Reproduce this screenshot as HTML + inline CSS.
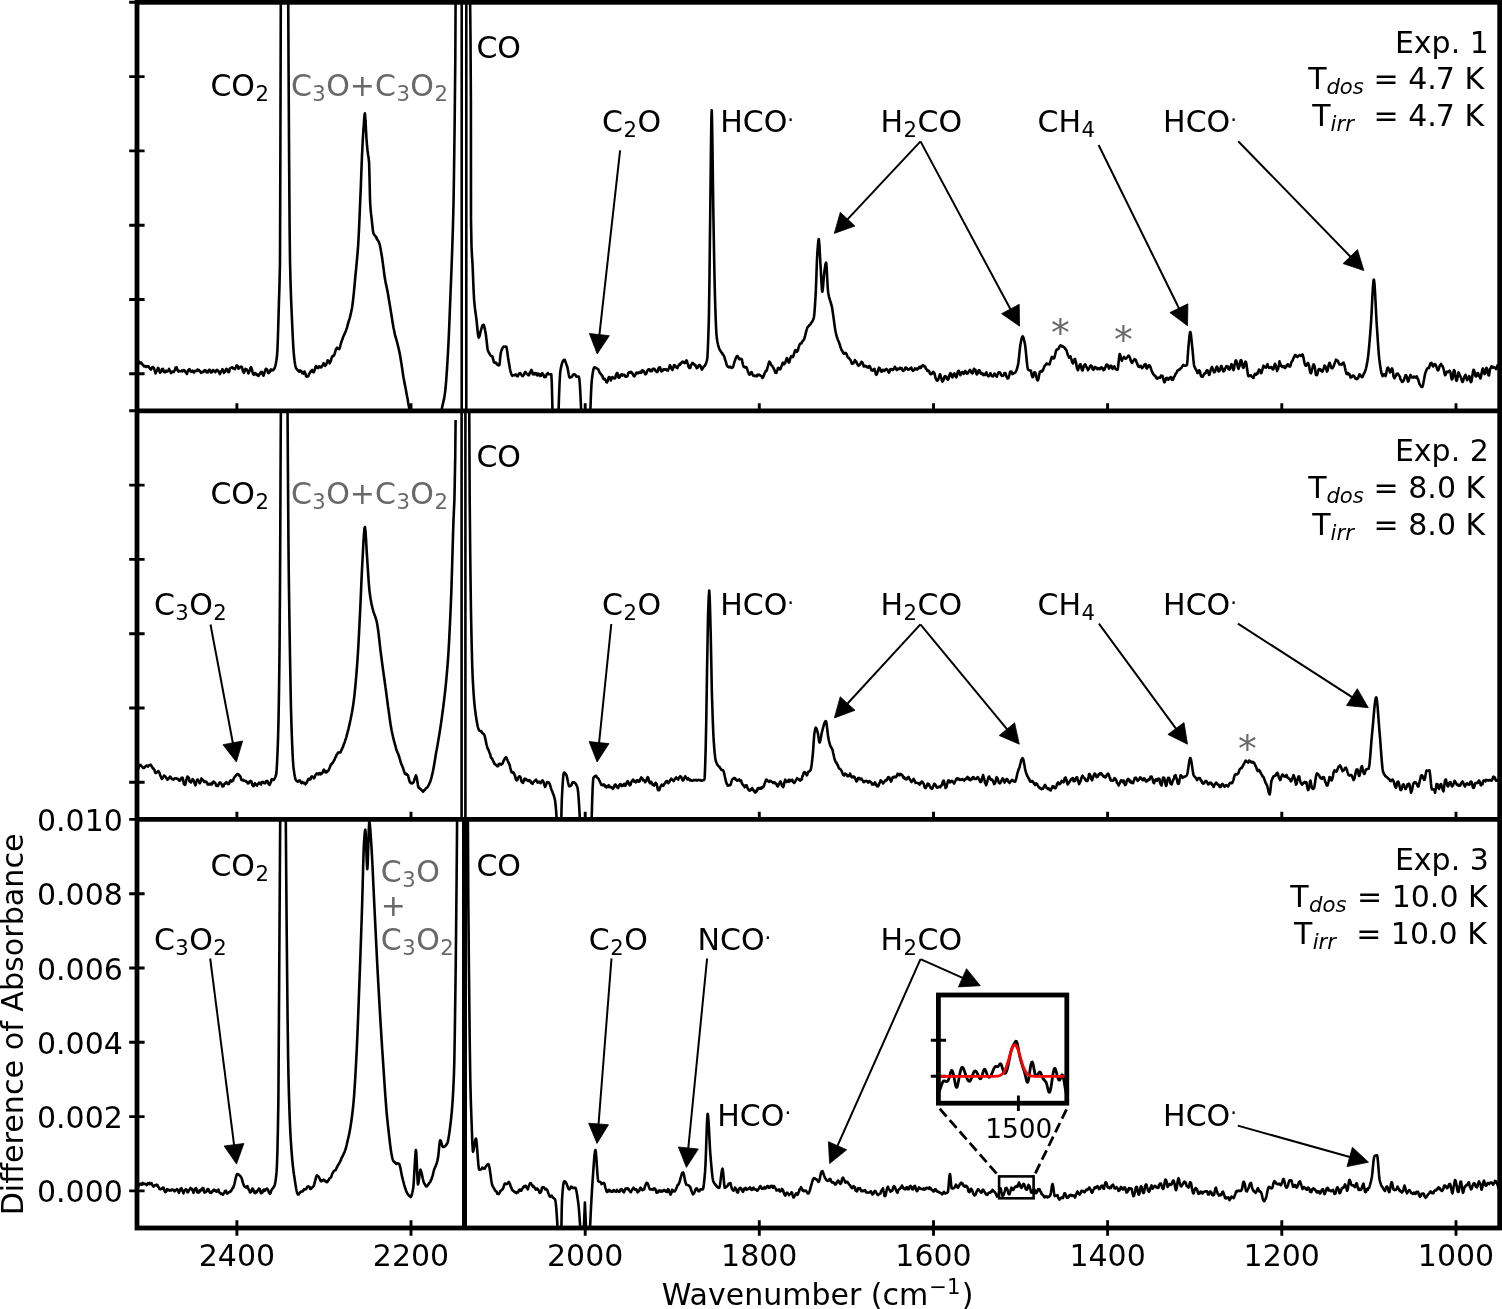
<!DOCTYPE html>
<html lang="en"><head><meta charset="utf-8"><title>Difference of Absorbance vs Wavenumber</title>
<style>html,body{margin:0;padding:0;background:#fff}svg{display:block}text{white-space:pre}</style>
</head><body>
<svg width="1502" height="1309" viewBox="0 0 1502 1309" font-family='"DejaVu Sans", "Liberation Sans", sans-serif' font-size="30.0">
<rect width="1502" height="1309" fill="#fff"/>
<defs>
<clipPath id="c1"><rect x="137.0" y="2.3" width="1362.7" height="408.59999999999997"/></clipPath>
<clipPath id="c2"><rect x="137.0" y="410.9" width="1362.7" height="408.5"/></clipPath>
<clipPath id="c3"><rect x="137.0" y="819.4" width="1362.7" height="408.6"/></clipPath>
<clipPath id="ci"><rect x="938.5" y="995" width="128.6" height="108"/></clipPath>
</defs>
<path clip-path="url(#c1)" d="M137.0,357.4 L137.5,358.6 L138.0,360.7 L138.5,361.4 L139.0,362.2 L139.5,363.0 L140.0,363.2 L140.5,363.0 L141.0,362.4 L141.5,362.9 L142.0,364.2 L142.5,364.3 L143.0,364.7 L143.5,365.8 L144.0,366.3 L144.5,366.0 L145.0,365.9 L145.5,366.1 L146.0,367.0 L146.5,366.4 L147.0,366.5 L147.5,366.3 L148.0,366.3 L148.5,366.2 L149.0,367.4 L149.5,367.9 L150.0,369.0 L150.5,368.9 L151.0,369.6 L151.5,368.5 L152.0,367.6 L152.5,367.2 L153.0,367.0 L153.5,367.9 L154.0,368.0 L154.5,369.9 L155.0,371.5 L155.5,373.4 L156.0,372.4 L156.5,371.0 L157.0,370.0 L157.5,369.4 L158.0,367.9 L158.5,368.3 L159.0,370.4 L159.5,371.6 L160.0,372.7 L160.5,372.0 L161.0,371.9 L161.5,370.4 L162.0,369.0 L162.5,369.1 L163.0,368.8 L163.5,371.3 L164.0,371.8 L164.5,372.3 L165.0,372.2 L165.5,371.4 L166.0,370.6 L166.5,371.6 L167.0,371.2 L167.5,371.4 L168.0,371.0 L168.5,370.5 L169.0,368.9 L169.5,370.3 L170.0,370.5 L170.5,371.9 L171.0,373.1 L171.5,372.6 L172.0,371.8 L172.5,372.0 L173.0,371.8 L173.5,372.1 L174.0,372.0 L174.5,370.3 L175.0,370.0 L175.5,367.7 L176.0,367.5 L176.5,367.3 L177.0,368.3 L177.5,370.0 L178.0,371.1 L178.5,371.6 L179.0,370.8 L179.5,370.9 L180.0,371.3 L180.5,371.3 L181.0,371.2 L181.5,371.1 L182.0,370.5 L182.5,371.3 L183.0,370.3 L183.5,370.0 L184.0,370.0 L184.5,370.6 L185.0,371.2 L185.5,372.3 L186.0,372.6 L186.5,373.2 L187.0,373.9 L187.5,371.9 L188.0,370.6 L188.5,369.9 L189.0,369.6 L189.5,369.1 L190.0,370.2 L190.5,371.4 L191.0,371.4 L191.5,371.3 L192.0,371.8 L192.5,370.7 L193.0,371.2 L193.5,371.3 L194.0,372.6 L194.5,371.1 L195.0,371.3 L195.5,370.9 L196.0,371.0 L196.5,370.8 L197.0,371.0 L197.5,369.5 L198.0,370.4 L198.5,370.0 L199.0,370.1 L199.5,371.2 L200.0,371.3 L200.5,371.5 L201.0,372.8 L201.5,372.4 L202.0,372.4 L202.5,372.2 L203.0,371.6 L203.5,371.9 L204.0,370.9 L204.5,370.1 L205.0,370.3 L205.5,370.3 L206.0,370.7 L206.5,372.3 L207.0,372.4 L207.5,371.7 L208.0,372.1 L208.5,370.7 L208.9,370.1 L209.4,369.7 L209.9,370.3 L210.4,370.9 L210.9,372.4 L211.4,372.5 L211.9,372.2 L212.4,371.5 L212.9,370.0 L213.4,370.4 L213.9,370.6 L214.4,371.3 L214.9,370.8 L215.4,372.2 L215.9,371.3 L216.4,370.4 L216.9,369.8 L217.4,370.3 L217.9,370.5 L218.4,370.9 L218.9,372.3 L219.4,373.1 L219.9,374.1 L220.4,372.9 L220.9,371.9 L221.4,370.9 L221.9,370.8 L222.4,369.2 L222.9,370.2 L223.4,371.1 L223.9,372.8 L224.4,372.2 L224.9,372.0 L225.4,371.2 L225.9,369.5 L226.4,368.8 L226.9,369.2 L227.4,369.5 L227.9,371.1 L228.4,372.3 L228.9,372.3 L229.4,371.0 L229.9,368.8 L230.4,368.1 L230.9,367.8 L231.4,367.5 L231.9,367.4 L232.4,367.4 L232.9,368.5 L233.4,368.3 L233.9,368.3 L234.4,368.6 L234.9,369.2 L235.4,368.0 L235.9,367.3 L236.4,365.6 L236.9,365.8 L237.4,365.5 L237.9,366.6 L238.4,368.7 L238.9,368.5 L239.4,367.9 L239.9,367.4 L240.4,366.9 L240.9,367.0 L241.4,366.6 L241.9,367.1 L242.4,369.2 L242.9,370.9 L243.4,372.0 L243.9,372.8 L244.4,371.7 L244.9,370.8 L245.4,368.9 L245.9,369.1 L246.4,369.5 L246.9,369.5 L247.4,370.4 L247.9,371.7 L248.4,373.4 L248.9,372.2 L249.4,371.5 L249.9,370.1 L250.4,368.5 L250.9,367.1 L251.4,367.8 L251.9,369.1 L252.4,371.6 L252.9,373.5 L253.4,374.3 L253.9,374.8 L254.4,374.5 L254.9,373.0 L255.4,373.2 L255.9,374.0 L256.4,373.8 L256.9,374.9 L257.4,374.6 L257.9,375.5 L258.4,375.9 L258.9,375.6 L259.4,374.2 L259.9,374.0 L260.4,372.9 L260.9,372.2 L261.4,372.6 L261.9,371.9 L262.4,374.0 L262.9,374.6 L263.4,375.7 L263.9,374.6 L264.4,372.7 L264.9,371.4 L265.4,370.0 L265.9,368.8 L266.4,369.0 L266.9,369.4 L267.4,369.9 L267.9,372.4 L268.4,373.1 L268.9,373.0 L269.4,372.4 L269.9,371.8 L270.4,370.1 L270.9,369.4 L271.4,369.7 L271.9,370.4 L272.0,370.0 L272.4,370.1 L272.9,370.3 L273.4,369.8 L273.9,369.2 L274.0,369.0 L274.4,368.5 L274.9,367.3 L275.4,365.5 L275.9,363.2 L276.4,360.3 L276.9,356.8 L277.0,356.0 L277.4,350.3 L277.9,337.5 L278.4,320.9 L278.9,303.4 L279.0,300.0 L279.4,288.1 L279.9,266.7 L280.0,260.0 L280.4,145.8 L280.8,0.0 L280.9,-20.0 M288.1,-20.0 L288.2,0.0 L288.6,71.9 L289.1,158.2 L289.6,227.1 L290.0,260.0 L290.1,264.8 L290.6,284.8 L291.1,299.5 L291.6,311.2 L292.0,320.0 L292.1,322.2 L292.6,333.2 L293.1,343.2 L293.6,351.3 L294.0,356.0 L294.1,356.8 L294.6,361.0 L295.1,364.4 L295.6,366.9 L296.0,368.0 L296.1,368.2 L296.6,368.9 L297.1,369.5 L297.6,370.0 L298.1,370.4 L298.6,371.3 L299.1,371.1 L299.6,371.6 L300.1,370.4 L300.6,371.4 L301.1,371.6 L301.6,371.3 L302.1,373.2 L302.6,373.1 L303.1,373.3 L303.6,373.6 L304.1,371.8 L304.6,371.5 L305.1,373.2 L305.6,374.0 L306.1,376.1 L306.6,376.6 L307.1,376.4 L307.6,376.5 L308.1,376.3 L308.6,375.3 L309.1,374.0 L309.6,373.2 L310.1,372.3 L310.6,371.3 L311.1,371.6 L311.6,370.4 L312.1,370.0 L312.6,370.8 L313.1,372.0 L313.6,372.2 L314.1,371.5 L314.6,370.1 L315.1,368.8 L315.6,366.6 L316.1,366.0 L316.6,367.2 L317.1,367.3 L317.6,368.0 L318.1,368.1 L318.6,367.1 L319.1,366.3 L319.6,367.2 L320.1,366.8 L320.6,366.7 L321.1,367.4 L321.6,367.0 L322.1,365.9 L322.6,365.4 L323.1,364.4 L323.6,363.1 L324.1,364.2 L324.6,365.1 L325.1,365.9 L325.6,365.3 L326.1,364.9 L326.6,363.4 L327.1,361.9 L327.6,360.4 L328.1,360.9 L328.6,360.7 L329.1,362.0 L329.6,363.3 L330.1,362.4 L330.6,361.4 L331.1,360.2 L331.6,357.9 L332.1,356.6 L332.6,356.1 L333.1,356.3 L333.6,355.2 L334.1,355.2 L334.6,353.9 L335.1,352.1 L335.6,350.3 L336.1,348.8 L336.6,348.3 L337.1,347.7 L337.6,348.4 L338.1,349.0 L338.6,349.0 L339.1,349.1 L339.6,348.5 L340.1,346.6 L340.6,344.5 L341.1,342.8 L341.6,341.1 L342.1,340.0 L342.6,338.8 L343.1,337.1 L343.6,335.9 L344.1,335.1 L344.6,333.7 L345.1,332.8 L345.6,331.5 L346.1,330.2 L346.6,328.7 L347.1,327.4 L347.6,325.2 L348.1,323.4 L348.6,321.7 L349.1,320.2 L349.6,318.7 L350.1,316.9 L350.5,315.0 L351.0,312.8 L351.5,310.4 L352.0,308.0 L352.5,304.6 L353.0,300.6 L353.5,296.1 L354.0,291.1 L354.5,285.8 L355.0,280.3 L355.5,274.9 L356.0,270.0 L356.5,264.5 L357.0,259.3 L357.5,253.7 L358.0,247.3 L358.2,245.0 L358.5,239.3 L359.0,229.4 L359.5,218.0 L360.0,206.0 L360.5,193.9 L360.6,192.6 L361.0,181.5 L361.5,168.1 L362.0,155.6 L362.3,150.0 L362.5,145.3 L363.0,136.3 L363.5,128.6 L363.8,125.0 L364.0,121.8 L364.5,115.3 L364.9,113.4 L365.0,114.0 L365.5,121.0 L365.6,122.0 L366.0,130.3 L366.4,137.0 L366.5,138.9 L367.0,145.2 L367.5,150.4 L367.6,151.0 L368.0,154.2 L368.5,157.2 L369.0,161.8 L369.1,162.6 L369.5,176.9 L370.0,198.7 L370.2,203.0 L370.5,208.0 L371.0,213.4 L371.5,217.6 L371.8,220.0 L372.0,222.2 L372.5,227.2 L373.0,231.3 L373.4,233.0 L373.5,233.4 L374.0,234.4 L374.5,235.0 L375.0,235.6 L375.5,236.1 L376.0,237.0 L376.5,238.1 L376.6,237.5 L377.0,239.4 L377.5,239.8 L378.0,240.4 L378.5,241.3 L379.0,242.4 L379.4,244.0 L379.5,243.8 L380.0,245.9 L380.5,248.3 L381.0,251.2 L381.5,254.2 L382.0,257.0 L382.5,260.6 L383.0,264.3 L383.5,268.2 L384.0,272.0 L384.5,275.8 L385.0,279.1 L385.2,280.0 L385.5,281.7 L386.0,284.2 L386.5,286.6 L387.0,288.9 L387.5,291.2 L388.0,294.0 L388.5,297.2 L389.0,300.1 L389.5,303.2 L390.0,306.0 L390.5,309.2 L391.0,312.2 L391.5,315.4 L392.0,318.4 L392.5,321.8 L393.0,324.8 L393.5,327.8 L394.0,330.0 L394.5,332.6 L395.0,335.0 L395.5,336.6 L396.0,338.4 L396.5,340.2 L397.0,341.9 L397.5,344.0 L398.0,346.0 L398.5,347.9 L399.0,350.0 L399.5,352.6 L400.0,355.0 L400.5,358.0 L401.0,361.1 L401.5,364.1 L402.0,367.5 L402.5,370.7 L403.0,374.1 L403.5,377.4 L404.0,380.0 L404.5,383.1 L405.0,385.4 L405.5,387.8 L406.0,390.5 L406.5,393.2 L407.0,395.9 L407.5,398.6 L408.0,401.6 L408.5,404.4 L409.0,406.9 L409.2,408.0 L409.5,409.7 L410.0,412.8 L410.5,416.0 L411.0,419.2 L411.5,422.5 L412.0,425.5 M438.0,425.1 L438.5,423.0 L439.0,421.3 L439.5,419.4 L440.0,417.2 L440.5,414.6 L441.0,412.5 L441.5,410.2 L442.0,408.0 L442.5,405.6 L443.0,403.4 L443.5,401.1 L444.1,398.6 L444.6,395.6 L445.0,392.6 L445.1,392.1 L445.6,387.5 L446.1,381.7 L446.6,374.8 L447.1,367.2 L447.6,358.9 L448.1,350.3 L448.6,340.5 L449.1,329.1 L449.6,316.7 L450.1,303.9 L450.4,296.4 L450.6,291.3 L451.1,278.9 L451.6,266.2 L452.1,252.6 L452.6,237.4 L452.7,235.0 L453.1,220.3 L453.6,200.0 L454.1,165.4 L454.6,128.0 L455.1,79.1 L455.3,60.0 L455.6,0.0 M461.7,-20.0 L461.7,425.0 M466.3,-20.0 L466.3,425.0 M470.0,-20.0 L470.1,0.0 L470.5,37.6 L470.9,100.0 L471.0,219.6 L471.5,246.2 L472.0,256.3 L472.5,263.4 L472.6,265.8 L473.0,275.9 L473.5,288.3 L474.0,298.0 L474.1,299.5 L474.5,304.0 L475.0,308.6 L475.5,312.5 L476.0,316.1 L476.4,319.3 L476.5,320.0 L477.0,324.9 L477.5,330.0 L478.0,334.5 L478.5,337.1 L478.7,337.6 L479.0,337.4 L479.5,336.1 L480.0,334.1 L480.5,331.9 L481.0,330.2 L481.5,328.5 L482.0,326.7 L482.5,325.5 L483.0,324.7 L483.3,324.7 L483.5,324.7 L484.0,325.7 L484.5,327.6 L485.0,329.9 L485.5,332.5 L485.6,333.0 L486.0,335.5 L486.5,339.9 L487.0,344.5 L487.5,348.5 L487.9,350.6 L488.0,350.7 L488.5,351.8 L489.0,352.8 L489.5,353.6 L490.0,354.5 L490.5,355.4 L490.9,355.8 L491.4,356.1 L491.9,356.3 L492.4,356.3 L492.9,358.5 L493.4,360.0 L493.9,362.2 L494.4,362.6 L494.9,362.6 L495.4,362.5 L495.9,362.5 L496.4,363.4 L496.9,364.3 L497.4,364.6 L497.9,364.9 L498.4,365.3 L498.9,365.4 L499.3,365.0 L499.4,365.1 L499.9,361.2 L500.4,355.7 L500.8,353.0 L500.9,352.5 L501.4,350.8 L501.9,349.4 L502.4,348.2 L502.9,347.3 L503.4,346.8 L503.9,346.5 L504.4,346.8 L504.9,346.7 L505.4,346.6 L505.9,346.7 L506.2,346.8 L506.4,346.9 L506.9,349.2 L507.4,352.7 L507.9,356.5 L508.4,360.1 L508.5,360.6 L508.9,362.8 L509.4,365.5 L509.9,368.4 L510.4,370.8 L510.9,372.7 L511.4,374.4 L511.9,375.2 L512.3,375.8 L512.4,375.4 L512.9,375.5 L513.4,375.3 L513.9,375.3 L514.4,375.2 L514.9,374.9 L515.4,375.0 L515.9,374.5 L516.4,375.0 L516.9,376.1 L517.4,376.1 L517.9,376.2 L518.4,374.6 L518.9,374.1 L519.4,373.3 L519.9,373.2 L520.4,373.1 L520.9,374.5 L521.4,374.8 L521.9,375.6 L522.4,376.0 L522.9,376.1 L523.4,375.0 L523.9,374.7 L524.4,373.3 L524.9,372.3 L525.4,371.9 L525.9,372.4 L526.4,373.2 L526.9,373.9 L527.4,374.2 L527.9,374.9 L528.4,374.9 L528.9,375.4 L529.4,374.3 L529.9,372.3 L530.4,372.5 L530.9,370.8 L531.4,369.9 L531.9,370.9 L532.3,371.8 L532.8,374.3 L533.3,374.4 L533.8,373.6 L534.3,374.1 L534.8,373.2 L535.3,374.1 L535.8,373.1 L536.3,373.3 L536.8,375.2 L537.3,375.4 L537.8,375.0 L538.3,373.7 L538.8,374.4 L539.3,375.2 L539.8,374.2 L540.3,376.0 L540.8,375.1 L541.3,375.6 L541.8,373.8 L542.3,373.1 L542.8,373.9 L543.3,374.7 L543.8,375.6 L544.3,377.1 L544.8,376.9 L545.3,376.0 L545.8,377.0 L546.3,375.0 L546.8,374.1 L547.3,374.0 L547.8,373.0 L548.3,374.2 L548.8,374.3 L549.3,374.3 L549.8,374.3 L550.3,374.3 L550.8,374.3 L551.3,374.3 L551.8,383.3 L552.3,403.5 L552.8,425.0 M558.1,425.0 L558.6,409.1 L559.1,394.3 L559.6,382.0 L560.1,373.6 L560.4,371.0 L560.6,369.8 L561.1,367.1 L561.6,364.9 L562.1,363.1 L562.6,361.7 L563.1,360.8 L563.6,360.2 L563.8,360.3 L564.2,359.7 L564.7,359.8 L565.2,361.0 L565.7,362.4 L566.2,363.9 L566.7,365.4 L567.2,366.8 L567.3,366.7 L567.7,368.8 L568.2,371.4 L568.7,374.3 L569.2,376.8 L569.6,377.4 L569.7,377.6 L570.2,377.5 L570.7,377.5 L571.2,377.2 L571.7,376.9 L572.2,376.4 L572.7,375.2 L573.2,374.7 L573.7,374.4 L574.2,374.2 L574.7,374.6 L575.2,374.6 L575.7,375.4 L576.3,376.6 L576.8,376.6 L577.3,376.6 L577.8,376.6 L578.3,376.6 L578.8,376.6 L579.3,378.5 L579.8,383.9 L580.3,392.2 L580.8,402.4 L581.3,413.6 L581.8,425.0 M589.9,425.0 L590.4,409.7 L590.9,396.1 L591.4,385.6 L591.8,380.4 L591.9,379.5 L592.4,375.5 L592.9,372.0 L593.4,369.4 L593.9,367.8 L594.3,367.4 L594.4,367.4 L594.9,367.4 L595.4,367.7 L595.9,368.0 L596.4,368.3 L596.9,368.6 L597.4,368.7 L597.9,369.0 L598.4,369.6 L598.9,370.9 L599.4,371.9 L599.9,373.3 L600.4,373.4 L600.9,374.2 L601.4,374.5 L601.9,375.8 L602.4,375.9 L602.9,377.5 L603.4,378.6 L603.9,378.8 L604.4,379.6 L604.9,378.9 L605.4,380.2 L605.9,380.5 L606.4,382.2 L606.9,382.5 L607.4,381.5 L607.9,380.6 L608.4,378.5 L608.9,377.0 L609.4,377.0 L609.9,377.3 L610.4,378.9 L610.9,380.4 L611.4,378.9 L611.9,378.4 L612.4,377.0 L612.9,377.4 L613.4,377.8 L613.9,378.4 L614.4,378.3 L614.9,378.4 L615.4,377.8 L615.9,375.2 L616.4,374.0 L616.9,373.0 L617.4,373.1 L617.9,375.8 L618.4,377.4 L618.9,377.8 L619.4,377.6 L619.9,376.7 L620.4,375.1 L620.9,374.8 L621.4,374.6 L621.9,374.2 L622.4,375.7 L622.9,375.4 L623.4,374.9 L623.9,375.0 L624.4,374.8 L624.9,375.7 L625.4,376.7 L625.9,376.8 L626.4,376.3 L626.9,376.4 L627.4,376.3 L627.9,374.5 L628.4,372.9 L628.9,372.4 L629.4,372.4 L629.9,372.4 L630.4,372.6 L630.9,371.8 L631.4,372.1 L631.9,372.6 L632.4,373.7 L632.9,373.9 L633.4,375.5 L633.9,375.4 L634.4,376.4 L634.9,375.6 L635.4,374.7 L635.9,373.5 L636.4,372.6 L636.9,373.3 L637.4,372.9 L637.9,373.4 L638.4,372.6 L638.9,372.5 L639.4,372.7 L639.9,373.0 L640.4,371.9 L640.9,372.7 L641.4,372.6 L641.9,370.6 L642.4,370.9 L642.9,370.4 L643.4,371.0 L643.9,371.3 L644.4,372.2 L644.9,373.5 L645.4,374.3 L645.9,374.1 L646.4,373.3 L646.9,372.0 L647.4,370.6 L647.9,369.9 L648.4,369.4 L648.9,369.9 L649.4,369.4 L649.9,370.5 L650.4,371.1 L650.9,370.5 L651.4,369.9 L651.9,371.2 L652.4,370.3 L652.9,368.8 L653.4,369.4 L653.9,369.2 L654.4,368.9 L654.9,369.7 L655.4,370.3 L655.9,371.3 L656.4,371.3 L656.9,372.0 L657.4,372.0 L657.9,370.9 L658.4,368.6 L658.9,367.7 L659.4,367.9 L659.9,367.3 L660.4,368.4 L660.9,370.3 L661.4,371.4 L661.9,371.3 L662.4,370.1 L662.9,370.5 L663.4,369.3 L663.9,369.7 L664.4,369.3 L664.9,369.5 L665.4,369.7 L665.9,369.2 L666.4,369.9 L666.9,370.4 L667.4,370.2 L667.9,370.6 L668.4,369.1 L668.9,368.5 L669.4,366.7 L669.9,365.3 L670.4,366.0 L670.9,366.9 L671.4,368.2 L671.9,369.4 L672.4,370.0 L672.9,368.7 L673.4,367.6 L673.9,365.4 L674.4,365.1 L674.9,365.4 L675.4,365.9 L675.9,366.9 L676.4,367.5 L676.9,367.9 L677.4,368.1 L677.9,366.7 L678.4,365.6 L678.9,365.6 L679.4,364.3 L679.9,365.0 L680.4,363.3 L680.9,363.6 L681.4,362.5 L681.9,362.6 L682.4,361.6 L682.9,361.8 L683.4,361.9 L683.9,362.2 L684.4,362.9 L684.9,363.2 L685.4,361.6 L685.9,361.3 L686.4,360.4 L686.9,360.8 L687.4,363.3 L687.9,363.8 L688.4,366.5 L688.9,367.3 L689.4,368.0 L689.9,367.3 L690.4,367.8 L690.9,365.1 L691.4,364.8 L691.9,364.0 L692.4,362.9 L692.9,363.2 L693.4,363.9 L693.9,363.8 L694.4,364.5 L694.9,365.4 L695.4,365.2 L695.9,366.2 L696.4,367.5 L696.9,368.2 L697.4,367.7 L697.9,367.4 L698.4,366.4 L698.9,365.2 L699.4,365.0 L699.9,365.0 L700.4,366.0 L700.9,366.9 L701.4,368.5 L701.9,369.6 L702.4,368.6 L702.9,368.2 L703.4,367.0 L703.9,366.4 L704.4,366.2 L704.9,365.6 L705.4,364.7 L705.9,363.6 L706.4,362.1 L706.9,360.4 L707.1,359.7 L707.4,357.1 L707.9,348.0 L708.4,333.9 L708.9,316.9 L709.4,284.2 L709.9,239.6 L710.2,216.0 L710.4,198.6 L710.9,152.5 L711.4,117.0 L711.7,110.2 L711.9,113.5 L712.4,140.9 L712.9,181.3 L713.4,216.0 L713.9,244.7 L714.4,271.7 L714.9,294.4 L715.2,304.3 L715.4,310.6 L715.9,324.0 L716.4,333.8 L716.7,337.0 L716.9,338.6 L717.4,341.7 L717.9,344.2 L718.4,346.2 L718.9,347.7 L719.4,349.0 L719.7,349.6 L719.9,350.1 L720.4,350.7 L720.9,351.5 L721.4,352.3 L721.9,353.2 L722.4,353.3 L722.9,354.7 L723.4,355.0 L723.9,355.7 L724.4,357.1 L724.9,359.0 L725.4,360.4 L725.9,361.9 L726.4,363.9 L726.9,365.7 L727.4,366.1 L727.9,366.7 L728.4,366.9 L728.9,367.4 L729.4,366.8 L729.9,367.2 L730.4,366.7 L730.9,367.1 L731.4,367.9 L731.9,368.0 L732.4,367.4 L732.9,367.3 L733.4,365.8 L733.9,363.7 L734.4,362.1 L734.9,360.7 L735.4,359.2 L735.9,358.0 L736.4,356.8 L736.9,356.3 L737.4,355.9 L737.9,356.8 L738.4,357.4 L738.9,358.8 L739.4,359.3 L739.9,358.9 L740.4,358.9 L740.9,358.8 L741.4,358.9 L741.9,359.5 L742.4,362.4 L742.9,364.5 L743.4,366.2 L743.9,366.8 L744.4,367.1 L744.9,367.4 L745.4,367.0 L745.9,366.9 L746.4,367.3 L746.9,368.3 L747.4,369.8 L747.9,371.8 L748.4,372.4 L748.9,374.1 L749.4,374.7 L749.9,374.5 L750.4,374.1 L750.9,373.3 L751.4,372.0 L751.9,372.4 L752.4,374.2 L752.9,374.9 L753.4,375.7 L753.9,375.5 L754.4,375.6 L754.9,376.1 L755.4,375.9 L755.9,375.8 L756.4,376.2 L756.9,376.2 L757.4,374.8 L757.9,375.4 L758.4,375.2 L758.9,374.6 L759.4,375.1 L759.9,375.1 L760.4,375.6 L760.9,376.0 L761.4,376.0 L761.9,376.7 L762.4,378.0 L762.9,377.6 L763.4,376.7 L763.9,375.2 L764.4,374.1 L764.9,372.6 L765.4,371.9 L765.9,370.9 L766.4,371.0 L766.9,369.8 L767.4,367.9 L767.9,366.3 L768.4,364.3 L768.9,362.7 L769.4,361.7 L769.9,362.1 L770.4,362.9 L770.9,364.3 L771.4,365.4 L771.9,365.7 L772.4,366.1 L772.9,367.4 L773.4,367.9 L773.9,368.9 L774.4,370.0 L774.9,371.3 L775.4,372.7 L775.9,372.6 L776.4,372.9 L776.9,371.2 L777.4,369.9 L777.9,368.2 L778.4,367.8 L778.9,368.1 L779.4,369.1 L779.9,369.4 L780.4,369.1 L780.9,368.1 L781.4,366.4 L781.9,365.1 L782.4,363.4 L782.9,362.7 L783.4,363.3 L783.9,364.3 L784.4,363.8 L784.9,363.5 L785.4,362.1 L785.9,360.8 L786.4,359.1 L786.9,358.0 L787.4,358.7 L787.9,360.5 L788.4,362.0 L788.9,362.5 L789.4,361.9 L789.9,359.9 L790.4,358.0 L790.9,357.2 L791.4,356.1 L791.9,356.9 L792.4,356.6 L792.9,357.0 L793.4,355.9 L793.9,354.1 L794.4,352.8 L794.9,350.8 L795.4,350.0 L795.9,350.0 L796.4,350.4 L796.9,351.8 L797.4,351.1 L797.9,350.4 L798.4,348.2 L798.9,346.6 L799.4,345.1 L799.9,344.1 L800.4,343.5 L800.9,343.4 L801.4,343.4 L801.9,342.2 L802.4,341.4 L802.9,340.5 L803.4,340.5 L803.9,339.5 L804.4,338.2 L804.9,336.8 L805.4,334.5 L805.9,332.6 L806.4,330.7 L806.9,329.0 L807.4,327.4 L807.9,326.7 L808.4,326.5 L808.9,326.1 L809.4,325.0 L809.9,325.0 L810.4,324.4 L810.9,323.2 L811.4,322.7 L811.9,322.0 L812.4,321.3 L812.9,320.3 L813.4,319.1 L813.8,318.0 L813.9,317.5 L814.4,313.3 L814.9,306.6 L815.4,298.3 L815.8,291.7 L815.9,289.2 L816.4,275.9 L816.9,261.5 L817.3,253.9 L817.4,252.1 L817.9,245.4 L818.4,240.5 L818.8,239.2 L818.9,239.5 L819.4,244.7 L819.9,253.9 L820.4,263.6 L820.6,266.5 L820.9,272.1 L821.4,281.8 L821.9,289.6 L822.3,291.7 L822.4,291.6 L822.9,288.3 L823.4,282.4 L823.9,276.1 L824.4,271.5 L824.9,267.8 L825.4,264.6 L825.9,262.8 L826.1,262.7 L826.4,264.3 L826.9,272.0 L827.4,282.0 L827.9,290.1 L828.1,291.7 L828.4,293.7 L828.9,296.2 L829.4,298.2 L829.9,299.9 L830.4,301.4 L830.9,303.0 L831.4,304.9 L831.9,306.8 L832.4,309.7 L832.9,313.0 L833.4,316.6 L833.9,320.4 L834.4,324.2 L834.9,327.6 L835.4,330.7 L835.7,332.0 L835.9,333.1 L836.4,335.1 L836.9,336.9 L837.4,338.5 L837.9,339.9 L838.4,341.1 L838.9,342.3 L839.4,343.5 L839.9,345.1 L840.4,347.1 L840.9,348.1 L841.4,349.6 L841.9,350.6 L842.4,350.9 L842.9,352.5 L843.4,353.3 L843.9,353.7 L844.4,353.3 L844.9,352.9 L845.4,353.2 L845.9,353.0 L846.4,354.0 L846.9,354.9 L847.4,356.5 L847.9,357.5 L848.4,357.6 L848.9,357.7 L849.4,358.8 L849.9,359.3 L850.4,359.8 L850.9,361.1 L851.4,362.4 L851.9,363.7 L852.4,363.0 L852.9,363.4 L853.4,363.4 L853.9,361.9 L854.4,362.0 L854.9,360.1 L855.4,362.0 L855.9,361.8 L856.4,361.5 L856.9,363.3 L857.4,364.2 L857.9,365.1 L858.4,365.8 L858.9,365.5 L859.4,365.0 L859.9,364.5 L860.4,363.7 L860.9,362.9 L861.4,361.8 L861.9,361.9 L862.4,362.8 L862.9,363.6 L863.4,365.6 L863.9,366.5 L864.4,365.6 L864.9,366.2 L865.4,365.9 L865.9,366.0 L866.4,366.9 L866.9,366.6 L867.4,367.0 L867.9,367.6 L868.4,367.7 L868.9,366.5 L869.4,366.0 L869.9,366.7 L870.4,367.5 L870.9,368.9 L871.4,370.3 L871.9,370.2 L872.4,370.6 L872.9,369.7 L873.4,369.7 L873.9,369.2 L874.4,368.8 L874.9,371.1 L875.4,371.8 L875.9,374.4 L876.4,374.8 L876.9,374.0 L877.4,372.5 L877.9,370.9 L878.4,369.1 L878.9,367.7 L879.4,368.3 L879.9,368.3 L880.4,370.3 L880.9,371.3 L881.4,370.9 L881.9,371.7 L882.4,370.6 L882.9,369.8 L883.4,370.4 L883.9,370.5 L884.4,370.9 L884.9,369.8 L885.4,370.0 L885.9,369.3 L886.4,368.9 L886.9,369.4 L887.4,369.8 L887.9,370.5 L888.4,372.0 L888.9,372.6 L889.4,372.0 L889.9,370.8 L890.4,369.2 L890.9,369.6 L891.4,369.5 L891.9,369.1 L892.4,369.9 L892.9,370.0 L893.4,369.1 L893.9,368.7 L894.4,368.0 L894.9,366.8 L895.4,367.8 L895.9,368.8 L896.4,369.7 L896.9,370.2 L897.4,368.7 L897.9,369.2 L898.4,369.2 L898.9,369.0 L899.4,369.0 L899.9,367.9 L900.4,368.2 L900.9,367.9 L901.4,368.9 L901.9,368.3 L902.4,370.1 L902.9,370.7 L903.4,371.0 L903.9,369.7 L904.4,369.8 L904.9,369.4 L905.4,367.5 L905.9,367.6 L906.4,367.7 L906.9,368.7 L907.4,369.1 L907.9,369.7 L908.4,369.6 L908.9,369.5 L909.4,368.9 L909.9,368.7 L910.4,368.0 L910.9,368.5 L911.4,367.7 L911.9,369.7 L912.4,369.8 L912.9,370.9 L913.4,370.4 L913.9,370.1 L914.4,369.8 L914.9,368.4 L915.4,368.7 L915.9,368.8 L916.4,369.3 L916.9,368.7 L917.4,369.3 L917.9,368.9 L918.4,368.2 L918.9,367.9 L919.4,366.9 L919.9,368.0 L920.4,367.4 L920.9,367.8 L921.4,366.2 L921.9,365.8 L922.4,366.2 L922.9,365.4 L923.4,366.2 L923.9,365.8 L924.4,366.1 L924.9,366.6 L925.4,367.2 L925.9,368.8 L926.4,369.3 L926.9,369.4 L927.4,370.9 L927.9,370.2 L928.4,370.8 L928.9,370.7 L929.4,371.8 L929.9,373.7 L930.4,373.9 L930.9,374.3 L931.4,374.0 L931.9,373.4 L932.4,373.4 L932.9,372.0 L933.4,371.9 L933.9,373.0 L934.4,373.0 L934.9,375.0 L935.4,377.4 L935.9,378.6 L936.4,379.8 L936.9,380.6 L937.4,380.7 L937.9,380.2 L938.4,379.1 L938.9,377.6 L939.4,375.8 L939.9,374.3 L940.4,374.7 L940.9,377.0 L941.4,378.1 L941.9,380.7 L942.4,381.7 L942.9,381.1 L943.4,380.0 L943.9,379.1 L944.4,376.8 L944.9,376.2 L945.4,376.0 L945.9,376.6 L946.4,376.7 L946.9,378.8 L947.4,379.1 L947.9,379.7 L948.4,379.2 L948.9,377.4 L949.4,375.0 L949.9,374.1 L950.4,373.1 L950.9,373.8 L951.4,375.9 L951.9,376.5 L952.4,377.4 L952.9,376.3 L953.4,374.5 L953.9,374.3 L954.4,373.4 L954.9,375.2 L955.4,375.8 L955.9,377.1 L956.4,377.3 L956.9,375.6 L957.4,373.2 L957.9,371.7 L958.4,370.8 L958.9,371.0 L959.4,372.4 L959.9,374.4 L960.4,375.2 L960.9,373.6 L961.4,373.0 L961.9,372.3 L962.4,372.0 L962.9,372.2 L963.4,373.8 L963.9,372.9 L964.4,373.2 L964.9,372.8 L965.4,370.9 L965.9,372.3 L966.4,373.0 L966.9,373.7 L967.4,373.6 L967.9,373.4 L968.4,372.0 L968.9,371.4 L969.4,370.6 L969.9,369.9 L970.4,370.4 L970.9,371.4 L971.4,372.5 L971.9,373.3 L972.4,373.5 L972.9,372.9 L973.4,370.9 L973.9,368.7 L974.4,369.2 L974.9,369.7 L975.4,369.8 L975.9,371.9 L976.4,373.7 L976.9,374.5 L977.4,373.8 L977.9,372.8 L978.4,370.8 L978.9,370.2 L979.4,370.3 L979.9,370.9 L980.4,372.9 L980.9,373.6 L981.4,373.9 L981.9,373.2 L982.4,373.9 L982.9,373.6 L983.4,375.1 L983.9,374.4 L984.4,375.0 L984.9,375.0 L985.4,373.6 L985.9,373.2 L986.4,372.4 L986.9,374.5 L987.4,375.2 L987.9,375.8 L988.4,376.3 L988.9,375.7 L989.4,375.3 L989.9,374.0 L990.4,373.1 L990.9,374.1 L991.4,375.6 L991.9,376.2 L992.4,376.2 L992.9,376.5 L993.4,375.5 L993.9,374.9 L994.4,373.5 L994.9,374.2 L995.4,375.6 L995.9,376.0 L996.4,376.4 L996.9,376.7 L997.4,374.7 L997.9,373.7 L998.4,372.5 L998.9,372.2 L999.4,372.6 L999.9,372.4 L1000.4,372.8 L1000.9,375.0 L1001.4,375.0 L1001.9,376.0 L1002.4,375.8 L1002.9,375.7 L1003.4,375.5 L1003.9,374.8 L1004.4,373.2 L1004.9,373.8 L1005.4,373.1 L1005.9,374.5 L1006.4,376.8 L1006.9,376.8 L1007.4,378.4 L1007.9,378.0 L1008.4,378.1 L1008.9,376.5 L1009.4,374.8 L1009.9,372.5 L1010.4,371.5 L1010.9,371.9 L1011.4,371.6 L1011.9,372.8 L1012.4,374.1 L1012.9,373.9 L1013.4,373.7 L1013.9,373.2 L1014.4,373.1 L1014.9,372.7 L1015.4,372.3 L1015.9,371.4 L1016.4,370.3 L1016.9,368.9 L1017.4,367.1 L1017.9,365.3 L1018.0,365.0 L1018.4,362.5 L1018.9,358.1 L1019.4,353.1 L1019.9,348.3 L1020.4,344.5 L1020.6,343.7 L1020.9,341.9 L1021.4,339.5 L1021.9,337.6 L1022.4,336.5 L1022.7,336.3 L1022.9,336.5 L1023.4,337.5 L1023.9,339.3 L1024.4,341.6 L1024.9,343.7 L1025.4,347.3 L1025.9,352.0 L1026.4,357.4 L1026.9,362.5 L1027.4,366.7 L1027.9,369.1 L1028.1,369.3 L1028.4,369.8 L1028.9,370.1 L1029.4,370.3 L1029.9,370.4 L1030.4,370.5 L1030.9,370.5 L1031.4,373.0 L1031.9,375.8 L1032.4,377.0 L1032.9,377.2 L1033.4,376.1 L1033.9,374.0 L1034.4,372.2 L1034.9,372.2 L1035.4,373.0 L1035.9,374.6 L1036.4,376.9 L1036.9,379.1 L1037.4,380.3 L1037.9,380.4 L1038.4,378.9 L1038.9,376.5 L1039.4,373.6 L1039.9,371.8 L1040.4,371.4 L1040.9,371.1 L1041.4,370.8 L1041.9,371.6 L1042.4,370.4 L1042.9,370.7 L1043.4,369.0 L1043.9,367.8 L1044.4,366.4 L1044.9,365.4 L1045.5,364.9 L1046.0,364.3 L1046.5,363.6 L1047.0,363.6 L1047.5,363.9 L1048.0,364.3 L1048.5,364.3 L1049.0,364.1 L1049.5,364.4 L1050.0,362.7 L1050.5,361.0 L1051.0,359.4 L1051.5,357.9 L1052.0,356.9 L1052.5,357.5 L1053.0,358.4 L1053.5,358.4 L1054.0,358.3 L1054.5,357.4 L1055.0,355.3 L1055.5,353.0 L1056.0,351.0 L1056.5,350.0 L1057.0,349.3 L1057.5,349.4 L1058.0,348.7 L1058.5,348.7 L1059.0,347.9 L1059.5,346.4 L1060.0,346.4 L1060.5,345.4 L1061.0,345.7 L1061.5,345.7 L1062.0,346.0 L1062.5,346.7 L1063.0,346.4 L1063.5,346.8 L1064.0,347.2 L1064.5,347.6 L1065.0,348.6 L1065.5,348.8 L1066.0,349.9 L1066.5,350.3 L1067.0,352.2 L1067.5,353.8 L1068.0,355.4 L1068.5,356.1 L1069.0,357.7 L1069.5,356.6 L1070.0,356.5 L1070.5,356.4 L1071.0,358.1 L1071.5,359.4 L1072.0,361.8 L1072.5,362.7 L1073.0,363.4 L1073.5,362.3 L1074.0,361.1 L1074.5,359.3 L1075.0,358.9 L1075.5,360.8 L1076.0,362.6 L1076.5,365.4 L1077.0,368.5 L1077.5,369.0 L1078.0,370.2 L1078.5,368.6 L1079.0,366.5 L1079.5,365.2 L1080.0,364.5 L1080.5,364.3 L1081.0,365.9 L1081.5,368.4 L1082.0,370.2 L1082.5,370.5 L1083.0,369.4 L1083.5,367.5 L1084.0,365.6 L1084.5,364.8 L1085.0,364.3 L1085.5,364.7 L1086.0,366.3 L1086.5,366.9 L1087.0,368.0 L1087.5,368.8 L1088.0,370.2 L1088.5,368.5 L1089.0,368.8 L1089.5,367.7 L1090.0,366.1 L1090.5,366.1 L1091.0,365.5 L1091.5,366.0 L1092.0,366.8 L1092.5,368.9 L1093.0,369.6 L1093.5,369.8 L1094.0,368.9 L1094.5,367.4 L1095.0,366.9 L1095.5,367.3 L1096.0,367.7 L1096.5,368.3 L1097.0,368.0 L1097.5,369.2 L1098.0,368.9 L1098.5,368.2 L1099.0,368.3 L1099.5,369.1 L1100.0,368.4 L1100.5,368.7 L1101.0,367.4 L1101.5,367.3 L1102.0,368.0 L1102.5,368.1 L1103.0,369.5 L1103.5,370.2 L1104.0,369.3 L1104.5,369.6 L1105.0,367.9 L1105.5,367.0 L1106.0,365.7 L1106.5,364.6 L1107.0,364.6 L1107.5,364.9 L1108.0,366.5 L1108.5,367.4 L1109.0,368.6 L1109.5,367.9 L1110.0,366.0 L1110.5,366.1 L1111.0,365.7 L1111.5,366.1 L1112.0,367.7 L1112.5,368.8 L1113.0,368.4 L1113.5,367.6 L1114.0,366.6 L1114.5,366.3 L1115.0,368.4 L1115.5,368.9 L1116.0,369.3 L1116.5,369.5 L1117.0,369.8 L1117.5,369.7 L1118.0,367.8 L1118.5,363.2 L1119.0,358.1 L1119.5,354.6 L1119.7,354.0 L1120.0,354.3 L1120.5,356.0 L1121.0,358.2 L1121.5,360.0 L1121.8,360.8 L1122.0,360.3 L1122.5,358.7 L1123.0,358.6 L1123.5,357.9 L1124.0,356.9 L1124.5,357.7 L1125.0,358.0 L1125.5,358.7 L1126.0,358.6 L1126.5,358.0 L1127.0,357.6 L1127.5,357.1 L1128.0,356.1 L1128.5,355.5 L1129.0,355.8 L1129.5,357.0 L1130.0,357.7 L1130.5,359.8 L1131.0,361.2 L1131.5,362.1 L1132.0,363.0 L1132.5,362.1 L1133.0,361.6 L1133.5,360.4 L1134.0,360.0 L1134.5,359.0 L1135.0,359.3 L1135.5,360.0 L1136.0,360.2 L1136.5,362.2 L1137.0,363.0 L1137.5,364.5 L1138.0,365.6 L1138.5,366.7 L1139.0,366.8 L1139.5,367.0 L1140.0,366.0 L1140.5,365.8 L1141.0,366.2 L1141.5,367.2 L1142.0,368.2 L1142.5,367.8 L1143.0,367.1 L1143.5,366.7 L1144.0,365.6 L1144.5,364.7 L1145.0,364.2 L1145.5,364.1 L1146.0,366.2 L1146.5,368.1 L1147.0,368.5 L1147.5,367.3 L1148.0,367.0 L1148.5,365.4 L1149.0,365.9 L1149.5,365.4 L1150.0,365.8 L1150.5,367.5 L1151.0,368.6 L1151.5,370.5 L1152.0,371.7 L1152.5,372.5 L1153.0,373.9 L1153.5,374.1 L1154.0,375.2 L1154.5,375.4 L1155.0,375.7 L1155.5,376.0 L1156.0,377.5 L1156.5,378.2 L1157.0,377.5 L1157.5,378.7 L1158.0,378.0 L1158.5,377.8 L1159.0,377.6 L1159.5,377.3 L1160.0,377.8 L1160.5,377.0 L1161.0,375.6 L1161.5,376.5 L1162.0,375.8 L1162.5,375.7 L1163.0,377.8 L1163.5,379.7 L1164.0,381.8 L1164.5,382.3 L1165.0,381.3 L1165.5,379.5 L1166.0,378.1 L1166.5,378.2 L1167.0,377.8 L1167.5,379.3 L1168.0,378.6 L1168.5,379.6 L1169.0,379.0 L1169.5,377.9 L1170.0,377.9 L1170.5,377.1 L1171.0,377.1 L1171.5,378.3 L1172.0,379.8 L1172.5,379.2 L1173.0,379.6 L1173.5,378.3 L1174.0,376.9 L1174.5,376.4 L1175.0,375.5 L1175.5,374.2 L1176.0,373.2 L1176.5,372.8 L1177.0,371.8 L1177.5,370.5 L1178.0,370.4 L1178.5,370.3 L1179.0,370.0 L1179.5,369.2 L1180.0,369.4 L1180.5,368.6 L1181.0,368.0 L1181.5,367.9 L1182.0,366.6 L1182.5,366.0 L1183.0,365.5 L1183.5,364.9 L1184.0,365.6 L1184.5,365.7 L1185.0,365.7 L1185.5,365.7 L1186.0,365.5 L1186.5,365.3 L1186.8,365.0 L1187.0,364.6 L1187.5,359.9 L1188.0,352.7 L1188.5,346.2 L1189.0,341.0 L1189.5,335.7 L1190.0,332.4 L1190.2,332.0 L1190.5,332.3 L1191.0,335.3 L1191.5,339.8 L1192.0,344.7 L1192.1,345.9 L1192.5,349.5 L1193.0,355.2 L1193.5,360.8 L1194.0,364.9 L1194.2,366.1 L1194.5,366.6 L1195.0,367.9 L1195.5,368.8 L1196.0,369.7 L1196.5,370.6 L1197.0,371.5 L1197.5,373.1 L1198.0,372.9 L1198.5,371.5 L1199.0,370.3 L1199.5,370.6 L1200.0,371.4 L1200.5,374.5 L1201.0,375.9 L1201.5,376.6 L1202.0,376.6 L1202.5,376.7 L1203.0,376.4 L1203.5,374.8 L1204.0,374.5 L1204.5,373.3 L1205.0,373.5 L1205.5,372.6 L1206.0,372.6 L1206.5,370.7 L1207.0,370.0 L1207.5,370.3 L1208.0,372.3 L1208.5,373.0 L1209.0,375.0 L1209.5,374.7 L1210.0,373.0 L1210.5,370.6 L1211.0,369.1 L1211.5,368.0 L1212.0,366.9 L1212.5,368.2 L1213.0,370.1 L1213.5,370.8 L1214.0,372.3 L1214.5,372.2 L1215.0,371.8 L1215.5,370.2 L1216.0,368.3 L1216.5,367.0 L1217.0,366.6 L1217.5,367.7 L1218.0,369.4 L1218.5,371.4 L1219.0,371.4 L1219.5,370.8 L1220.0,370.0 L1220.5,368.2 L1221.0,366.2 L1221.5,366.0 L1222.0,367.5 L1222.5,369.1 L1223.0,370.2 L1223.5,371.4 L1224.0,371.0 L1224.5,370.6 L1225.0,368.5 L1225.5,368.2 L1226.0,367.2 L1226.5,366.0 L1227.0,366.6 L1227.5,366.7 L1228.0,366.6 L1228.5,369.2 L1229.0,369.1 L1229.5,369.6 L1230.0,369.1 L1230.5,367.7 L1231.0,365.6 L1231.5,364.2 L1232.0,365.2 L1232.5,366.3 L1233.0,368.5 L1233.5,370.2 L1234.0,368.6 L1234.5,365.4 L1235.0,363.4 L1235.5,360.7 L1236.0,360.3 L1236.5,361.2 L1237.0,362.8 L1237.5,365.4 L1238.0,367.9 L1238.5,368.8 L1239.0,367.0 L1239.5,366.2 L1240.0,362.7 L1240.5,360.5 L1241.0,360.1 L1241.5,360.8 L1242.0,363.3 L1242.5,365.9 L1243.0,367.6 L1243.5,367.8 L1244.0,366.5 L1244.5,364.2 L1245.0,362.8 L1245.5,361.6 L1246.0,362.2 L1246.5,364.3 L1247.0,368.3 L1247.5,371.6 L1248.0,375.2 L1248.5,376.2 L1249.0,376.0 L1249.5,375.5 L1250.0,375.7 L1250.5,375.4 L1251.0,375.3 L1251.5,376.6 L1252.0,376.9 L1252.5,377.1 L1253.0,377.7 L1253.5,377.9 L1254.0,376.3 L1254.5,374.6 L1255.0,373.8 L1255.5,374.1 L1256.0,374.7 L1256.5,374.0 L1257.0,373.4 L1257.5,373.8 L1258.0,371.7 L1258.5,370.8 L1259.0,369.5 L1259.5,370.3 L1260.0,370.5 L1260.5,372.1 L1261.0,373.2 L1261.5,372.6 L1262.0,370.8 L1262.5,369.4 L1263.0,367.0 L1263.5,365.7 L1264.0,366.3 L1264.5,367.1 L1265.0,367.4 L1265.5,366.9 L1266.0,367.6 L1266.5,366.7 L1267.0,365.4 L1267.5,364.1 L1268.0,366.1 L1268.5,367.0 L1269.0,367.9 L1269.5,367.5 L1270.0,367.4 L1270.5,367.7 L1271.0,367.0 L1271.5,367.0 L1272.0,367.6 L1272.5,369.2 L1273.0,369.5 L1273.5,368.9 L1274.0,366.8 L1274.5,365.2 L1275.0,363.8 L1275.5,364.9 L1276.0,366.6 L1276.5,368.3 L1277.0,371.1 L1277.5,369.9 L1278.0,369.1 L1278.5,366.9 L1279.0,364.5 L1279.5,361.4 L1280.0,362.9 L1280.5,364.2 L1281.0,366.0 L1281.5,365.6 L1282.0,366.9 L1282.5,367.0 L1283.0,366.5 L1283.5,366.9 L1284.0,366.1 L1284.5,367.6 L1285.0,368.1 L1285.5,367.5 L1286.0,367.2 L1286.5,366.0 L1287.0,364.8 L1287.5,364.4 L1288.0,364.3 L1288.5,366.0 L1289.0,366.3 L1289.5,366.2 L1290.0,366.7 L1290.5,365.6 L1291.0,363.7 L1291.5,361.9 L1292.0,361.2 L1292.5,360.8 L1293.0,359.2 L1293.5,358.1 L1294.0,356.9 L1294.5,356.6 L1295.0,355.0 L1295.5,355.0 L1296.0,355.7 L1296.5,356.4 L1297.0,356.2 L1297.5,356.9 L1298.0,356.3 L1298.5,355.7 L1299.0,355.6 L1299.5,355.2 L1300.0,355.7 L1300.5,355.7 L1301.0,356.0 L1301.5,355.1 L1302.0,355.0 L1302.5,354.4 L1303.0,355.8 L1303.5,357.7 L1304.0,360.3 L1304.5,362.8 L1305.0,364.6 L1305.5,365.6 L1306.0,365.2 L1306.5,365.7 L1307.0,364.1 L1307.5,363.3 L1308.0,362.8 L1308.5,364.3 L1309.0,365.4 L1309.5,368.5 L1310.0,371.2 L1310.5,373.0 L1311.0,373.2 L1311.5,372.0 L1312.0,369.3 L1312.5,367.9 L1313.0,365.7 L1313.5,364.4 L1314.0,364.7 L1314.5,366.1 L1315.0,368.6 L1315.5,372.4 L1316.0,374.9 L1316.5,374.9 L1317.0,375.2 L1317.5,373.3 L1318.0,371.6 L1318.5,369.6 L1319.0,369.1 L1319.5,369.0 L1320.0,369.5 L1320.5,369.3 L1321.0,370.9 L1321.5,371.2 L1322.0,371.0 L1322.5,371.6 L1323.0,369.8 L1323.5,369.2 L1324.0,367.8 L1324.5,365.6 L1325.0,365.9 L1325.5,366.6 L1326.0,368.5 L1326.5,369.7 L1327.0,371.6 L1327.5,370.8 L1328.0,368.8 L1328.5,365.7 L1329.0,364.0 L1329.5,362.8 L1330.0,363.5 L1330.5,365.2 L1331.0,366.4 L1331.5,368.1 L1332.0,368.3 L1332.5,368.2 L1333.0,367.0 L1333.5,366.5 L1334.0,365.4 L1334.5,363.5 L1335.0,362.5 L1335.5,361.2 L1336.0,359.7 L1336.5,359.9 L1337.0,360.6 L1337.5,360.6 L1338.0,361.0 L1338.5,362.8 L1339.0,363.2 L1339.5,364.4 L1340.0,364.0 L1340.5,364.3 L1341.0,364.4 L1341.5,364.8 L1342.0,364.2 L1342.5,363.3 L1343.0,362.8 L1343.5,362.5 L1344.0,364.1 L1344.5,365.2 L1345.0,368.0 L1345.5,370.3 L1346.0,371.9 L1346.5,373.9 L1347.0,373.1 L1347.5,374.1 L1348.0,373.0 L1348.5,373.4 L1349.0,374.6 L1349.5,374.1 L1350.0,375.6 L1350.5,377.5 L1351.0,377.6 L1351.5,377.2 L1352.0,376.8 L1352.5,375.7 L1353.0,375.6 L1353.5,376.2 L1354.0,375.9 L1354.5,376.8 L1355.0,377.8 L1355.5,378.7 L1356.0,378.2 L1356.5,379.1 L1357.0,379.0 L1357.5,378.8 L1358.0,378.2 L1358.5,376.9 L1359.0,375.3 L1359.5,374.3 L1360.0,374.6 L1360.5,375.3 L1361.0,376.5 L1361.5,376.8 L1362.0,377.2 L1362.5,376.9 L1363.0,376.0 L1363.5,374.6 L1364.0,373.4 L1364.4,372.9 L1364.5,372.6 L1365.0,371.4 L1365.5,370.0 L1366.0,368.3 L1366.5,366.1 L1367.0,363.6 L1367.5,360.7 L1367.6,360.0 L1368.0,357.3 L1368.5,353.0 L1369.0,347.9 L1369.5,342.2 L1370.0,336.0 L1370.5,329.8 L1370.8,325.7 L1371.0,323.2 L1371.5,314.5 L1372.0,304.3 L1372.5,294.3 L1373.0,285.9 L1373.5,280.6 L1373.8,279.7 L1374.0,280.0 L1374.5,284.1 L1375.0,291.6 L1375.5,301.1 L1376.0,311.3 L1376.5,320.7 L1376.8,325.7 L1377.0,328.3 L1377.5,335.8 L1378.0,343.3 L1378.5,350.3 L1379.0,356.3 L1379.4,360.0 L1379.5,360.7 L1380.0,364.5 L1380.5,367.9 L1381.0,370.9 L1381.5,373.2 L1382.0,374.6 L1382.5,374.9 L1382.6,376.1 L1383.0,374.6 L1383.5,374.4 L1384.0,374.3 L1384.5,374.5 L1385.0,375.2 L1385.5,376.2 L1386.0,374.6 L1386.5,372.0 L1387.0,369.6 L1387.5,367.9 L1388.0,367.7 L1388.5,368.6 L1389.0,369.7 L1389.5,370.8 L1390.0,372.5 L1390.5,371.9 L1391.0,370.1 L1391.5,369.0 L1392.0,368.4 L1392.5,369.5 L1393.0,372.3 L1393.5,376.2 L1394.0,377.6 L1394.5,378.3 L1395.0,377.1 L1395.5,376.3 L1396.0,375.7 L1396.5,374.0 L1397.0,373.7 L1397.5,373.6 L1398.0,373.7 L1398.5,374.8 L1399.0,375.2 L1399.5,376.3 L1400.0,376.9 L1400.5,379.5 L1401.0,379.8 L1401.5,380.7 L1402.0,381.9 L1402.5,381.4 L1403.0,381.5 L1403.5,380.6 L1404.0,379.8 L1404.5,378.0 L1405.0,376.8 L1405.5,375.4 L1406.0,375.1 L1406.5,376.1 L1407.0,377.9 L1407.5,379.7 L1408.0,381.6 L1408.5,381.3 L1409.0,379.7 L1409.5,377.2 L1410.0,376.3 L1410.5,374.9 L1411.0,376.0 L1411.5,377.0 L1412.0,377.5 L1412.5,377.5 L1413.0,377.0 L1413.5,377.6 L1414.0,376.6 L1414.5,376.9 L1415.0,377.5 L1415.5,377.4 L1416.0,377.3 L1416.5,376.4 L1417.0,376.7 L1417.5,378.7 L1418.0,379.0 L1418.5,380.5 L1419.0,382.4 L1419.5,384.2 L1420.0,384.6 L1420.5,385.5 L1421.0,386.2 L1421.5,386.9 L1422.0,387.1 L1422.2,386.8 L1422.5,386.7 L1423.0,385.0 L1423.5,382.3 L1424.0,379.8 L1424.5,376.7 L1425.0,374.4 L1425.5,372.7 L1426.0,371.2 L1426.5,370.0 L1427.0,368.9 L1427.5,368.2 L1428.0,367.8 L1428.5,367.8 L1429.0,367.9 L1429.5,366.2 L1430.0,364.4 L1430.5,363.3 L1431.0,363.1 L1431.5,362.9 L1432.0,364.6 L1432.5,365.5 L1433.0,366.5 L1433.5,365.2 L1434.0,365.4 L1434.5,364.0 L1435.0,364.2 L1435.5,364.6 L1436.0,365.6 L1436.5,367.0 L1437.0,368.7 L1437.5,369.8 L1438.0,370.4 L1438.5,370.0 L1439.0,368.3 L1439.5,366.4 L1440.0,365.1 L1440.5,364.7 L1441.0,363.9 L1441.5,365.0 L1442.0,365.7 L1442.5,365.9 L1443.0,367.3 L1443.5,368.6 L1444.0,370.6 L1444.5,373.2 L1445.0,375.3 L1445.5,374.9 L1446.0,373.7 L1446.5,372.7 L1447.0,371.6 L1447.5,371.9 L1448.0,371.9 L1448.5,372.1 L1449.0,371.1 L1449.5,370.7 L1450.0,371.6 L1450.5,372.3 L1451.0,376.1 L1451.5,378.8 L1452.0,379.5 L1452.5,378.4 L1453.0,376.1 L1453.5,372.1 L1454.0,370.1 L1454.5,370.7 L1455.0,372.7 L1455.5,376.5 L1456.0,379.6 L1456.5,380.9 L1457.0,380.0 L1457.5,377.4 L1458.0,375.1 L1458.5,372.4 L1459.0,373.1 L1459.5,374.7 L1460.0,375.4 L1460.5,376.8 L1461.0,377.6 L1461.5,379.5 L1462.0,381.1 L1462.5,382.0 L1463.0,381.2 L1463.5,379.3 L1464.0,378.0 L1464.5,376.5 L1465.0,376.0 L1465.5,374.8 L1466.0,377.3 L1466.5,378.1 L1467.0,380.2 L1467.5,379.6 L1468.0,378.2 L1468.5,376.9 L1469.0,376.2 L1469.5,376.5 L1470.0,378.9 L1470.5,381.5 L1471.0,382.1 L1471.5,381.3 L1472.0,378.0 L1472.5,375.3 L1473.0,371.5 L1473.5,369.8 L1474.0,370.2 L1474.5,371.8 L1475.0,374.2 L1475.5,376.3 L1476.0,376.5 L1476.5,376.2 L1477.0,375.1 L1477.5,373.0 L1478.0,373.1 L1478.5,374.1 L1479.0,376.0 L1479.5,376.4 L1480.0,377.7 L1480.5,378.5 L1481.0,376.5 L1481.5,373.5 L1482.0,371.3 L1482.5,369.1 L1483.0,368.5 L1483.5,371.0 L1484.0,372.9 L1484.5,374.1 L1485.0,373.5 L1485.5,371.1 L1486.0,368.9 L1486.5,367.9 L1487.0,368.5 L1487.5,371.2 L1488.0,374.1 L1488.5,375.3 L1489.0,375.4 L1489.5,372.5 L1490.0,369.2 L1490.5,368.3 L1491.0,367.4 L1491.5,366.3 L1492.0,366.4 L1492.5,367.4 L1493.0,367.9 L1493.5,367.1 L1494.0,367.3 L1494.5,367.3 L1495.0,367.7 L1495.5,368.2 L1496.0,369.1 L1496.5,368.4 L1497.0,367.2 L1497.5,365.3 L1498.0,366.8 L1498.5,366.2 L1499.0,367.7 L1499.5,368.5 L1500.0,369.9 L1500.5,369.3 L1501.0,369.7" fill="none" stroke="#000" stroke-width="2.6" stroke-linejoin="round" stroke-linecap="butt"/>
<path clip-path="url(#c2)" d="M137.0,768.7 L137.5,769.3 L138.0,768.9 L138.5,768.0 L139.0,766.0 L139.5,765.1 L140.0,765.6 L140.5,764.8 L141.0,766.0 L141.5,766.0 L142.0,766.7 L142.5,767.1 L143.0,767.9 L143.5,767.9 L144.0,767.9 L144.5,767.7 L145.0,766.8 L145.5,766.4 L146.0,765.8 L146.5,765.5 L147.0,765.7 L147.5,765.8 L148.0,766.7 L148.5,765.8 L149.0,765.3 L149.5,765.0 L150.0,765.0 L150.5,764.7 L151.0,765.2 L151.5,765.9 L152.0,767.0 L152.5,767.8 L153.0,768.5 L153.5,768.4 L154.0,769.6 L154.5,770.0 L155.0,772.2 L155.5,772.9 L156.0,773.0 L156.5,772.3 L157.0,772.2 L157.5,771.5 L158.0,771.5 L158.5,771.2 L159.0,772.1 L159.5,773.0 L160.0,774.6 L160.5,776.2 L161.0,776.7 L161.5,778.3 L162.0,778.9 L162.5,778.4 L163.0,777.1 L163.5,776.5 L164.0,775.5 L164.5,775.8 L165.0,776.2 L165.5,776.8 L166.0,777.5 L166.5,778.5 L167.0,778.5 L167.5,779.7 L168.0,778.6 L168.5,778.9 L169.0,778.4 L169.5,777.3 L170.0,776.6 L170.5,777.7 L171.0,777.4 L171.5,778.5 L172.0,779.1 L172.5,779.1 L173.0,779.3 L173.5,779.7 L174.0,779.2 L174.5,778.4 L175.0,778.6 L175.5,778.5 L176.0,778.3 L176.5,778.5 L177.0,778.7 L177.5,779.1 L178.0,779.0 L178.5,779.1 L179.0,780.5 L179.5,780.0 L180.0,780.6 L180.5,779.5 L181.0,779.4 L181.5,777.9 L182.0,779.1 L182.5,777.7 L183.0,779.2 L183.5,782.1 L184.0,784.2 L184.5,783.9 L185.0,784.9 L185.5,784.0 L186.0,781.0 L186.5,779.7 L187.0,777.6 L187.5,776.5 L188.0,776.9 L188.5,777.6 L189.0,778.5 L189.5,781.5 L190.0,781.4 L190.5,781.8 L191.0,782.4 L191.5,781.2 L192.0,780.7 L192.5,779.2 L193.0,779.5 L193.5,780.2 L194.0,781.7 L194.5,783.1 L195.0,784.3 L195.5,785.3 L196.0,783.2 L196.5,781.5 L197.0,779.9 L197.5,779.5 L198.0,779.7 L198.5,781.1 L199.0,781.6 L199.5,783.2 L200.0,783.0 L200.5,781.8 L201.0,780.4 L201.5,778.4 L202.0,779.2 L202.5,779.6 L203.0,779.7 L203.5,780.8 L204.0,781.9 L204.5,781.3 L205.0,781.9 L205.5,781.6 L206.0,781.5 L206.5,781.9 L207.0,782.9 L207.5,784.4 L208.0,784.5 L208.5,783.8 L209.0,784.5 L209.5,784.0 L210.0,783.8 L210.5,784.4 L211.0,783.8 L211.5,783.4 L212.0,784.3 L212.5,782.4 L213.0,782.9 L213.5,781.5 L214.0,782.0 L214.5,782.2 L215.0,783.0 L215.5,783.3 L216.0,785.3 L216.5,785.9 L217.0,785.6 L217.5,785.8 L218.0,785.9 L218.5,784.5 L219.0,784.0 L219.5,782.6 L220.0,782.6 L220.5,782.5 L221.0,783.7 L221.5,784.0 L222.0,785.1 L222.5,786.5 L223.0,785.7 L223.5,786.1 L224.0,784.6 L224.5,783.7 L225.0,783.7 L225.5,782.9 L226.0,783.1 L226.5,782.1 L227.0,783.3 L227.5,783.5 L228.0,784.0 L228.5,783.3 L229.0,783.8 L229.5,782.3 L230.0,780.8 L230.5,780.3 L231.0,780.5 L231.5,781.6 L232.0,781.4 L232.5,781.2 L233.0,780.7 L233.5,779.3 L234.0,777.9 L234.5,777.1 L235.0,776.5 L235.5,776.3 L236.0,775.2 L236.5,775.0 L237.0,774.2 L237.5,774.1 L238.0,774.2 L238.5,774.3 L239.0,774.8 L239.5,775.8 L240.0,776.0 L240.5,776.8 L241.0,778.7 L241.5,779.9 L242.0,780.0 L242.5,780.3 L243.0,779.7 L243.5,779.9 L244.0,780.5 L244.5,780.9 L245.0,781.1 L245.5,781.3 L246.0,780.9 L246.5,781.9 L247.0,782.2 L247.5,782.7 L248.0,783.5 L248.5,783.0 L249.0,783.1 L249.5,781.6 L250.0,781.7 L250.5,780.9 L251.0,781.1 L251.5,781.7 L252.0,783.3 L252.5,785.4 L253.0,785.6 L253.5,786.2 L254.0,785.7 L254.5,783.9 L255.0,783.2 L255.5,784.1 L256.0,784.6 L256.5,785.4 L257.0,785.6 L257.5,784.5 L258.0,784.1 L258.5,783.6 L259.0,782.6 L259.5,782.8 L260.0,783.0 L260.5,784.2 L261.0,784.5 L261.5,782.3 L262.0,782.4 L262.5,782.2 L263.0,781.9 L263.5,782.7 L264.0,783.0 L264.5,783.2 L265.0,783.2 L265.5,782.5 L266.0,781.3 L266.5,781.1 L267.0,780.9 L267.5,781.0 L268.0,783.1 L268.5,783.9 L269.0,783.8 L269.5,785.0 L270.0,783.9 L270.5,782.7 L271.0,782.1 L271.5,779.5 L272.0,779.1 L272.5,779.4 L273.0,779.7 L273.5,780.0 L274.0,779.5 L274.5,778.8 L275.0,777.7 L275.5,776.5 L276.0,775.0 L276.1,774.7 L276.5,771.8 L277.0,764.1 L277.5,753.1 L278.0,739.6 L278.5,720.6 L279.0,692.0 L279.5,652.8 L279.6,643.7 L280.0,584.7 L280.2,547.8 L280.5,483.0 L280.8,420.0 L281.0,390.0 M287.4,390.0 L287.6,420.0 L287.9,466.2 L288.4,537.2 L288.5,547.8 L288.9,583.5 L289.4,619.2 L289.8,643.7 L289.9,649.9 L290.4,679.1 L290.9,704.8 L291.4,723.6 L291.9,737.8 L292.4,750.0 L292.9,759.8 L293.4,766.7 L293.6,768.4 L293.9,770.7 L294.4,774.0 L294.9,776.8 L295.4,778.9 L295.9,780.1 L296.2,780.5 L296.4,780.7 L296.9,781.1 L297.4,781.4 L297.9,781.8 L298.4,781.4 L298.9,780.5 L299.4,780.4 L299.9,780.5 L300.4,781.5 L300.9,782.1 L301.4,783.2 L301.9,783.1 L302.4,781.9 L302.9,782.6 L303.4,782.8 L303.9,783.3 L304.4,782.9 L304.9,783.2 L305.4,784.3 L305.9,783.4 L306.4,783.0 L306.9,782.1 L307.4,781.2 L307.9,780.0 L308.4,778.9 L308.9,779.6 L309.4,778.8 L309.9,778.6 L310.4,779.4 L310.9,778.2 L311.4,776.6 L311.9,776.4 L312.4,776.7 L312.9,777.0 L313.4,777.0 L313.9,778.3 L314.4,777.8 L314.9,776.5 L315.4,775.1 L315.9,774.4 L316.4,774.1 L316.9,773.3 L317.4,773.8 L317.9,773.8 L318.4,774.4 L318.9,774.0 L319.4,773.0 L319.9,773.1 L320.4,774.3 L320.9,773.3 L321.5,773.8 L322.0,772.9 L322.5,772.8 L323.0,771.0 L323.5,770.0 L324.0,769.6 L324.5,770.6 L325.0,771.9 L325.5,772.4 L326.0,771.7 L326.5,772.5 L327.0,771.4 L327.5,770.8 L328.0,770.9 L328.5,770.2 L329.0,769.4 L329.5,768.1 L330.0,767.0 L330.5,765.6 L331.0,764.3 L331.5,764.3 L332.0,763.3 L332.5,763.1 L333.0,762.2 L333.5,761.4 L334.0,760.4 L334.5,759.8 L335.0,758.3 L335.5,757.1 L336.0,756.7 L336.5,754.8 L337.0,754.5 L337.5,753.6 L338.0,752.5 L338.5,752.6 L339.0,752.5 L339.5,752.5 L340.0,752.4 L340.5,752.4 L341.0,751.0 L341.5,749.9 L342.0,748.9 L342.5,747.7 L343.0,746.8 L343.5,745.3 L344.0,743.7 L344.5,742.8 L345.0,741.4 L345.5,739.5 L346.0,738.1 L346.5,736.4 L347.0,734.3 L347.5,732.6 L348.0,730.6 L348.5,728.8 L348.9,726.8 L349.0,726.7 L349.5,724.4 L350.0,722.0 L350.5,719.8 L351.0,717.3 L351.5,714.8 L352.0,712.2 L352.5,709.2 L353.0,706.1 L353.5,702.7 L353.7,701.2 L354.0,699.0 L354.5,694.7 L355.0,689.9 L355.5,684.7 L356.0,679.0 L356.5,672.9 L357.0,666.5 L357.5,659.7 L358.0,652.0 L358.5,643.2 L359.0,633.7 L359.5,623.8 L360.0,613.6 L360.1,611.8 L360.5,603.1 L361.0,591.5 L361.5,579.9 L362.0,569.2 L362.3,563.8 L362.5,560.0 L363.0,550.6 L363.5,541.4 L364.0,533.6 L364.5,528.5 L364.9,527.1 L365.0,527.3 L365.5,531.1 L366.0,538.8 L366.5,547.8 L367.0,556.2 L367.1,557.4 L367.5,563.5 L368.0,571.2 L368.5,578.8 L369.0,585.6 L369.5,591.1 L369.7,592.6 L370.0,594.9 L370.5,598.3 L371.0,601.1 L371.5,603.7 L372.0,606.0 L372.5,608.1 L373.0,610.0 L373.5,611.8 L374.0,613.3 L374.5,614.8 L375.0,616.0 L375.5,617.5 L376.0,619.0 L376.5,620.9 L376.7,621.3 L377.0,623.1 L377.5,625.9 L378.0,629.3 L378.5,633.1 L379.0,637.2 L379.5,641.6 L380.0,646.1 L380.5,650.5 L380.9,653.3 L381.0,654.5 L381.5,658.2 L382.0,662.1 L382.5,665.8 L383.0,669.5 L383.5,673.1 L384.0,676.5 L384.5,680.2 L385.0,683.8 L385.5,687.4 L385.7,688.5 L386.0,691.0 L386.5,694.9 L387.0,698.7 L387.5,702.5 L388.0,706.4 L388.6,710.2 L389.1,714.0 L389.6,717.7 L390.1,721.2 L390.6,724.6 L391.1,727.5 L391.6,730.3 L392.1,732.7 L392.6,735.1 L393.1,737.3 L393.6,739.3 L394.1,741.4 L394.6,742.9 L395.1,745.0 L395.6,746.6 L396.1,748.6 L396.6,750.3 L397.1,751.6 L397.6,752.8 L398.1,753.7 L398.6,755.3 L399.1,756.5 L399.6,758.4 L400.1,759.8 L400.6,762.2 L401.1,763.1 L401.6,764.8 L402.1,765.5 L402.6,766.9 L403.1,768.2 L403.6,769.9 L404.1,771.3 L404.6,772.9 L405.1,773.7 L405.6,774.1 L406.1,774.6 L406.6,773.9 L407.1,774.7 L407.6,775.0 L408.1,775.8 L408.6,778.0 L409.1,779.5 L409.6,781.6 L410.1,782.2 L410.6,783.0 L411.1,783.3 L411.6,783.0 L412.1,783.4 L412.6,782.8 L413.1,782.9 L413.6,782.1 L414.1,780.7 L414.6,778.9 L415.1,777.5 L415.6,776.3 L416.0,775.4 L416.1,775.9 L416.6,777.2 L417.1,779.8 L417.6,783.1 L418.1,785.9 L418.6,787.6 L419.1,787.9 L419.6,788.4 L420.1,788.9 L420.6,789.2 L421.1,789.6 L421.6,790.2 L422.1,790.7 L422.6,791.1 L423.1,791.7 L423.6,791.1 L424.1,790.2 L424.6,790.1 L425.1,789.8 L425.6,788.7 L426.1,788.3 L426.6,787.8 L427.1,787.6 L427.6,787.0 L428.1,786.3 L428.6,785.2 L429.1,784.3 L429.6,782.9 L430.1,782.0 L430.4,781.1 L430.6,780.5 L431.1,778.9 L431.6,777.1 L432.1,774.9 L432.6,772.8 L433.1,770.4 L433.6,767.8 L434.1,765.0 L434.6,762.0 L435.1,759.1 L435.6,755.8 L436.1,752.9 L436.6,750.1 L436.8,749.2 L437.1,747.4 L437.6,744.7 L438.1,741.6 L438.6,738.7 L439.1,735.7 L439.6,732.6 L440.1,729.5 L440.6,726.2 L441.1,722.9 L441.6,719.4 L442.1,715.7 L442.6,712.0 L443.1,708.0 L443.2,707.6 L443.6,704.1 L444.1,700.0 L444.6,695.9 L445.1,691.5 L445.6,686.8 L446.1,681.8 L446.6,676.4 L447.1,670.6 L447.6,664.4 L448.0,659.7 L448.1,657.7 L448.6,650.0 L449.1,641.2 L449.6,631.4 L450.1,620.7 L450.6,609.3 L451.1,597.2 L451.2,595.8 L451.6,583.3 L452.1,566.8 L452.6,549.2 L453.1,532.2 L453.6,517.3 L453.7,515.9 L454.1,506.4 L454.4,500.0 L454.6,490.8 L455.1,463.5 L455.2,460.0 L455.6,420.0 M461.6,390.0 L461.6,835.0 M465.4,390.0 L465.4,835.0 M469.2,390.0 L469.3,420.0 L469.7,499.9 L470.2,551.4 L470.3,560.0 L470.7,592.4 L471.0,612.0 L471.2,622.4 L471.7,646.1 L472.2,665.0 L472.6,675.7 L472.7,677.7 L473.2,687.0 L473.7,694.8 L474.2,701.3 L474.7,706.5 L475.2,710.7 L475.7,714.4 L476.2,717.9 L476.7,721.0 L477.2,723.8 L477.7,726.3 L478.2,728.2 L478.7,729.5 L479.0,730.0 L479.2,730.2 L479.7,730.9 L480.2,731.1 L480.7,731.3 L481.2,731.1 L481.7,732.1 L482.2,732.7 L482.7,733.3 L483.2,733.7 L483.7,733.9 L484.1,734.8 L484.2,734.6 L484.7,736.1 L485.2,738.1 L485.7,740.5 L486.2,743.0 L486.7,745.3 L487.2,747.0 L487.7,748.6 L487.9,749.2 L488.2,749.4 L488.7,750.3 L489.2,751.9 L489.7,753.2 L490.2,754.3 L490.7,756.7 L491.2,758.0 L491.7,758.0 L492.2,758.9 L492.7,760.0 L493.2,761.0 L493.7,762.1 L494.2,763.2 L494.7,764.0 L495.2,764.3 L495.7,764.8 L496.2,765.2 L496.7,765.5 L497.2,766.1 L497.7,765.3 L498.2,766.1 L498.7,764.0 L499.2,764.0 L499.7,763.7 L500.2,763.8 L500.7,764.1 L501.2,764.7 L501.7,764.1 L502.2,764.0 L502.7,763.3 L503.2,761.9 L503.7,760.5 L504.2,760.0 L504.7,758.6 L505.2,757.8 L505.7,757.3 L506.2,757.3 L506.7,758.1 L507.2,759.4 L507.7,760.8 L508.2,762.0 L508.7,762.9 L509.2,764.0 L509.7,765.1 L510.2,767.6 L510.7,769.3 L511.2,771.3 L511.7,772.4 L512.2,772.6 L512.7,772.1 L513.2,773.0 L513.6,772.7 L514.1,773.4 L514.6,775.0 L515.1,776.1 L515.6,778.4 L516.1,779.9 L516.6,780.4 L517.1,780.2 L517.6,779.7 L518.1,777.7 L518.6,777.3 L519.1,776.6 L519.6,776.2 L520.1,777.0 L520.6,777.3 L521.1,779.9 L521.6,781.6 L522.1,781.5 L522.6,782.6 L523.1,782.9 L523.6,781.4 L524.1,779.6 L524.6,778.7 L525.1,779.3 L525.6,779.9 L526.1,779.0 L526.6,779.9 L527.1,780.0 L527.6,780.6 L528.1,781.0 L528.6,780.7 L529.1,780.1 L529.6,781.2 L530.1,780.5 L530.6,781.2 L531.1,782.8 L531.6,783.2 L532.1,783.5 L532.6,783.8 L533.1,782.2 L533.6,782.2 L534.1,781.6 L534.6,780.9 L535.1,780.2 L535.6,780.2 L536.1,779.7 L536.6,781.0 L537.1,781.8 L537.6,782.6 L538.1,782.3 L538.6,781.9 L539.1,781.6 L539.6,782.2 L540.1,782.6 L540.6,783.2 L541.1,782.3 L541.6,781.2 L542.1,780.6 L542.6,780.3 L543.1,781.2 L543.6,781.9 L544.1,784.0 L544.6,785.7 L545.1,786.9 L545.6,786.1 L546.1,784.6 L546.6,783.4 L547.1,782.0 L547.6,782.3 L548.1,782.2 L548.6,782.2 L549.1,783.2 L549.6,783.7 L550.1,785.2 L550.6,786.9 L551.1,788.6 L551.6,790.0 L551.9,790.7 L552.1,791.1 L552.6,792.5 L553.1,793.7 L553.6,795.1 L554.1,796.6 L554.6,798.5 L555.0,800.3 L555.1,800.9 L555.6,805.0 L556.1,810.8 L556.6,817.9 L557.1,826.1 L557.6,834.9 M561.0,835.0 L561.5,809.8 L561.8,800.0 L562.0,795.7 L562.5,786.4 L563.0,779.0 L563.5,774.2 L564.0,772.5 L564.5,772.7 L565.0,773.1 L565.5,773.7 L566.0,774.4 L566.2,774.7 L566.5,775.3 L567.0,777.0 L567.5,779.5 L568.0,782.1 L568.5,784.2 L569.0,786.2 L569.4,785.9 L569.5,786.3 L570.0,786.3 L570.5,785.8 L571.1,785.4 L571.6,784.7 L572.1,783.4 L572.6,782.3 L573.1,782.5 L573.6,782.4 L574.1,782.1 L574.2,782.7 L574.6,782.7 L575.1,783.2 L575.6,783.7 L576.1,784.5 L576.6,785.4 L577.1,786.6 L577.4,787.5 L577.6,788.1 L578.1,791.7 L578.6,797.6 L579.1,805.2 L579.6,814.3 L580.1,824.4 L580.6,835.0 M591.2,835.0 L591.7,816.8 L592.2,799.9 L592.7,786.5 L593.2,778.9 L593.4,777.9 L593.7,777.5 L594.2,776.9 L594.7,776.4 L595.2,776.1 L595.7,775.8 L596.2,775.8 L596.7,777.2 L597.2,777.7 L597.7,778.0 L598.2,778.5 L598.7,778.8 L599.2,780.3 L599.7,781.2 L600.2,782.3 L600.7,783.4 L601.2,784.7 L601.7,785.1 L602.2,785.3 L602.7,784.9 L603.2,784.5 L603.7,785.3 L604.2,784.5 L604.7,785.4 L605.2,786.6 L605.7,785.9 L606.2,787.4 L606.7,787.3 L607.2,786.9 L607.7,786.6 L608.2,785.7 L608.7,785.2 L609.2,787.1 L609.7,786.3 L610.2,787.0 L610.7,787.3 L611.2,787.1 L611.7,787.5 L612.2,788.1 L612.7,788.8 L613.2,788.2 L613.7,787.8 L614.2,786.1 L614.7,785.0 L615.2,784.5 L615.7,784.7 L616.2,785.4 L616.7,787.0 L617.2,787.4 L617.7,787.5 L618.2,788.0 L618.7,786.3 L619.2,785.3 L619.7,784.6 L620.2,784.1 L620.7,784.3 L621.2,785.7 L621.7,786.1 L622.2,785.9 L622.7,785.8 L623.2,785.0 L623.7,784.5 L624.2,784.0 L624.7,785.0 L625.2,785.9 L625.7,785.0 L626.2,784.1 L626.7,782.4 L627.2,782.0 L627.7,781.1 L628.2,782.0 L628.7,783.7 L629.2,784.1 L629.7,785.4 L630.2,785.0 L630.7,784.5 L631.2,782.1 L631.7,781.6 L632.2,780.6 L632.7,780.5 L633.2,779.6 L633.7,780.5 L634.2,781.6 L634.7,781.5 L635.2,781.4 L635.7,782.4 L636.2,781.3 L636.7,780.2 L637.2,780.3 L637.7,780.5 L638.2,781.6 L638.7,781.0 L639.2,781.6 L639.7,781.1 L640.2,779.3 L640.7,778.7 L641.2,777.4 L641.7,778.6 L642.2,778.1 L642.7,779.3 L643.2,780.5 L643.7,780.1 L644.2,780.4 L644.7,781.0 L645.2,782.2 L645.7,781.5 L646.2,781.1 L646.7,779.3 L647.2,778.0 L647.7,777.1 L648.2,777.8 L648.7,779.0 L649.2,781.5 L649.7,782.9 L650.2,783.3 L650.7,783.0 L651.2,781.8 L651.7,782.8 L652.2,783.9 L652.7,785.0 L653.2,784.4 L653.7,785.0 L654.2,785.6 L654.7,784.2 L655.2,783.4 L655.7,782.7 L656.2,783.5 L656.7,783.9 L657.2,786.5 L657.7,789.1 L658.2,790.2 L658.7,790.2 L659.2,790.2 L659.7,789.0 L660.2,787.1 L660.7,786.4 L661.2,785.4 L661.7,784.7 L662.2,785.3 L662.7,784.9 L663.2,785.8 L663.7,785.1 L664.2,784.1 L664.7,783.4 L665.2,783.3 L665.7,781.9 L666.2,781.4 L666.7,781.0 L667.2,781.2 L667.7,782.3 L668.2,783.2 L668.7,782.8 L669.2,782.0 L669.7,781.4 L670.2,780.1 L670.7,779.4 L671.2,778.6 L671.7,779.7 L672.2,779.3 L672.7,779.9 L673.2,780.5 L673.7,781.0 L674.2,780.1 L674.7,779.4 L675.2,778.5 L675.7,778.5 L676.2,777.4 L676.7,778.4 L677.2,778.4 L677.7,778.8 L678.2,779.6 L678.7,778.6 L679.2,777.3 L679.7,776.9 L680.2,776.2 L680.7,776.8 L681.2,776.8 L681.7,778.4 L682.2,779.4 L682.7,780.4 L683.2,780.5 L683.7,779.4 L684.2,778.2 L684.7,777.4 L685.2,776.3 L685.7,776.9 L686.2,778.0 L686.7,778.3 L687.2,779.5 L687.7,779.5 L688.2,778.2 L688.7,778.9 L689.2,779.0 L689.7,780.1 L690.2,780.5 L690.7,779.9 L691.2,780.4 L691.7,780.8 L692.2,780.7 L692.7,780.8 L693.2,780.4 L693.7,779.9 L694.2,780.1 L694.7,780.3 L695.2,780.1 L695.7,780.0 L696.2,779.8 L696.7,780.5 L697.2,780.5 L697.7,780.5 L698.2,779.9 L698.7,779.8 L699.2,779.9 L699.7,780.2 L700.2,780.0 L700.7,780.5 L701.2,780.8 L701.7,780.6 L702.2,780.5 L702.7,780.4 L703.2,780.2 L703.7,780.1 L704.2,779.8 L704.4,779.7 L704.7,777.4 L705.2,764.8 L705.7,747.3 L706.2,723.6 L706.7,692.3 L707.1,666.5 L707.2,662.3 L707.7,632.5 L708.1,613.3 L708.2,611.1 L708.7,597.3 L709.2,590.6 L709.7,597.6 L710.2,614.6 L710.5,626.6 L710.7,633.4 L711.2,658.5 L711.7,684.1 L711.9,693.2 L712.2,702.5 L712.7,718.1 L713.2,731.2 L713.7,740.7 L714.2,747.5 L714.7,753.2 L715.2,757.7 L715.7,760.6 L715.8,761.1 L716.2,762.1 L716.7,763.3 L717.2,764.4 L717.7,765.2 L718.2,765.8 L718.7,766.3 L719.2,766.7 L719.7,767.1 L720.2,768.1 L720.7,768.6 L721.2,769.7 L721.7,769.8 L722.2,770.1 L722.7,770.2 L723.0,770.4 L723.2,770.5 L723.7,771.7 L724.2,773.5 L724.7,775.9 L725.2,778.2 L725.7,780.4 L726.2,782.3 L726.7,783.7 L727.2,784.5 L727.7,785.2 L727.8,785.8 L728.2,785.6 L728.7,785.1 L729.2,785.2 L729.7,785.1 L730.2,785.2 L730.7,784.4 L731.2,782.7 L731.7,780.9 L732.2,779.6 L732.7,779.1 L733.2,778.6 L733.7,778.5 L734.2,778.0 L734.7,778.9 L735.2,778.3 L735.7,779.5 L736.2,780.0 L736.7,780.0 L737.2,780.6 L737.7,780.3 L738.2,779.7 L738.7,779.8 L739.2,779.3 L739.7,780.9 L740.2,780.8 L740.7,780.6 L741.2,780.6 L741.7,783.0 L742.2,783.6 L742.7,784.6 L743.2,785.2 L743.7,785.7 L744.2,785.8 L744.7,787.3 L745.2,786.5 L745.7,785.4 L746.2,786.4 L746.7,785.4 L747.2,787.3 L747.7,788.5 L748.2,789.0 L748.7,790.1 L749.2,790.3 L749.7,790.6 L750.2,790.5 L750.7,789.6 L751.2,788.9 L751.7,789.1 L752.2,788.0 L752.7,790.0 L753.2,789.8 L753.7,790.2 L754.2,791.6 L754.7,792.0 L755.2,792.5 L755.7,792.4 L756.2,790.7 L756.7,791.3 L757.2,790.4 L757.7,788.2 L758.2,788.5 L758.7,788.1 L759.2,788.1 L759.7,788.7 L760.2,787.9 L760.7,788.6 L761.2,787.7 L761.7,788.5 L762.2,787.1 L762.7,786.8 L763.2,787.2 L763.7,786.3 L764.2,785.0 L764.7,783.5 L765.2,782.1 L765.7,781.1 L766.2,779.6 L766.7,779.7 L767.2,780.2 L767.7,780.9 L768.2,781.4 L768.7,781.2 L769.2,781.8 L769.7,780.9 L770.2,781.2 L770.7,781.1 L771.2,781.1 L771.7,781.9 L772.2,782.1 L772.7,782.3 L773.2,782.9 L773.7,782.4 L774.2,783.1 L774.7,782.4 L775.2,782.8 L775.7,783.4 L776.2,783.6 L776.7,785.0 L777.2,786.0 L777.7,786.4 L778.2,785.7 L778.7,784.5 L779.2,783.3 L779.7,782.8 L780.2,781.5 L780.7,781.6 L781.2,783.1 L781.7,785.0 L782.2,786.2 L782.7,786.7 L783.2,787.1 L783.7,785.8 L784.2,783.2 L784.7,781.4 L785.2,779.7 L785.7,781.1 L786.2,780.7 L786.7,782.0 L787.2,781.6 L787.7,781.5 L788.2,781.0 L788.7,779.9 L789.2,781.8 L789.7,779.9 L790.2,780.6 L790.7,780.0 L791.2,780.1 L791.7,780.9 L792.2,779.8 L792.7,781.2 L793.2,782.1 L793.7,782.5 L794.2,782.9 L794.7,782.3 L795.2,781.5 L795.7,780.6 L796.2,779.7 L796.7,779.0 L797.2,778.2 L797.7,779.0 L798.2,778.9 L798.7,779.5 L799.2,779.9 L799.7,779.6 L800.2,780.6 L800.7,779.8 L801.2,779.5 L801.7,779.6 L802.2,777.0 L802.7,775.9 L803.2,774.4 L803.7,773.0 L804.2,772.2 L804.7,772.1 L805.2,773.5 L805.7,773.0 L806.2,774.0 L806.7,775.3 L807.2,774.8 L807.7,772.9 L808.2,772.0 L808.7,771.6 L809.2,771.4 L809.7,771.0 L810.2,770.6 L810.4,770.4 L810.7,769.8 L811.2,767.6 L811.7,764.2 L812.2,760.1 L812.5,757.1 L812.7,755.8 L813.2,749.2 L813.7,741.7 L814.2,735.2 L814.4,733.1 L814.7,731.7 L815.2,729.0 L815.7,727.7 L816.2,728.0 L816.7,729.1 L817.2,730.8 L817.7,732.7 L817.8,733.1 L818.2,735.1 L818.7,738.5 L819.1,741.3 L819.6,742.5 L819.7,742.4 L820.1,741.5 L820.6,739.3 L821.1,736.7 L821.6,733.8 L822.1,731.4 L822.4,730.4 L822.6,729.5 L823.1,727.6 L823.6,725.9 L824.1,724.2 L824.6,722.8 L825.1,721.7 L825.6,721.1 L825.8,721.1 L826.1,721.4 L826.6,724.0 L827.1,727.9 L827.6,732.3 L828.1,736.6 L828.5,738.4 L828.6,739.4 L829.1,741.5 L829.6,743.5 L830.1,744.9 L830.6,746.2 L831.1,747.3 L831.6,747.9 L832.1,748.8 L832.6,750.2 L833.1,752.7 L833.6,754.8 L834.1,757.3 L834.6,759.3 L835.1,760.5 L835.6,761.6 L836.1,762.6 L836.6,762.8 L837.1,764.3 L837.6,764.9 L838.1,766.0 L838.6,767.4 L839.1,768.6 L839.6,768.6 L840.1,769.0 L840.6,769.5 L841.1,769.9 L841.6,771.2 L842.1,772.1 L842.6,773.6 L843.1,774.9 L843.6,775.1 L844.1,775.6 L844.6,774.3 L845.1,773.6 L845.6,774.3 L846.1,774.2 L846.6,774.4 L847.1,775.8 L847.6,776.3 L848.1,776.2 L848.6,776.2 L849.1,775.2 L849.6,774.9 L850.1,773.6 L850.6,775.5 L851.1,776.4 L851.6,777.0 L852.1,777.4 L852.6,777.2 L853.1,776.4 L853.6,776.5 L854.1,777.3 L854.6,777.1 L855.1,778.7 L855.6,779.1 L856.1,780.8 L856.6,781.4 L857.1,780.7 L857.6,779.6 L858.1,778.0 L858.6,778.3 L859.1,777.8 L859.6,779.1 L860.1,779.1 L860.6,778.8 L861.1,779.5 L861.6,778.7 L862.1,779.8 L862.6,780.3 L863.1,781.2 L863.6,782.3 L864.1,782.2 L864.6,781.7 L865.1,781.1 L865.6,781.0 L866.1,780.9 L866.6,781.2 L867.1,781.6 L867.6,781.4 L868.1,782.6 L868.6,782.1 L869.1,782.1 L869.6,781.2 L870.1,781.5 L870.6,782.2 L871.1,782.3 L871.6,782.9 L872.1,784.5 L872.6,784.3 L873.1,784.4 L873.6,784.6 L874.1,783.4 L874.6,783.2 L875.1,782.3 L875.6,783.6 L876.1,785.1 L876.6,784.9 L877.1,786.2 L877.6,786.4 L878.1,784.9 L878.6,785.8 L879.1,783.7 L879.6,782.8 L880.1,782.5 L880.6,780.3 L881.1,781.1 L881.6,781.1 L882.1,782.0 L882.6,782.2 L883.1,783.5 L883.6,782.3 L884.1,782.4 L884.6,781.6 L885.1,780.6 L885.6,780.1 L886.1,780.0 L886.6,780.3 L887.1,779.5 L887.6,778.4 L888.1,777.1 L888.6,777.1 L889.1,777.4 L889.6,778.0 L890.1,779.8 L890.6,779.4 L891.1,781.6 L891.6,780.0 L892.1,778.7 L892.6,777.4 L893.1,777.8 L893.6,777.1 L894.1,776.6 L894.6,776.8 L895.1,777.2 L895.6,776.9 L896.1,777.2 L896.6,776.2 L897.1,775.0 L897.6,773.8 L898.1,775.0 L898.6,774.2 L899.1,774.1 L899.6,775.3 L900.1,775.0 L900.6,773.9 L901.1,774.1 L901.6,774.9 L902.1,774.8 L902.6,775.7 L903.1,777.3 L903.6,778.0 L904.1,777.2 L904.6,778.2 L905.1,779.0 L905.6,779.1 L906.1,778.7 L906.6,779.4 L907.1,778.0 L907.6,777.6 L908.1,777.4 L908.6,776.9 L909.1,778.7 L909.6,778.8 L910.1,779.8 L910.6,780.4 L911.1,781.6 L911.6,782.0 L912.1,781.0 L912.6,780.9 L913.1,779.7 L913.6,778.9 L914.1,779.5 L914.6,780.7 L915.1,781.7 L915.6,782.9 L916.1,782.6 L916.6,782.8 L917.1,782.8 L917.6,783.1 L918.1,783.3 L918.6,783.5 L919.1,783.6 L919.6,784.7 L920.1,784.2 L920.6,782.7 L921.1,782.9 L921.6,781.6 L922.1,781.6 L922.6,782.3 L923.1,782.6 L923.6,783.9 L924.1,784.9 L924.6,787.1 L925.1,787.8 L925.6,788.1 L926.1,787.4 L926.6,786.1 L927.1,785.5 L927.6,783.6 L928.1,783.8 L928.6,784.0 L929.1,784.3 L929.6,786.1 L930.1,786.6 L930.6,787.9 L931.1,788.4 L931.6,788.1 L932.1,788.8 L932.6,787.9 L933.1,786.4 L933.6,785.2 L934.1,783.9 L934.6,783.9 L935.1,784.3 L935.6,785.3 L936.1,786.1 L936.6,787.4 L937.1,787.7 L937.6,787.1 L938.1,787.4 L938.6,786.9 L939.1,786.5 L939.6,786.9 L940.1,787.4 L940.6,786.4 L941.1,785.5 L941.6,785.3 L942.1,785.3 L942.6,782.1 L943.1,781.2 L943.6,780.5 L944.1,782.0 L944.6,784.2 L945.1,785.8 L945.6,788.1 L946.1,787.4 L946.6,786.8 L947.1,784.0 L947.6,782.4 L948.1,780.5 L948.6,780.5 L949.1,780.6 L949.6,782.0 L950.1,782.4 L950.6,782.0 L951.1,781.5 L951.6,780.8 L952.1,780.8 L952.6,781.4 L953.1,781.9 L953.6,782.8 L954.1,783.6 L954.6,782.4 L955.1,781.5 L955.6,780.5 L956.1,779.3 L956.6,778.6 L957.1,778.3 L957.6,779.3 L958.1,778.6 L958.6,778.6 L959.1,779.2 L959.6,779.9 L960.1,780.0 L960.6,779.6 L961.1,779.8 L961.6,779.4 L962.1,779.0 L962.6,779.5 L963.1,779.8 L963.6,779.9 L964.1,780.6 L964.6,779.3 L965.1,779.5 L965.6,779.3 L966.1,778.8 L966.6,777.8 L967.1,777.6 L967.6,777.0 L968.1,777.8 L968.6,779.3 L969.1,778.0 L969.6,778.6 L970.1,780.2 L970.6,780.3 L971.1,779.1 L971.6,779.5 L972.1,778.9 L972.6,777.4 L973.1,778.1 L973.6,777.1 L974.1,778.6 L974.6,778.8 L975.1,779.0 L975.6,778.8 L976.1,779.0 L976.6,778.5 L977.1,777.8 L977.6,777.1 L978.1,777.4 L978.6,778.6 L979.1,779.0 L979.6,780.6 L980.1,781.9 L980.6,782.1 L981.1,781.9 L981.6,780.7 L982.1,778.0 L982.6,776.8 L983.1,775.0 L983.6,776.9 L984.1,779.0 L984.6,780.3 L985.1,783.2 L985.6,783.2 L986.1,785.2 L986.6,784.0 L987.1,782.3 L987.6,780.4 L988.1,778.5 L988.6,776.9 L989.1,776.5 L989.6,777.4 L990.1,778.8 L990.6,779.2 L991.1,780.0 L991.6,779.4 L992.1,779.7 L992.6,780.3 L993.1,781.4 L993.6,782.6 L994.1,784.1 L994.6,783.8 L995.1,782.7 L995.6,781.6 L996.1,778.7 L996.6,777.2 L997.1,777.8 L997.6,778.4 L998.1,780.1 L998.6,782.2 L999.1,782.9 L999.6,783.4 L1000.1,783.2 L1000.6,782.4 L1001.1,781.5 L1001.6,780.2 L1002.1,779.7 L1002.6,778.3 L1003.1,780.2 L1003.6,779.6 L1004.1,781.0 L1004.6,782.6 L1005.1,781.1 L1005.6,779.9 L1006.1,780.5 L1006.6,779.0 L1007.1,779.1 L1007.6,779.6 L1008.1,781.0 L1008.6,782.1 L1009.1,782.4 L1009.6,783.0 L1010.1,781.7 L1010.6,781.8 L1011.1,780.6 L1011.6,780.7 L1012.1,779.9 L1012.6,780.2 L1013.1,781.1 L1013.6,780.9 L1014.1,781.2 L1014.6,781.8 L1015.1,781.7 L1015.6,780.6 L1016.1,779.0 L1016.6,777.2 L1017.1,774.5 L1017.6,772.6 L1018.1,771.0 L1018.6,769.4 L1019.1,768.3 L1019.6,766.9 L1020.1,764.7 L1020.6,763.0 L1021.1,760.8 L1021.6,759.4 L1022.1,758.6 L1022.4,758.1 L1022.6,758.6 L1023.1,758.9 L1023.6,760.8 L1024.1,763.4 L1024.6,765.9 L1025.1,769.0 L1025.6,771.3 L1025.9,772.0 L1026.1,772.8 L1026.6,774.3 L1027.1,775.4 L1027.6,776.5 L1028.1,777.3 L1028.6,778.6 L1029.1,778.8 L1029.6,780.3 L1030.1,781.5 L1030.6,781.8 L1031.1,781.6 L1031.6,781.3 L1032.1,780.8 L1032.6,781.9 L1033.1,781.6 L1033.6,782.9 L1034.1,783.8 L1034.6,784.6 L1035.1,785.0 L1035.6,784.0 L1036.1,783.4 L1036.6,783.5 L1037.1,784.1 L1037.6,785.3 L1038.1,786.0 L1038.6,787.0 L1039.1,787.2 L1039.6,788.2 L1040.1,787.9 L1040.6,788.1 L1041.1,788.9 L1041.6,789.2 L1042.1,788.6 L1042.6,788.7 L1043.1,788.7 L1043.6,787.2 L1044.1,786.7 L1044.6,785.4 L1045.1,784.9 L1045.6,785.7 L1046.1,787.5 L1046.6,787.4 L1047.1,788.1 L1047.6,788.9 L1048.1,788.2 L1048.6,788.3 L1049.1,789.1 L1049.6,789.8 L1050.1,790.2 L1050.6,790.4 L1051.1,789.2 L1051.6,788.3 L1052.1,787.5 L1052.6,786.1 L1053.1,786.3 L1053.6,786.3 L1054.1,787.7 L1054.6,788.1 L1055.1,788.3 L1055.6,788.0 L1056.1,787.1 L1056.6,785.6 L1057.1,783.6 L1057.6,783.4 L1058.1,782.4 L1058.6,784.1 L1059.1,783.8 L1059.6,784.1 L1060.1,783.0 L1060.6,783.2 L1061.1,782.5 L1061.6,780.8 L1062.1,781.3 L1062.6,781.7 L1063.1,781.9 L1063.6,782.3 L1064.1,781.2 L1064.6,778.1 L1065.1,777.9 L1065.6,777.5 L1066.1,779.6 L1066.6,780.0 L1067.1,782.8 L1067.6,784.4 L1068.1,783.5 L1068.6,783.5 L1069.1,781.8 L1069.6,781.7 L1070.1,780.9 L1070.6,780.0 L1071.1,779.3 L1071.6,778.8 L1072.1,778.7 L1072.6,778.0 L1073.1,778.3 L1073.6,781.2 L1074.1,780.1 L1074.6,781.1 L1075.1,780.7 L1075.6,778.7 L1076.1,777.9 L1076.6,777.2 L1077.1,777.2 L1077.6,779.4 L1078.1,780.5 L1078.6,782.3 L1079.1,784.1 L1079.6,782.8 L1080.1,782.4 L1080.6,781.0 L1081.1,779.1 L1081.6,777.5 L1082.1,776.4 L1082.6,775.7 L1083.1,776.7 L1083.6,777.4 L1084.1,777.7 L1084.6,778.2 L1085.1,779.7 L1085.6,779.4 L1086.1,780.8 L1086.6,780.9 L1087.1,780.3 L1087.6,780.8 L1088.1,778.7 L1088.6,776.6 L1089.1,774.1 L1089.6,774.1 L1090.1,775.0 L1090.6,776.1 L1091.1,779.0 L1091.6,778.7 L1092.1,780.3 L1092.6,778.6 L1093.1,777.4 L1093.6,775.7 L1094.1,774.9 L1094.6,773.5 L1095.1,773.9 L1095.6,774.9 L1096.1,776.0 L1096.6,777.1 L1097.1,777.1 L1097.6,776.9 L1098.1,776.0 L1098.6,774.2 L1099.1,774.3 L1099.6,774.5 L1100.1,773.3 L1100.6,773.2 L1101.1,773.2 L1101.6,773.8 L1102.1,774.9 L1102.6,775.2 L1103.1,776.3 L1103.6,775.9 L1104.1,777.0 L1104.6,776.4 L1105.1,777.5 L1105.6,777.5 L1106.1,775.7 L1106.6,775.7 L1107.1,774.3 L1107.6,774.3 L1108.1,773.6 L1108.6,774.3 L1109.1,775.5 L1109.6,777.8 L1110.1,777.9 L1110.6,780.1 L1111.1,780.5 L1111.6,780.6 L1112.1,780.7 L1112.6,780.8 L1113.1,780.3 L1113.6,780.2 L1114.1,778.8 L1114.6,778.1 L1115.1,778.7 L1115.6,779.3 L1116.1,779.9 L1116.6,781.5 L1117.1,783.2 L1117.6,783.6 L1118.1,783.8 L1118.6,785.5 L1119.1,784.3 L1119.6,783.5 L1120.1,782.4 L1120.6,781.1 L1121.1,780.3 L1121.6,780.5 L1122.1,781.1 L1122.6,781.4 L1123.1,782.3 L1123.6,780.6 L1124.1,782.6 L1124.6,783.7 L1125.1,785.1 L1125.6,784.7 L1126.1,783.9 L1126.6,781.3 L1127.1,780.2 L1127.6,779.5 L1128.1,778.9 L1128.6,779.2 L1129.1,780.2 L1129.6,781.6 L1130.1,780.4 L1130.6,782.3 L1131.1,782.0 L1131.6,781.9 L1132.1,783.1 L1132.6,783.0 L1133.1,783.1 L1133.6,781.1 L1134.1,780.5 L1134.6,778.2 L1135.1,777.8 L1135.6,777.7 L1136.1,777.7 L1136.6,778.9 L1137.1,779.4 L1137.6,780.9 L1138.1,780.4 L1138.6,779.8 L1139.1,779.4 L1139.6,778.6 L1140.1,777.4 L1140.6,777.8 L1141.1,777.7 L1141.6,779.2 L1142.1,779.5 L1142.6,780.1 L1143.1,780.1 L1143.6,778.7 L1144.1,778.3 L1144.6,778.6 L1145.1,779.7 L1145.6,781.0 L1146.1,781.5 L1146.6,781.0 L1147.1,781.2 L1147.6,780.1 L1148.1,780.1 L1148.6,779.2 L1149.1,780.0 L1149.6,779.1 L1150.1,778.0 L1150.6,776.6 L1151.1,776.8 L1151.6,776.6 L1152.1,778.0 L1152.6,779.3 L1153.1,781.1 L1153.6,782.8 L1154.1,783.2 L1154.6,781.1 L1155.1,780.3 L1155.6,779.7 L1156.1,779.2 L1156.6,779.4 L1157.1,780.9 L1157.6,779.5 L1158.1,779.4 L1158.6,778.5 L1159.1,778.9 L1159.6,779.3 L1160.1,782.7 L1160.6,784.1 L1161.1,784.7 L1161.6,785.4 L1162.1,782.7 L1162.6,780.2 L1163.1,777.8 L1163.6,777.6 L1164.1,777.7 L1164.6,779.6 L1165.1,782.0 L1165.6,784.5 L1166.1,786.0 L1166.6,784.9 L1167.1,781.6 L1167.6,779.3 L1168.1,777.8 L1168.6,778.4 L1169.1,777.9 L1169.6,779.2 L1170.1,782.7 L1170.6,783.8 L1171.1,784.0 L1171.6,784.4 L1172.1,783.0 L1172.6,781.4 L1173.1,780.0 L1173.6,779.2 L1174.1,777.9 L1174.6,775.8 L1175.1,776.3 L1175.6,775.2 L1176.1,777.3 L1176.6,778.5 L1177.1,780.5 L1177.6,782.9 L1178.1,783.8 L1178.6,783.9 L1179.1,782.9 L1179.6,779.3 L1180.1,777.5 L1180.6,775.3 L1181.1,775.5 L1181.6,776.5 L1182.1,776.5 L1182.6,777.8 L1183.1,776.9 L1183.6,777.2 L1184.1,777.1 L1184.6,776.9 L1185.1,776.6 L1185.6,776.1 L1186.1,775.8 L1186.6,775.4 L1186.8,775.5 L1187.1,774.5 L1187.6,772.5 L1188.1,769.4 L1188.6,766.0 L1189.1,762.5 L1189.6,759.8 L1190.1,758.1 L1190.3,758.1 L1190.6,758.3 L1191.1,760.1 L1191.6,763.0 L1192.1,766.4 L1192.6,769.9 L1193.1,773.1 L1193.6,775.2 L1193.8,775.5 L1194.1,775.9 L1194.6,776.7 L1195.1,777.2 L1195.6,777.6 L1196.1,778.3 L1196.6,779.2 L1197.1,780.2 L1197.6,779.2 L1198.1,778.5 L1198.6,778.0 L1199.1,778.1 L1199.6,778.4 L1200.1,778.4 L1200.6,779.9 L1201.1,781.1 L1201.6,780.7 L1202.1,782.8 L1202.6,782.6 L1203.1,783.7 L1203.6,783.5 L1204.1,783.2 L1204.6,782.4 L1205.1,781.5 L1205.6,781.1 L1206.1,780.8 L1206.6,781.3 L1207.1,782.6 L1207.6,783.3 L1208.1,784.3 L1208.6,783.4 L1209.1,784.0 L1209.6,782.8 L1210.1,782.5 L1210.6,783.2 L1211.1,782.9 L1211.6,783.6 L1212.1,784.8 L1212.6,785.4 L1213.1,785.2 L1213.6,787.0 L1214.1,786.0 L1214.6,784.5 L1215.1,783.9 L1215.6,783.3 L1216.1,782.5 L1216.6,783.0 L1217.1,784.2 L1217.6,784.1 L1218.1,785.0 L1218.6,785.0 L1219.1,785.1 L1219.6,786.9 L1220.1,786.3 L1220.6,786.9 L1221.1,786.2 L1221.6,784.7 L1222.1,784.0 L1222.6,784.1 L1223.1,784.7 L1223.6,785.8 L1224.1,785.8 L1224.6,786.8 L1225.1,786.3 L1225.6,785.3 L1226.1,785.0 L1226.6,785.3 L1227.1,785.4 L1227.6,786.0 L1228.1,786.4 L1228.6,785.4 L1229.1,784.6 L1229.6,783.4 L1230.1,783.0 L1230.6,782.7 L1231.1,782.8 L1231.6,783.2 L1232.1,783.0 L1232.6,782.2 L1233.1,780.9 L1233.6,779.6 L1234.1,777.0 L1234.6,775.6 L1235.1,774.7 L1235.6,774.2 L1236.1,774.5 L1236.6,774.0 L1237.1,774.3 L1237.6,773.5 L1238.1,773.5 L1238.6,772.6 L1239.1,770.6 L1239.6,769.8 L1240.1,768.9 L1240.6,768.7 L1241.1,767.8 L1241.6,767.9 L1242.1,767.5 L1242.6,766.3 L1243.1,765.2 L1243.6,764.5 L1244.1,763.5 L1244.6,762.6 L1245.1,761.4 L1245.6,760.6 L1246.1,761.0 L1246.6,761.3 L1247.1,761.9 L1247.6,762.1 L1248.1,762.6 L1248.6,762.1 L1249.1,760.6 L1249.6,761.0 L1250.1,761.2 L1250.6,761.2 L1251.1,762.3 L1251.6,762.0 L1252.1,762.5 L1252.6,761.8 L1253.1,762.2 L1253.6,762.5 L1254.1,763.0 L1254.6,763.8 L1255.1,765.1 L1255.6,766.0 L1256.1,767.2 L1256.6,768.5 L1257.1,770.0 L1257.6,771.1 L1258.1,770.7 L1258.6,770.9 L1259.1,769.9 L1259.6,770.7 L1260.1,771.5 L1260.6,772.8 L1261.1,773.6 L1261.6,774.6 L1262.1,775.2 L1262.6,776.5 L1263.1,776.6 L1263.6,777.3 L1264.1,778.6 L1264.6,780.0 L1265.1,781.4 L1265.6,782.8 L1266.1,783.5 L1266.6,784.7 L1267.1,785.4 L1267.6,787.5 L1268.1,789.5 L1268.6,791.9 L1269.1,793.5 L1269.6,794.5 L1270.1,792.7 L1270.6,788.1 L1271.1,783.4 L1271.4,781.0 L1271.6,780.8 L1272.1,779.4 L1272.6,778.0 L1273.1,777.1 L1273.5,776.3 L1274.0,776.2 L1274.5,776.0 L1275.0,775.7 L1275.5,775.5 L1276.0,774.6 L1276.5,773.5 L1277.0,772.9 L1277.5,772.9 L1278.0,774.1 L1278.5,776.2 L1279.0,777.8 L1279.5,778.8 L1280.0,780.1 L1280.5,779.7 L1281.0,777.7 L1281.5,776.4 L1282.0,775.4 L1282.5,774.5 L1283.0,775.1 L1283.5,775.6 L1284.0,776.4 L1284.5,776.4 L1285.0,776.0 L1285.5,776.8 L1286.0,776.8 L1286.5,775.0 L1287.0,776.3 L1287.5,777.6 L1288.0,777.5 L1288.5,777.9 L1289.0,778.8 L1289.5,779.0 L1290.0,779.3 L1290.5,781.0 L1291.0,781.4 L1291.5,780.9 L1292.0,779.6 L1292.5,777.8 L1293.0,776.7 L1293.5,775.2 L1294.0,776.1 L1294.5,777.6 L1295.0,779.4 L1295.5,782.6 L1296.0,784.6 L1296.5,784.1 L1297.0,782.0 L1297.5,780.0 L1298.0,777.7 L1298.5,776.4 L1299.0,776.3 L1299.5,777.4 L1300.0,780.0 L1300.5,782.3 L1301.0,783.2 L1301.5,783.7 L1302.0,784.7 L1302.5,784.1 L1303.0,783.7 L1303.5,782.6 L1304.0,782.6 L1304.5,782.0 L1305.0,782.8 L1305.5,783.0 L1306.0,782.1 L1306.5,782.5 L1307.0,785.7 L1307.5,788.2 L1308.0,790.1 L1308.5,789.7 L1309.0,787.8 L1309.5,785.8 L1310.0,781.7 L1310.5,780.5 L1311.0,783.5 L1311.5,786.2 L1312.0,787.9 L1312.5,788.5 L1313.0,788.9 L1313.5,788.8 L1313.7,787.7 L1314.0,788.2 L1314.5,786.0 L1315.0,782.9 L1315.5,779.5 L1316.0,776.3 L1316.5,774.4 L1317.0,773.4 L1317.2,773.8 L1317.5,774.0 L1318.0,774.1 L1318.5,774.8 L1319.0,775.2 L1319.5,776.1 L1320.0,777.6 L1320.5,778.0 L1321.0,778.2 L1321.5,777.9 L1322.0,778.8 L1322.5,777.7 L1323.0,777.1 L1323.5,777.2 L1324.0,777.3 L1324.5,779.2 L1325.0,780.8 L1325.5,782.5 L1326.0,783.1 L1326.5,785.1 L1327.0,785.6 L1327.5,785.5 L1328.0,783.9 L1328.5,782.0 L1329.0,779.6 L1329.5,777.1 L1330.0,777.3 L1330.5,778.1 L1331.0,778.6 L1331.5,780.5 L1332.0,779.7 L1332.5,778.1 L1333.0,776.0 L1333.5,772.8 L1334.0,771.5 L1334.5,770.4 L1335.0,770.7 L1335.5,770.7 L1336.0,771.6 L1336.5,771.6 L1337.0,770.7 L1337.5,769.1 L1338.0,768.0 L1338.5,766.7 L1339.0,766.4 L1339.5,766.0 L1340.0,765.5 L1340.5,766.6 L1341.0,766.7 L1341.5,768.8 L1342.0,769.7 L1342.5,771.2 L1343.0,770.7 L1343.5,770.4 L1344.0,769.7 L1344.5,769.5 L1345.0,768.0 L1345.5,767.9 L1346.0,767.7 L1346.5,769.0 L1347.0,770.1 L1347.5,772.0 L1348.0,773.7 L1348.5,775.0 L1349.0,775.0 L1349.5,775.6 L1350.0,775.1 L1350.5,775.2 L1351.0,775.0 L1351.5,775.2 L1352.0,776.1 L1352.5,777.5 L1353.0,778.4 L1353.5,780.0 L1354.0,779.1 L1354.5,778.6 L1355.0,775.8 L1355.5,773.6 L1356.0,770.7 L1356.5,769.5 L1357.0,769.4 L1357.5,769.5 L1358.0,771.0 L1358.5,773.9 L1359.0,775.9 L1359.5,775.7 L1360.0,773.4 L1360.5,771.2 L1361.0,768.0 L1361.5,766.8 L1362.0,766.1 L1362.5,768.3 L1363.0,771.2 L1363.5,772.6 L1364.0,773.9 L1364.5,773.9 L1365.0,772.5 L1365.5,770.6 L1366.0,769.5 L1366.5,769.3 L1367.0,769.2 L1367.5,769.0 L1368.0,768.8 L1368.5,768.4 L1368.6,768.6 L1369.0,767.3 L1369.5,764.0 L1370.0,758.9 L1370.5,752.9 L1371.0,746.3 L1371.5,740.0 L1372.0,734.4 L1372.1,733.8 L1372.5,729.4 L1373.0,723.8 L1373.5,717.9 L1374.0,712.2 L1374.5,706.9 L1375.0,702.4 L1375.5,699.1 L1376.0,697.5 L1376.2,697.3 L1376.5,697.9 L1377.0,700.9 L1377.5,705.7 L1378.0,711.8 L1378.5,718.6 L1379.0,725.4 L1379.5,731.7 L1379.7,733.8 L1380.0,737.4 L1380.5,743.9 L1381.0,750.8 L1381.5,757.6 L1382.0,763.6 L1382.5,768.5 L1383.0,771.6 L1383.2,772.0 L1383.5,772.9 L1384.0,773.9 L1384.5,774.8 L1385.0,775.5 L1385.5,776.3 L1386.0,776.5 L1386.5,776.9 L1387.0,777.3 L1387.5,777.7 L1388.0,778.2 L1388.5,778.8 L1389.0,778.8 L1389.5,779.3 L1390.0,780.7 L1390.5,780.1 L1391.0,781.1 L1391.5,780.6 L1392.0,780.4 L1392.5,779.5 L1393.0,780.3 L1393.5,780.9 L1394.0,782.4 L1394.5,784.7 L1395.0,786.2 L1395.5,787.2 L1396.0,787.8 L1396.5,785.9 L1397.0,783.1 L1397.5,781.8 L1398.0,781.5 L1398.5,782.0 L1399.0,783.7 L1399.5,786.2 L1400.0,788.0 L1400.5,790.0 L1401.0,790.1 L1401.5,789.5 L1402.0,787.7 L1402.5,785.6 L1403.0,784.4 L1403.5,784.3 L1404.0,785.0 L1404.5,787.2 L1405.0,787.6 L1405.5,789.1 L1406.0,788.7 L1406.5,786.9 L1407.0,786.6 L1407.5,784.4 L1408.0,784.8 L1408.5,784.0 L1409.0,783.7 L1409.5,784.6 L1410.0,787.8 L1410.5,790.0 L1411.0,792.7 L1411.5,791.5 L1412.0,790.0 L1412.5,787.6 L1413.0,784.9 L1413.5,783.5 L1414.0,782.5 L1414.5,782.7 L1415.0,782.0 L1415.5,782.8 L1416.0,782.6 L1416.5,783.9 L1417.0,784.4 L1417.5,785.7 L1418.0,786.5 L1418.5,786.4 L1419.0,784.0 L1419.5,782.4 L1420.0,779.8 L1420.5,778.2 L1421.0,775.7 L1421.5,775.5 L1422.0,775.3 L1422.5,775.8 L1423.0,777.7 L1423.5,778.5 L1424.0,779.9 L1424.5,779.7 L1425.0,778.5 L1425.5,775.0 L1426.0,772.8 L1426.5,770.5 L1427.0,770.8 L1427.5,770.8 L1428.0,770.7 L1428.5,770.6 L1429.0,770.8 L1429.4,770.3 L1429.5,770.8 L1430.0,773.5 L1430.5,778.4 L1431.0,783.7 L1431.5,787.8 L1431.9,789.4 L1432.0,788.9 L1432.5,789.1 L1433.0,789.3 L1433.5,789.5 L1434.0,789.6 L1434.5,790.5 L1435.0,792.8 L1435.5,790.3 L1436.0,787.5 L1436.5,784.1 L1437.0,784.0 L1437.5,784.2 L1438.0,786.7 L1438.5,788.0 L1439.0,789.0 L1439.5,787.6 L1440.0,785.8 L1440.5,784.5 L1441.0,784.1 L1441.5,785.3 L1442.0,786.9 L1442.5,789.0 L1443.0,790.5 L1443.5,791.3 L1444.0,787.7 L1444.5,784.2 L1445.0,780.4 L1445.5,779.6 L1446.0,779.6 L1446.5,782.5 L1447.0,784.0 L1447.5,786.0 L1448.0,786.4 L1448.5,785.5 L1449.0,783.2 L1449.5,782.4 L1450.0,782.3 L1450.5,782.0 L1451.0,784.3 L1451.5,785.5 L1452.0,786.5 L1452.5,785.8 L1453.0,785.6 L1453.5,784.0 L1454.0,782.6 L1454.5,780.8 L1455.0,781.2 L1455.5,782.5 L1456.0,782.7 L1456.5,784.0 L1457.0,784.9 L1457.5,784.8 L1458.0,785.1 L1458.5,785.8 L1459.0,784.6 L1459.5,785.1 L1460.0,785.7 L1460.5,785.0 L1461.0,784.0 L1461.5,782.7 L1462.0,781.9 L1462.5,781.5 L1463.0,782.2 L1463.5,783.3 L1464.0,785.3 L1464.5,785.2 L1465.0,786.5 L1465.5,785.3 L1466.0,784.5 L1466.5,783.5 L1467.0,783.5 L1467.5,783.4 L1468.0,784.4 L1468.5,784.4 L1469.0,784.9 L1469.5,784.6 L1470.0,783.4 L1470.5,781.8 L1471.0,781.6 L1471.5,781.9 L1472.0,783.6 L1472.5,785.6 L1473.0,787.7 L1473.5,787.9 L1474.0,787.6 L1474.5,786.1 L1475.0,783.5 L1475.5,783.3 L1476.0,782.9 L1476.5,782.7 L1477.0,783.1 L1477.5,783.0 L1478.0,783.0 L1478.5,781.2 L1479.0,780.6 L1479.5,781.3 L1480.0,782.5 L1480.5,784.5 L1481.0,785.3 L1481.5,784.6 L1482.0,784.0 L1482.5,784.2 L1483.0,781.6 L1483.5,780.5 L1484.0,780.8 L1484.5,780.4 L1485.0,781.0 L1485.5,781.3 L1486.0,779.9 L1486.5,780.1 L1487.0,780.1 L1487.5,780.2 L1488.0,780.2 L1488.5,780.5 L1489.0,780.6 L1489.5,779.9 L1490.0,780.0 L1490.5,780.3 L1491.0,780.1 L1491.5,780.7 L1492.0,780.0 L1492.5,779.3 L1493.0,777.5 L1493.5,776.6 L1494.0,777.3 L1494.5,777.2 L1495.0,777.8 L1495.5,779.7 L1496.0,780.6 L1496.5,780.5 L1497.0,780.6 L1497.5,780.9 L1498.0,780.0 L1498.5,780.0 L1499.0,779.8 L1499.5,780.2 L1500.0,779.8 L1500.5,778.8 L1501.0,778.4" fill="none" stroke="#000" stroke-width="2.6" stroke-linejoin="round" stroke-linecap="butt"/>
<path clip-path="url(#c3)" d="M137.0,1187.9 L137.5,1187.5 L138.0,1186.9 L138.5,1186.2 L139.0,1185.1 L139.5,1184.6 L140.0,1183.7 L140.5,1183.7 L141.0,1184.3 L141.5,1184.6 L142.0,1183.6 L142.5,1182.9 L143.0,1184.3 L143.5,1183.8 L144.0,1184.0 L144.5,1183.8 L145.0,1183.8 L145.5,1183.9 L146.0,1184.1 L146.5,1185.2 L147.0,1184.7 L147.5,1184.0 L148.0,1183.2 L148.5,1183.6 L149.0,1183.9 L149.5,1184.2 L150.0,1182.9 L150.5,1183.8 L151.0,1184.0 L151.5,1183.2 L152.0,1184.2 L152.5,1185.4 L153.0,1185.7 L153.5,1186.7 L154.0,1185.9 L154.5,1185.6 L155.0,1185.5 L155.5,1185.1 L156.0,1185.1 L156.5,1184.7 L157.0,1185.5 L157.5,1185.1 L158.0,1186.6 L158.5,1186.9 L159.0,1187.6 L159.5,1189.0 L160.0,1189.0 L160.5,1189.3 L161.0,1189.1 L161.5,1189.0 L162.0,1188.6 L162.5,1188.0 L163.0,1187.6 L163.5,1187.6 L164.0,1189.3 L164.5,1190.8 L165.0,1192.0 L165.5,1192.2 L166.0,1191.6 L166.5,1191.1 L167.0,1189.2 L167.5,1189.4 L168.0,1190.1 L168.5,1189.7 L169.0,1190.1 L169.5,1190.6 L170.0,1190.4 L170.5,1190.3 L171.0,1190.5 L171.5,1189.6 L172.0,1190.0 L172.5,1189.6 L173.0,1189.8 L173.5,1190.3 L174.0,1190.1 L174.5,1191.3 L175.0,1190.8 L175.5,1190.7 L176.0,1189.8 L176.5,1189.5 L177.0,1189.1 L177.5,1189.8 L178.0,1190.2 L178.5,1191.8 L179.0,1192.8 L179.5,1190.5 L180.0,1190.8 L180.5,1188.8 L181.0,1188.7 L181.5,1188.2 L182.0,1190.5 L182.5,1190.5 L183.0,1192.0 L183.5,1193.3 L184.0,1191.7 L184.5,1190.3 L185.0,1190.3 L185.5,1189.4 L186.0,1189.2 L186.5,1189.8 L187.0,1190.4 L187.5,1192.3 L188.0,1192.3 L188.5,1190.7 L189.0,1190.5 L189.5,1189.5 L190.0,1189.3 L190.5,1187.9 L191.0,1188.8 L191.5,1188.5 L192.0,1189.1 L192.5,1190.5 L193.0,1191.1 L193.5,1192.8 L194.0,1191.4 L194.5,1190.0 L195.0,1188.9 L195.5,1188.9 L196.0,1188.1 L196.5,1189.0 L197.0,1191.7 L197.5,1192.5 L198.0,1192.5 L198.5,1192.5 L199.0,1192.5 L199.5,1190.2 L200.0,1191.4 L200.5,1190.2 L201.0,1190.1 L201.5,1189.2 L202.0,1190.1 L202.5,1188.1 L203.0,1189.2 L203.5,1188.4 L204.0,1191.0 L204.5,1192.6 L205.0,1192.3 L205.5,1192.0 L206.0,1192.0 L206.5,1191.3 L207.0,1190.4 L207.5,1189.1 L208.0,1189.6 L208.5,1189.2 L208.9,1191.3 L209.4,1191.2 L209.9,1192.7 L210.4,1192.3 L210.9,1192.3 L211.4,1192.8 L211.9,1191.3 L212.4,1191.8 L212.9,1190.6 L213.4,1189.9 L213.9,1189.7 L214.4,1190.6 L214.9,1190.3 L215.4,1190.6 L215.9,1190.4 L216.4,1191.7 L216.9,1191.7 L217.4,1191.1 L217.9,1191.2 L218.4,1189.6 L218.9,1191.4 L219.4,1192.5 L219.9,1193.1 L220.4,1193.2 L220.9,1193.8 L221.4,1193.5 L221.9,1193.9 L222.4,1194.0 L222.9,1194.7 L223.4,1193.9 L223.9,1193.0 L224.4,1192.7 L224.9,1191.2 L225.4,1190.9 L225.9,1190.7 L226.4,1192.0 L226.9,1193.5 L227.4,1193.6 L227.9,1193.1 L228.4,1192.5 L228.9,1192.2 L229.4,1192.2 L229.9,1192.0 L230.4,1191.1 L230.9,1191.4 L231.4,1190.3 L231.9,1189.3 L232.4,1188.6 L232.9,1187.6 L233.2,1187.8 L233.4,1187.2 L233.9,1185.8 L234.4,1184.1 L234.9,1181.7 L235.4,1179.5 L235.9,1177.3 L236.4,1175.6 L236.9,1174.3 L237.2,1174.0 L237.4,1174.0 L237.9,1174.0 L238.4,1174.6 L238.9,1174.8 L239.4,1175.2 L239.9,1175.7 L240.4,1176.1 L240.9,1176.9 L241.4,1177.7 L241.9,1179.2 L242.4,1180.9 L242.9,1182.7 L243.4,1184.1 L243.9,1185.5 L244.4,1186.3 L244.9,1186.9 L245.4,1186.7 L245.9,1187.0 L246.4,1187.6 L246.9,1187.2 L247.4,1186.2 L247.9,1187.5 L248.4,1188.7 L248.9,1190.1 L249.4,1190.2 L249.9,1192.3 L250.4,1192.4 L250.9,1192.2 L251.4,1190.5 L251.9,1190.6 L252.4,1188.5 L252.9,1188.8 L253.4,1190.0 L253.9,1191.4 L254.4,1192.7 L254.9,1193.0 L255.4,1193.2 L255.9,1192.6 L256.4,1191.1 L256.9,1192.1 L257.4,1190.9 L257.9,1190.3 L258.4,1189.6 L258.9,1188.6 L259.4,1188.8 L259.9,1189.4 L260.4,1191.7 L260.9,1193.1 L261.4,1193.1 L261.9,1192.2 L262.4,1192.5 L262.9,1190.9 L263.4,1189.9 L263.9,1189.7 L264.4,1190.6 L264.9,1190.9 L265.4,1189.7 L265.9,1189.1 L266.4,1188.9 L266.9,1188.5 L267.4,1189.0 L267.9,1190.0 L268.4,1190.7 L268.9,1192.6 L269.4,1192.8 L269.9,1193.9 L270.4,1193.3 L270.9,1191.9 L271.4,1190.3 L271.9,1189.2 L272.4,1188.8 L272.9,1188.1 L273.4,1187.6 L273.9,1186.8 L274.3,1186.1 L274.4,1185.9 L274.9,1184.3 L275.4,1181.8 L275.9,1178.2 L276.4,1173.6 L276.6,1171.4 L276.9,1166.5 L277.4,1151.8 L277.9,1129.2 L278.3,1105.7 L278.4,1097.4 L278.9,1023.8 L279.2,974.3 L279.4,943.8 L279.9,866.1 L280.2,820.0 L280.4,790.0 M285.6,790.0 L285.8,820.0 L286.1,860.2 L286.6,920.6 L286.8,941.4 L287.1,971.4 L287.6,1018.5 L288.1,1056.8 L288.4,1072.8 L288.6,1081.4 L289.1,1099.9 L289.6,1115.0 L290.1,1127.2 L290.6,1136.9 L290.7,1138.5 L291.1,1144.8 L291.6,1151.8 L292.1,1157.9 L292.6,1163.3 L293.1,1168.0 L293.6,1171.9 L294.0,1174.7 L294.1,1175.3 L294.6,1178.6 L295.1,1182.0 L295.6,1185.1 L296.1,1188.2 L296.6,1190.8 L297.1,1192.7 L297.6,1194.0 L298.1,1194.5 L298.3,1194.4 L298.6,1194.4 L299.1,1193.7 L299.6,1193.0 L300.1,1192.4 L300.6,1191.8 L301.1,1191.5 L301.6,1191.8 L302.1,1191.5 L302.6,1191.3 L303.1,1190.8 L303.6,1190.0 L304.1,1189.2 L304.6,1189.7 L305.1,1189.4 L305.6,1189.2 L306.1,1189.0 L306.6,1188.2 L307.1,1186.9 L307.6,1186.6 L308.1,1186.4 L308.6,1186.6 L309.1,1186.7 L309.6,1186.9 L310.1,1189.0 L310.6,1188.6 L311.1,1188.7 L311.6,1188.0 L312.1,1187.4 L312.6,1187.3 L313.1,1186.7 L313.6,1186.0 L313.7,1186.1 L314.1,1185.0 L314.6,1183.2 L315.1,1181.0 L315.6,1179.1 L316.1,1177.1 L316.6,1175.9 L317.0,1175.3 L317.1,1175.7 L317.6,1175.7 L318.1,1176.2 L318.6,1176.7 L319.1,1177.5 L319.6,1178.7 L320.1,1179.5 L320.6,1180.9 L321.1,1181.4 L321.6,1181.2 L322.1,1180.5 L322.6,1180.3 L323.1,1180.0 L323.6,1179.7 L324.1,1180.7 L324.6,1180.4 L325.1,1180.7 L325.6,1181.5 L326.1,1181.9 L326.6,1181.4 L327.1,1182.1 L327.6,1181.6 L328.1,1180.5 L328.7,1180.1 L329.2,1178.7 L329.7,1178.5 L330.2,1178.1 L330.7,1177.5 L331.2,1177.0 L331.7,1175.4 L332.2,1173.9 L332.7,1173.0 L333.2,1172.0 L333.7,1171.3 L334.2,1170.7 L334.7,1170.6 L335.2,1170.1 L335.7,1169.9 L336.2,1168.7 L336.7,1167.6 L337.2,1167.1 L337.7,1165.5 L338.2,1164.9 L338.7,1164.2 L339.2,1163.1 L339.7,1162.6 L340.2,1161.2 L340.7,1160.7 L341.2,1158.9 L341.7,1157.8 L342.2,1156.9 L342.7,1156.0 L343.2,1155.0 L343.7,1153.6 L344.2,1152.8 L344.7,1151.7 L345.2,1150.1 L345.7,1148.8 L346.2,1146.7 L346.7,1144.8 L347.2,1142.5 L347.7,1140.4 L348.2,1138.3 L348.7,1136.2 L349.2,1133.9 L349.7,1131.3 L350.2,1128.6 L350.7,1125.4 L351.2,1122.1 L351.7,1118.5 L352.2,1114.6 L352.7,1110.4 L353.2,1105.9 L353.7,1100.6 L354.2,1094.1 L354.7,1086.7 L355.2,1078.6 L355.7,1069.8 L356.2,1060.5 L356.4,1056.4 L356.7,1050.8 L357.2,1039.8 L357.7,1027.8 L358.2,1015.0 L358.7,1001.7 L359.2,988.1 L359.7,974.7 L360.2,961.1 L360.7,947.2 L361.2,932.8 L361.7,918.0 L362.0,908.6 L362.2,902.4 L362.7,883.8 L363.2,864.8 L363.7,849.2 L364.0,842.9 L364.2,840.0 L364.7,833.4 L365.2,829.8 L365.3,829.7 L365.7,833.7 L366.2,846.3 L366.7,860.4 L367.2,868.8 L367.3,869.1 L367.7,864.2 L368.2,849.0 L368.7,831.9 L369.2,821.9 L369.3,821.5 L369.7,823.0 L370.2,828.2 L370.7,835.4 L371.2,842.9 L371.7,850.7 L372.2,860.0 L372.7,870.2 L373.2,881.0 L373.7,891.9 L374.2,902.6 L374.5,908.6 L374.7,912.7 L375.2,922.8 L375.7,933.0 L376.2,943.2 L376.7,953.3 L377.2,963.1 L377.7,972.6 L377.8,974.3 L378.2,981.7 L378.7,990.7 L379.2,999.6 L379.7,1008.3 L380.2,1016.8 L380.7,1025.2 L381.2,1033.3 L381.7,1041.3 L382.2,1049.0 L382.7,1056.4 L383.2,1064.1 L383.7,1071.6 L384.2,1079.2 L384.7,1086.6 L385.2,1093.8 L385.7,1100.7 L386.2,1107.2 L386.7,1113.2 L387.2,1118.5 L387.6,1122.1 L387.7,1123.1 L388.2,1127.6 L388.7,1132.1 L389.2,1136.6 L389.7,1141.0 L390.2,1145.1 L390.7,1148.8 L391.2,1152.2 L391.7,1155.0 L392.2,1157.5 L392.7,1159.4 L393.2,1160.7 L393.6,1161.5 L393.7,1161.5 L394.2,1161.9 L394.7,1162.0 L395.2,1162.9 L395.7,1162.9 L396.2,1163.9 L396.7,1163.9 L397.2,1163.4 L397.7,1163.4 L398.2,1163.4 L398.7,1163.6 L399.1,1164.1 L399.2,1163.9 L399.7,1165.4 L400.2,1167.2 L400.7,1169.4 L401.2,1172.2 L401.7,1174.9 L402.2,1177.1 L402.4,1177.9 L402.7,1179.0 L403.2,1181.1 L403.7,1182.9 L404.2,1184.8 L404.7,1186.5 L405.2,1188.3 L405.7,1189.5 L406.2,1191.0 L406.7,1192.3 L407.2,1193.1 L407.7,1194.4 L408.2,1194.5 L408.7,1195.3 L409.2,1195.8 L409.7,1196.0 L410.2,1196.6 L410.6,1197.0 L410.7,1196.9 L411.2,1196.3 L411.7,1195.0 L412.2,1193.1 L412.7,1190.8 L413.2,1188.1 L413.3,1187.8 L413.7,1183.1 L414.2,1174.2 L414.8,1164.1 L415.3,1155.2 L415.8,1150.3 L415.9,1150.0 L416.3,1152.8 L416.8,1163.5 L417.3,1176.0 L417.8,1183.9 L417.9,1184.5 L418.3,1183.7 L418.8,1180.7 L419.3,1176.6 L419.8,1172.7 L420.3,1170.1 L420.5,1169.7 L420.8,1170.4 L421.3,1171.7 L421.8,1173.8 L422.3,1176.3 L422.8,1178.8 L423.3,1181.0 L423.8,1182.3 L424.3,1183.3 L424.8,1184.3 L425.3,1185.1 L425.8,1186.0 L426.3,1186.5 L426.8,1186.4 L427.3,1185.6 L427.8,1185.2 L428.3,1184.5 L428.8,1183.8 L429.3,1182.7 L429.8,1182.6 L430.3,1181.9 L430.8,1180.4 L431.3,1179.5 L431.8,1178.4 L432.3,1176.6 L432.8,1175.1 L433.3,1172.7 L433.8,1170.7 L434.3,1169.2 L434.8,1167.8 L435.3,1166.9 L435.8,1165.7 L436.3,1164.3 L436.8,1162.8 L437.3,1161.0 L437.8,1158.9 L437.9,1158.2 L438.3,1155.8 L438.8,1150.8 L439.3,1145.5 L439.8,1141.5 L440.2,1140.2 L440.3,1140.2 L440.8,1141.0 L441.3,1142.5 L441.8,1144.4 L442.3,1146.0 L442.8,1146.8 L443.3,1146.6 L443.8,1147.0 L444.3,1146.6 L444.8,1146.5 L445.3,1145.8 L445.8,1145.4 L446.3,1144.7 L446.8,1144.1 L447.3,1143.3 L447.8,1141.6 L448.3,1139.4 L448.8,1136.5 L449.3,1133.2 L449.8,1129.5 L450.3,1125.5 L450.7,1122.1 L450.8,1121.3 L451.3,1116.8 L451.8,1111.6 L452.3,1105.4 L452.8,1097.9 L453.3,1088.9 L453.8,1077.9 L454.0,1072.8 L454.3,1062.2 L454.8,1033.7 L455.3,997.4 L455.6,974.3 L455.8,958.2 L456.3,910.3 L456.4,900.0 L456.8,857.0 L457.1,820.0 L457.3,790.0 M463.3,790.0 L463.3,1240.0 M465.7,790.0 L465.7,1240.0 M467.8,790.0 L467.9,820.0 L468.3,900.0 L468.8,955.6 L469.0,974.0 L469.3,1002.4 L469.8,1047.1 L470.3,1080.0 L470.8,1099.9 L471.3,1114.7 L471.5,1120.0 L471.8,1128.3 L472.3,1142.0 L472.8,1150.8 L473.0,1151.7 L473.3,1151.3 L473.8,1149.2 L474.3,1146.1 L474.8,1142.7 L475.3,1139.9 L475.8,1138.5 L475.9,1138.5 L476.3,1139.8 L476.8,1144.2 L477.3,1150.5 L477.8,1157.6 L478.3,1163.9 L478.8,1168.4 L479.2,1169.7 L479.3,1169.7 L479.8,1169.7 L480.3,1169.6 L480.8,1169.5 L481.3,1169.3 L481.8,1168.8 L482.3,1167.6 L482.8,1167.8 L483.3,1167.9 L483.8,1168.0 L484.3,1168.8 L484.8,1168.8 L485.3,1167.5 L485.8,1166.5 L486.3,1165.9 L486.8,1165.3 L487.3,1164.7 L487.8,1164.3 L488.3,1164.1 L488.8,1164.8 L489.3,1166.8 L489.8,1169.6 L490.3,1173.2 L490.8,1176.7 L491.3,1180.4 L491.8,1183.4 L492.3,1185.3 L492.6,1186.1 L492.8,1186.3 L493.3,1187.2 L493.8,1188.2 L494.3,1188.9 L494.8,1189.7 L495.3,1190.8 L495.8,1191.2 L496.3,1191.2 L496.8,1192.2 L497.3,1193.8 L497.8,1193.3 L498.3,1193.6 L498.8,1194.1 L499.3,1193.2 L499.8,1192.7 L500.3,1191.1 L500.8,1190.7 L501.3,1190.4 L501.8,1189.8 L502.3,1189.6 L502.8,1188.8 L503.3,1188.0 L503.8,1186.2 L504.3,1184.5 L504.8,1183.7 L505.3,1183.5 L505.8,1183.8 L506.3,1184.1 L506.8,1184.2 L507.3,1183.9 L507.8,1182.9 L508.3,1182.5 L508.8,1182.0 L509.3,1182.8 L509.8,1183.3 L510.3,1185.0 L510.8,1187.0 L511.3,1187.5 L511.8,1189.1 L512.3,1190.0 L512.8,1190.6 L513.3,1190.5 L513.8,1191.5 L514.3,1191.8 L514.8,1192.0 L515.3,1192.4 L515.8,1192.1 L516.3,1193.2 L516.8,1192.7 L517.3,1192.2 L517.8,1192.5 L518.3,1191.9 L518.8,1190.5 L519.3,1189.6 L519.8,1189.7 L520.3,1190.3 L520.8,1189.5 L521.3,1190.7 L521.8,1189.9 L522.3,1188.5 L522.8,1188.2 L523.3,1187.1 L523.8,1186.4 L524.3,1186.9 L524.8,1186.6 L525.3,1185.8 L525.8,1185.8 L526.3,1186.5 L526.8,1188.1 L527.3,1188.1 L527.8,1189.4 L528.3,1187.2 L528.8,1186.4 L529.3,1184.9 L529.8,1183.6 L530.3,1183.5 L530.8,1183.1 L531.3,1184.2 L531.8,1184.7 L532.3,1185.1 L532.8,1186.6 L533.3,1186.3 L533.8,1186.4 L534.3,1187.5 L534.8,1187.8 L535.3,1188.7 L535.8,1189.6 L536.3,1189.1 L536.8,1189.1 L537.3,1188.5 L537.8,1189.6 L538.3,1190.2 L538.8,1190.4 L539.3,1192.2 L539.8,1192.9 L540.3,1192.7 L540.8,1192.0 L541.3,1191.4 L541.8,1188.4 L542.3,1187.3 L542.8,1187.0 L543.3,1187.3 L543.8,1187.2 L544.3,1188.3 L544.8,1188.7 L545.3,1189.3 L545.8,1188.9 L546.3,1188.9 L546.8,1189.8 L547.3,1190.1 L547.8,1191.6 L548.3,1193.0 L548.8,1194.7 L549.3,1195.7 L549.8,1196.5 L550.3,1195.9 L550.8,1196.5 L551.3,1196.0 L551.8,1195.7 L552.3,1196.8 L552.8,1197.5 L553.3,1197.8 L553.8,1198.1 L554.3,1198.6 L554.8,1199.1 L555.0,1199.3 L555.3,1200.2 L555.8,1203.4 L556.3,1208.6 L556.8,1215.3 L557.3,1223.1 L557.8,1231.5 L558.3,1240.0 M561.2,1240.0 L561.7,1210.5 L562.0,1200.0 L562.2,1197.0 L562.7,1190.4 L563.2,1185.4 L563.7,1182.3 L564.2,1181.2 L564.7,1181.3 L565.2,1181.7 L565.7,1182.3 L566.2,1183.0 L566.6,1183.9 L567.1,1185.3 L567.6,1186.4 L568.1,1188.0 L568.6,1188.9 L569.1,1189.4 L569.6,1189.3 L570.1,1188.7 L570.6,1187.8 L571.1,1186.6 L571.6,1187.3 L572.1,1186.9 L572.6,1188.0 L573.1,1188.0 L573.6,1188.1 L574.1,1187.8 L574.6,1187.8 L575.1,1187.8 L575.3,1187.8 L575.6,1188.0 L576.0,1189.2 L576.5,1191.4 L577.0,1194.3 L577.5,1197.7 L578.0,1200.9 L578.5,1205.2 L579.0,1210.5 L579.5,1216.7 L580.0,1223.9 L580.5,1231.7 L581.0,1240.1 M583.4,1240.0 L584.9,1202.6 L586.6,1240.0 M589.5,1240.0 L590.0,1228.6 L590.5,1217.9 L591.0,1207.7 L591.5,1198.4 L592.0,1189.8 L592.5,1182.1 L592.8,1177.9 L593.0,1175.1 L593.5,1167.8 L594.0,1160.9 L594.5,1155.0 L595.0,1151.2 L595.4,1150.0 L595.5,1150.3 L596.0,1153.5 L596.5,1159.9 L597.0,1167.7 L597.5,1175.1 L598.0,1180.1 L598.3,1181.2 L598.5,1181.3 L599.0,1181.6 L599.5,1181.8 L600.0,1182.0 L600.5,1182.1 L601.0,1182.6 L601.5,1184.1 L602.0,1183.8 L602.5,1183.5 L603.0,1183.2 L603.5,1182.9 L604.0,1183.0 L604.5,1183.9 L605.0,1186.0 L605.5,1188.0 L606.0,1189.7 L606.5,1191.4 L607.0,1191.9 L607.5,1192.0 L608.0,1190.7 L608.5,1190.2 L609.0,1189.9 L609.5,1190.0 L610.0,1191.2 L610.5,1190.7 L611.0,1191.6 L611.5,1191.7 L612.0,1191.8 L612.5,1191.8 L613.0,1191.1 L613.5,1190.1 L614.0,1190.2 L614.5,1191.1 L615.0,1191.5 L615.5,1191.2 L616.0,1191.6 L616.5,1190.6 L617.0,1189.9 L617.5,1190.6 L618.0,1191.1 L618.5,1191.8 L619.0,1191.9 L619.5,1191.0 L620.0,1191.3 L620.5,1189.6 L621.0,1189.2 L621.5,1189.1 L622.0,1189.6 L622.5,1190.6 L623.0,1191.3 L623.5,1192.0 L624.0,1192.3 L624.5,1191.0 L625.0,1189.8 L625.5,1188.5 L626.0,1189.2 L626.5,1188.7 L627.0,1189.0 L627.5,1188.3 L628.0,1188.5 L628.5,1188.8 L629.0,1190.2 L629.5,1190.5 L630.0,1191.2 L630.5,1192.2 L631.0,1192.2 L631.5,1190.7 L632.0,1190.3 L632.5,1189.1 L633.0,1188.8 L633.5,1187.7 L634.0,1188.8 L634.5,1189.0 L635.0,1189.5 L635.5,1189.3 L636.0,1189.9 L636.5,1189.5 L637.0,1191.2 L637.5,1192.3 L638.0,1192.0 L638.5,1191.6 L639.0,1190.9 L639.5,1190.3 L640.0,1188.4 L640.5,1187.7 L641.0,1188.2 L641.5,1189.2 L642.0,1189.8 L642.5,1190.2 L643.0,1189.9 L643.5,1189.5 L644.0,1189.4 L644.5,1188.2 L645.0,1186.2 L645.5,1185.0 L646.0,1183.6 L646.5,1182.9 L647.0,1182.9 L647.5,1183.2 L648.0,1184.1 L648.5,1185.5 L649.0,1187.1 L649.5,1188.5 L650.0,1189.3 L650.5,1189.5 L651.0,1189.2 L651.5,1189.5 L652.0,1189.4 L652.5,1189.4 L653.0,1189.8 L653.5,1188.7 L654.0,1189.0 L654.5,1188.4 L655.0,1188.6 L655.5,1189.8 L656.0,1190.6 L656.5,1192.7 L657.0,1192.3 L657.5,1192.7 L658.0,1191.4 L658.5,1190.7 L659.0,1190.5 L659.5,1190.6 L660.0,1191.5 L660.5,1191.6 L661.0,1190.7 L661.5,1191.6 L662.0,1191.7 L662.5,1190.8 L663.0,1191.0 L663.5,1190.1 L664.0,1190.9 L664.5,1190.0 L665.0,1190.4 L665.5,1190.7 L666.0,1191.7 L666.5,1191.3 L667.0,1191.9 L667.5,1190.7 L668.0,1189.2 L668.5,1189.5 L669.0,1190.8 L669.5,1192.4 L670.0,1193.2 L670.5,1194.6 L671.0,1193.5 L671.5,1192.8 L672.0,1189.9 L672.5,1189.9 L673.0,1190.9 L673.5,1191.3 L674.0,1191.5 L674.5,1191.2 L675.0,1191.2 L675.5,1189.9 L676.0,1189.2 L676.5,1187.9 L677.0,1186.8 L677.5,1185.2 L678.0,1184.8 L678.5,1184.4 L679.0,1183.4 L679.5,1182.0 L680.0,1180.4 L680.5,1178.2 L681.0,1176.7 L681.5,1175.0 L682.0,1173.5 L682.5,1172.6 L683.0,1172.4 L683.1,1173.0 L683.5,1173.2 L684.0,1175.1 L684.5,1177.8 L685.0,1180.4 L685.5,1182.5 L686.0,1184.1 L686.4,1184.5 L686.5,1184.8 L687.0,1184.8 L687.5,1185.1 L688.0,1185.2 L688.5,1185.5 L689.0,1185.7 L689.5,1186.4 L690.0,1186.6 L690.5,1187.8 L691.0,1189.5 L691.5,1190.9 L692.0,1192.1 L692.5,1193.6 L693.0,1194.3 L693.5,1194.0 L694.0,1193.4 L694.5,1192.3 L695.0,1191.1 L695.5,1189.5 L696.0,1188.5 L696.5,1189.0 L697.0,1188.5 L697.5,1189.8 L698.0,1190.3 L698.5,1191.3 L699.0,1191.3 L699.5,1191.2 L700.0,1189.7 L700.5,1189.4 L701.0,1189.4 L701.5,1189.3 L702.0,1189.4 L702.5,1189.4 L702.8,1189.4 L703.0,1189.2 L703.5,1187.1 L704.0,1183.2 L704.5,1178.2 L705.0,1172.5 L705.1,1171.4 L705.5,1164.4 L706.0,1151.1 L706.5,1135.9 L707.0,1122.6 L707.5,1114.7 L707.7,1113.9 L708.0,1115.0 L708.5,1120.7 L709.0,1129.6 L709.5,1139.7 L710.0,1149.1 L710.4,1154.9 L710.5,1156.0 L711.0,1161.8 L711.5,1167.6 L712.0,1172.8 L712.5,1177.2 L713.0,1180.3 L713.3,1181.2 L713.5,1181.7 L714.0,1182.7 L714.5,1183.5 L715.0,1184.2 L715.5,1184.8 L716.0,1185.1 L716.5,1186.0 L717.0,1186.9 L717.5,1187.2 L718.0,1187.6 L718.5,1187.6 L719.0,1187.7 L719.2,1187.8 L719.5,1187.1 L720.0,1184.8 L720.5,1181.2 L721.0,1176.9 L721.5,1173.0 L722.0,1169.9 L722.5,1168.7 L723.0,1171.0 L723.5,1176.3 L724.0,1182.3 L724.5,1186.8 L724.8,1187.8 L725.0,1187.7 L725.5,1187.6 L726.0,1187.2 L726.5,1186.8 L727.0,1186.3 L727.5,1185.7 L728.0,1185.3 L728.5,1183.9 L729.0,1183.6 L729.5,1183.5 L730.0,1184.0 L730.5,1183.2 L731.0,1185.5 L731.5,1187.4 L732.0,1189.1 L732.5,1189.5 L733.0,1190.3 L733.5,1190.7 L734.0,1189.5 L734.5,1189.4 L735.0,1187.7 L735.5,1188.0 L736.0,1189.2 L736.5,1190.2 L737.0,1192.3 L737.5,1192.3 L738.0,1192.5 L738.5,1190.2 L739.0,1188.9 L739.5,1188.2 L740.0,1188.1 L740.5,1187.8 L741.0,1188.2 L741.5,1190.0 L742.0,1190.1 L742.5,1191.3 L743.0,1191.8 L743.5,1190.9 L744.0,1188.9 L744.5,1189.1 L745.0,1188.6 L745.5,1187.9 L746.0,1188.5 L746.5,1189.8 L747.0,1189.5 L747.5,1189.4 L748.0,1189.2 L748.5,1188.3 L749.0,1188.7 L749.5,1187.7 L750.0,1187.3 L750.5,1188.0 L751.0,1188.7 L751.5,1189.9 L752.0,1188.9 L752.5,1189.6 L753.0,1188.5 L753.5,1187.7 L754.0,1189.0 L754.5,1189.1 L755.0,1189.4 L755.5,1189.4 L756.0,1189.8 L756.5,1189.6 L757.0,1190.6 L757.5,1190.6 L758.0,1189.8 L758.5,1189.2 L759.0,1188.3 L759.5,1187.5 L760.0,1186.4 L760.5,1186.1 L761.0,1187.0 L761.5,1188.2 L762.0,1188.8 L762.5,1188.7 L763.0,1188.9 L763.5,1188.0 L764.0,1187.9 L764.5,1187.2 L765.0,1188.5 L765.5,1188.4 L766.0,1188.2 L766.5,1187.4 L767.0,1186.5 L767.5,1186.0 L768.0,1186.1 L768.5,1186.3 L769.0,1187.8 L769.5,1187.5 L770.0,1187.4 L770.5,1186.8 L771.0,1186.0 L771.5,1185.8 L772.0,1186.6 L772.5,1186.2 L773.0,1187.8 L773.5,1187.7 L774.0,1186.0 L774.5,1187.2 L775.0,1187.6 L775.5,1188.4 L776.0,1189.2 L776.5,1190.5 L777.0,1189.8 L777.5,1189.9 L778.0,1190.2 L778.5,1189.8 L779.0,1189.4 L779.5,1190.9 L780.0,1191.5 L780.5,1191.0 L781.0,1191.0 L781.5,1190.7 L782.0,1188.9 L782.5,1189.6 L783.0,1190.2 L783.5,1192.1 L784.0,1193.3 L784.5,1194.5 L785.0,1195.5 L785.5,1195.6 L786.0,1193.2 L786.5,1193.4 L787.0,1192.6 L787.5,1192.8 L788.0,1193.7 L788.5,1193.9 L789.0,1195.2 L789.5,1194.2 L790.0,1194.1 L790.5,1193.9 L791.0,1193.5 L791.5,1192.3 L792.0,1192.6 L792.5,1194.9 L793.0,1196.3 L793.5,1197.5 L794.0,1197.2 L794.5,1195.8 L795.0,1195.5 L795.5,1194.2 L796.0,1193.4 L796.5,1194.4 L797.0,1194.0 L797.5,1194.9 L798.0,1194.1 L798.5,1192.2 L799.0,1191.7 L799.5,1189.4 L800.0,1189.1 L800.5,1188.8 L801.0,1187.2 L801.5,1188.6 L802.0,1188.9 L802.5,1190.4 L803.0,1190.8 L803.5,1190.6 L804.0,1191.2 L804.5,1190.6 L805.0,1190.6 L805.5,1190.8 L806.0,1190.5 L806.5,1191.6 L807.0,1192.1 L807.5,1193.0 L808.0,1193.5 L808.5,1193.3 L809.0,1192.7 L809.5,1191.4 L810.0,1189.9 L810.5,1187.9 L811.0,1186.1 L811.5,1184.5 L812.0,1182.6 L812.5,1180.8 L813.0,1179.3 L813.5,1178.4 L814.0,1178.0 L814.5,1178.3 L815.0,1178.5 L815.5,1179.2 L816.0,1179.1 L816.5,1179.3 L817.0,1180.0 L817.5,1180.7 L818.0,1181.2 L818.5,1181.9 L819.0,1181.2 L819.5,1179.9 L820.0,1177.8 L820.5,1175.1 L821.0,1173.2 L821.5,1171.7 L822.0,1171.4 L822.5,1171.1 L823.0,1172.3 L823.5,1173.8 L824.0,1175.5 L824.5,1176.5 L825.0,1178.0 L825.5,1178.7 L826.0,1179.2 L826.5,1180.3 L827.0,1180.4 L827.5,1180.9 L828.0,1180.8 L828.5,1180.4 L829.0,1179.7 L829.5,1178.9 L830.0,1178.8 L830.5,1179.4 L831.0,1181.5 L831.5,1181.6 L832.0,1182.4 L832.5,1182.5 L833.0,1182.1 L833.5,1182.8 L834.0,1183.1 L834.5,1183.5 L835.0,1184.3 L835.5,1183.8 L836.0,1184.3 L836.5,1183.1 L837.0,1181.7 L837.5,1181.3 L838.0,1180.6 L838.5,1180.9 L839.0,1182.2 L839.5,1181.8 L840.0,1183.2 L840.5,1183.9 L841.0,1181.8 L841.5,1182.4 L842.0,1179.2 L842.5,1178.0 L843.0,1177.7 L843.5,1178.5 L844.0,1179.7 L844.5,1180.3 L845.0,1181.8 L845.5,1182.6 L846.0,1181.8 L846.5,1181.8 L847.0,1181.7 L847.5,1182.3 L848.0,1182.3 L848.5,1183.6 L849.0,1184.4 L849.5,1184.8 L850.0,1185.1 L850.5,1186.0 L851.0,1187.1 L851.5,1187.3 L852.0,1188.2 L852.5,1188.1 L853.0,1187.1 L853.5,1186.2 L854.0,1186.5 L854.5,1187.0 L855.0,1187.4 L855.5,1190.5 L856.0,1190.7 L856.5,1191.1 L857.0,1191.4 L857.5,1189.9 L858.0,1188.3 L858.5,1188.8 L859.0,1188.5 L859.5,1188.6 L860.0,1188.1 L860.5,1189.8 L861.0,1189.9 L861.5,1191.2 L862.0,1190.7 L862.5,1191.1 L863.0,1190.6 L863.5,1190.8 L864.0,1191.1 L864.5,1190.3 L865.0,1190.0 L865.5,1191.3 L866.0,1191.6 L866.5,1192.5 L867.0,1192.6 L867.5,1192.5 L868.0,1192.5 L868.5,1192.6 L869.0,1192.7 L869.5,1192.2 L870.0,1192.2 L870.5,1191.3 L871.0,1191.3 L871.5,1193.0 L872.0,1193.7 L872.5,1194.4 L873.0,1193.7 L873.5,1193.6 L874.0,1192.0 L874.5,1191.5 L875.0,1190.9 L875.5,1191.1 L876.0,1192.3 L876.5,1193.0 L877.0,1194.0 L877.5,1194.7 L878.0,1195.1 L878.5,1194.4 L879.0,1194.3 L879.5,1193.7 L880.0,1193.7 L880.5,1193.4 L881.0,1191.4 L881.5,1190.9 L882.0,1189.5 L882.5,1189.5 L883.0,1188.4 L883.5,1191.0 L884.0,1192.8 L884.5,1196.1 L885.0,1196.2 L885.5,1195.6 L886.0,1193.4 L886.5,1190.8 L887.0,1188.7 L887.5,1187.3 L888.0,1186.7 L888.5,1188.5 L889.0,1189.3 L889.5,1189.9 L890.0,1190.5 L890.5,1191.7 L891.0,1190.9 L891.5,1190.6 L892.0,1190.8 L892.5,1190.3 L893.0,1187.9 L893.5,1187.0 L894.0,1186.1 L894.5,1186.5 L895.0,1187.1 L895.5,1188.8 L896.0,1189.8 L896.5,1191.4 L897.0,1192.1 L897.5,1192.8 L898.0,1191.2 L898.5,1189.9 L899.0,1189.4 L899.5,1188.9 L900.0,1188.7 L900.5,1187.6 L901.0,1187.8 L901.5,1187.2 L902.0,1185.6 L902.5,1186.8 L903.0,1187.2 L903.5,1188.4 L904.0,1188.5 L904.5,1189.2 L905.0,1189.4 L905.5,1189.1 L906.0,1187.9 L906.5,1187.2 L907.0,1187.3 L907.5,1189.1 L908.0,1189.0 L908.5,1189.2 L909.0,1189.1 L909.5,1186.8 L910.0,1186.6 L910.5,1185.9 L911.0,1187.0 L911.5,1187.2 L912.0,1188.9 L912.5,1189.5 L913.0,1189.3 L913.5,1187.4 L914.0,1186.5 L914.5,1186.1 L915.0,1185.9 L915.5,1187.6 L916.0,1189.3 L916.5,1190.8 L917.0,1191.2 L917.5,1190.9 L918.0,1189.1 L918.5,1188.3 L919.0,1187.3 L919.5,1187.7 L920.0,1188.7 L920.5,1188.7 L921.0,1189.0 L921.5,1188.9 L922.0,1189.1 L922.5,1189.3 L923.0,1188.6 L923.5,1188.4 L924.0,1188.5 L924.5,1189.7 L925.0,1189.4 L925.5,1189.2 L926.0,1188.0 L926.5,1188.4 L927.0,1187.9 L927.5,1188.0 L928.0,1188.2 L928.5,1188.0 L929.0,1188.9 L929.5,1187.4 L930.0,1187.8 L930.5,1188.0 L931.0,1188.9 L931.5,1189.7 L932.0,1189.7 L932.5,1190.0 L933.0,1191.2 L933.5,1191.7 L934.0,1190.6 L934.5,1190.7 L935.0,1189.2 L935.5,1189.2 L936.0,1189.5 L936.5,1191.1 L937.0,1191.3 L937.5,1191.7 L938.0,1191.6 L938.5,1191.8 L939.0,1191.9 L939.5,1192.8 L940.0,1192.8 L940.5,1192.8 L941.0,1193.4 L941.5,1193.6 L942.0,1194.3 L942.5,1194.1 L943.0,1193.3 L943.5,1192.6 L944.0,1191.8 L944.5,1192.5 L945.0,1193.2 L945.2,1193.5 L945.5,1193.4 L946.0,1193.3 L946.5,1193.1 L947.0,1192.8 L947.5,1192.5 L947.8,1192.2 L948.0,1191.7 L948.5,1187.3 L949.0,1181.0 L949.5,1175.6 L949.9,1174.0 L950.0,1174.0 L950.5,1177.5 L951.0,1183.3 L951.5,1187.7 L951.7,1188.3 L952.0,1188.3 L952.5,1188.4 L953.0,1188.4 L953.5,1188.3 L954.0,1188.0 L954.5,1187.6 L955.0,1186.4 L955.5,1185.7 L956.0,1184.7 L956.5,1185.4 L957.0,1187.0 L957.5,1187.1 L958.0,1187.8 L958.5,1186.9 L959.0,1185.7 L959.5,1185.2 L960.0,1184.2 L960.5,1183.6 L961.0,1182.7 L961.5,1182.8 L962.0,1184.1 L962.5,1183.5 L963.0,1185.2 L963.5,1185.0 L964.0,1186.2 L964.5,1186.7 L965.0,1186.8 L965.5,1186.2 L966.0,1185.7 L966.5,1186.3 L967.0,1186.5 L967.5,1187.4 L968.0,1189.2 L968.5,1191.6 L969.0,1191.9 L969.5,1192.2 L970.0,1190.8 L970.5,1189.1 L971.0,1188.7 L971.5,1189.4 L972.0,1189.9 L972.5,1191.3 L973.0,1192.8 L973.5,1194.2 L974.0,1194.3 L974.5,1195.5 L975.0,1194.6 L975.5,1194.7 L976.0,1193.8 L976.5,1191.7 L977.0,1190.9 L977.5,1190.1 L978.0,1189.3 L978.5,1189.2 L979.0,1190.4 L979.5,1190.8 L980.0,1191.3 L980.5,1192.0 L981.0,1192.5 L981.5,1192.6 L982.0,1191.6 L982.5,1190.0 L983.0,1189.7 L983.5,1190.2 L984.0,1190.8 L984.5,1192.0 L985.0,1192.6 L985.5,1193.4 L986.0,1194.4 L986.5,1194.5 L987.0,1194.1 L987.5,1194.8 L988.0,1193.2 L988.5,1193.2 L989.0,1192.8 L989.5,1192.4 L990.0,1192.8 L990.5,1192.7 L991.0,1191.7 L991.5,1191.2 L992.0,1191.7 L992.5,1189.8 L993.0,1190.3 L993.5,1191.2 L994.0,1191.5 L994.5,1191.7 L995.0,1192.4 L995.5,1193.2 L996.0,1194.1 L996.5,1195.1 L997.0,1196.6 L997.5,1196.3 L998.0,1195.5 L998.5,1194.7 L999.0,1192.7 L999.5,1189.9 L1000.0,1188.7 L1000.5,1188.2 L1001.0,1189.9 L1001.5,1192.1 L1002.0,1193.8 L1002.5,1196.0 L1003.0,1195.7 L1003.5,1195.0 L1004.0,1193.6 L1004.5,1192.0 L1005.0,1191.0 L1005.5,1188.3 L1006.0,1188.2 L1006.5,1187.9 L1007.0,1189.2 L1007.5,1189.6 L1008.0,1191.3 L1008.5,1193.9 L1009.0,1194.4 L1009.5,1194.2 L1010.0,1192.5 L1010.5,1191.1 L1011.0,1188.8 L1011.5,1187.6 L1012.0,1188.5 L1012.5,1189.6 L1013.0,1189.9 L1013.5,1189.8 L1014.0,1188.6 L1014.5,1187.7 L1015.0,1186.9 L1015.5,1186.6 L1016.0,1186.6 L1016.5,1186.0 L1017.0,1186.9 L1017.5,1186.6 L1018.0,1185.5 L1018.5,1183.9 L1019.0,1182.5 L1019.5,1184.0 L1020.0,1184.6 L1020.5,1186.6 L1021.0,1186.7 L1021.5,1187.9 L1022.0,1187.0 L1022.5,1185.5 L1023.0,1184.6 L1023.5,1183.8 L1024.0,1184.1 L1024.5,1185.0 L1025.0,1186.8 L1025.5,1188.5 L1026.0,1189.4 L1026.5,1189.8 L1027.0,1189.5 L1027.5,1188.0 L1028.0,1186.1 L1028.5,1184.9 L1029.0,1185.7 L1029.5,1186.0 L1030.0,1188.5 L1030.5,1189.6 L1031.0,1192.2 L1031.5,1192.7 L1032.0,1192.7 L1032.5,1191.5 L1033.0,1190.7 L1033.5,1189.5 L1034.0,1188.9 L1034.5,1189.7 L1035.0,1190.8 L1035.5,1192.3 L1036.0,1193.2 L1036.5,1192.9 L1037.0,1192.0 L1037.5,1190.9 L1038.0,1189.2 L1038.5,1189.7 L1039.0,1189.8 L1039.5,1189.0 L1040.0,1190.5 L1040.5,1191.8 L1041.0,1191.8 L1041.5,1193.7 L1042.0,1194.4 L1042.5,1194.5 L1043.0,1195.2 L1043.5,1195.5 L1044.0,1196.8 L1044.5,1197.4 L1045.0,1197.2 L1045.5,1197.1 L1046.0,1196.2 L1046.5,1196.2 L1047.0,1197.2 L1047.5,1197.4 L1048.0,1197.1 L1048.5,1196.9 L1049.0,1196.6 L1049.5,1196.3 L1050.0,1195.6 L1050.4,1194.8 L1050.5,1194.8 L1051.0,1192.3 L1051.5,1188.8 L1052.0,1185.5 L1052.5,1184.0 L1053.0,1185.5 L1053.5,1189.0 L1054.0,1192.7 L1054.5,1195.6 L1054.8,1196.1 L1055.0,1196.1 L1055.5,1196.0 L1056.0,1195.7 L1056.5,1195.6 L1057.0,1195.8 L1057.5,1195.0 L1058.0,1197.3 L1058.5,1198.4 L1059.0,1198.8 L1059.5,1199.6 L1060.0,1198.7 L1060.5,1198.5 L1061.0,1197.8 L1061.5,1198.0 L1062.0,1197.3 L1062.5,1197.5 L1063.0,1198.1 L1063.5,1196.2 L1064.0,1194.6 L1064.5,1193.2 L1065.0,1193.3 L1065.5,1194.4 L1066.0,1195.2 L1066.5,1197.1 L1067.0,1197.8 L1067.5,1197.2 L1068.0,1197.6 L1068.5,1197.4 L1069.0,1195.9 L1069.5,1195.3 L1070.0,1195.1 L1070.5,1194.8 L1071.0,1194.8 L1071.5,1195.9 L1072.0,1195.7 L1072.5,1195.3 L1073.0,1195.9 L1073.5,1195.4 L1074.0,1195.6 L1074.5,1196.2 L1075.0,1197.5 L1075.5,1196.6 L1076.0,1194.3 L1076.5,1193.9 L1077.0,1192.1 L1077.5,1191.5 L1078.0,1192.6 L1078.5,1193.4 L1079.0,1193.8 L1079.5,1194.6 L1080.0,1194.4 L1080.5,1193.0 L1081.0,1192.1 L1081.5,1190.8 L1082.0,1191.3 L1082.5,1191.4 L1083.0,1190.9 L1083.5,1191.1 L1084.0,1191.9 L1084.5,1192.4 L1085.0,1191.5 L1085.5,1190.7 L1086.0,1190.4 L1086.5,1189.5 L1087.0,1190.1 L1087.5,1189.9 L1088.0,1189.0 L1088.5,1188.9 L1089.0,1187.7 L1089.5,1187.5 L1090.0,1188.5 L1090.5,1189.5 L1091.0,1190.6 L1091.5,1192.0 L1092.0,1192.7 L1092.5,1192.3 L1093.0,1190.5 L1093.5,1189.8 L1094.0,1189.1 L1094.5,1187.6 L1095.0,1187.3 L1095.5,1188.1 L1096.0,1187.9 L1096.5,1186.8 L1097.0,1186.5 L1097.5,1186.1 L1098.0,1187.3 L1098.5,1187.2 L1099.0,1189.1 L1099.5,1188.6 L1100.0,1188.7 L1100.5,1187.4 L1101.0,1186.5 L1101.5,1185.8 L1102.0,1185.6 L1102.5,1185.8 L1103.0,1187.6 L1103.5,1188.5 L1104.0,1188.7 L1104.5,1186.0 L1105.0,1184.0 L1105.5,1182.3 L1106.0,1182.2 L1106.5,1183.5 L1107.0,1184.4 L1107.5,1186.9 L1108.0,1187.6 L1108.5,1187.6 L1109.0,1187.5 L1109.5,1188.4 L1110.0,1187.0 L1110.5,1187.1 L1111.0,1187.9 L1111.5,1185.7 L1112.0,1185.6 L1112.5,1184.9 L1113.0,1184.7 L1113.5,1185.6 L1114.0,1187.0 L1114.5,1188.2 L1115.0,1188.6 L1115.5,1188.3 L1116.0,1187.5 L1116.5,1187.2 L1117.0,1187.8 L1117.5,1188.3 L1118.0,1189.2 L1118.5,1190.9 L1119.0,1189.7 L1119.5,1190.3 L1120.0,1189.7 L1120.5,1187.8 L1121.0,1186.9 L1121.5,1187.7 L1122.0,1188.7 L1122.5,1188.6 L1123.0,1189.5 L1123.5,1188.8 L1124.0,1187.5 L1124.5,1188.0 L1125.0,1187.4 L1125.5,1189.1 L1126.0,1190.9 L1126.5,1192.5 L1127.0,1192.4 L1127.5,1191.9 L1128.0,1189.3 L1128.5,1190.4 L1129.0,1188.0 L1129.5,1188.3 L1130.0,1188.8 L1130.5,1188.3 L1131.0,1188.8 L1131.5,1188.6 L1132.0,1190.3 L1132.5,1192.9 L1133.0,1194.8 L1133.5,1196.2 L1134.0,1195.7 L1134.5,1193.9 L1135.0,1192.3 L1135.5,1189.0 L1136.0,1187.2 L1136.5,1186.9 L1137.0,1187.2 L1137.5,1189.7 L1138.0,1192.5 L1138.5,1194.5 L1139.0,1194.6 L1139.5,1193.1 L1140.0,1190.6 L1140.5,1187.5 L1141.0,1186.4 L1141.5,1186.7 L1142.0,1188.6 L1142.5,1191.1 L1143.0,1192.5 L1143.5,1193.0 L1144.0,1192.5 L1144.5,1189.6 L1145.0,1186.4 L1145.5,1185.2 L1146.0,1184.4 L1146.5,1184.6 L1147.0,1187.1 L1147.5,1188.4 L1148.0,1190.6 L1148.5,1190.9 L1149.0,1191.9 L1149.5,1191.1 L1150.0,1189.6 L1150.5,1187.6 L1151.0,1186.8 L1151.5,1185.4 L1152.0,1187.1 L1152.5,1188.7 L1153.0,1188.4 L1153.5,1186.5 L1154.0,1186.9 L1154.5,1185.9 L1155.0,1185.8 L1155.5,1186.2 L1156.0,1187.3 L1156.5,1187.4 L1157.0,1187.1 L1157.5,1188.0 L1158.0,1187.6 L1158.5,1187.7 L1159.0,1185.1 L1159.5,1184.7 L1160.0,1183.5 L1160.5,1183.8 L1161.0,1183.6 L1161.5,1185.3 L1162.0,1187.3 L1162.5,1188.4 L1163.0,1189.0 L1163.5,1188.7 L1164.0,1186.4 L1164.5,1183.3 L1165.0,1180.8 L1165.5,1179.5 L1166.0,1180.1 L1166.5,1181.3 L1167.0,1184.4 L1167.5,1187.0 L1168.0,1186.2 L1168.5,1186.0 L1169.0,1184.3 L1169.5,1183.9 L1170.0,1183.9 L1170.5,1184.3 L1171.0,1184.8 L1171.5,1184.3 L1172.0,1183.6 L1172.5,1181.7 L1173.0,1180.5 L1173.5,1180.6 L1174.0,1181.7 L1174.5,1183.4 L1175.0,1186.5 L1175.5,1189.1 L1176.0,1190.2 L1176.5,1188.8 L1177.0,1186.7 L1177.5,1182.1 L1178.0,1179.7 L1178.5,1178.2 L1179.0,1179.5 L1179.5,1181.8 L1180.0,1183.6 L1180.5,1185.4 L1181.0,1186.3 L1181.5,1186.4 L1182.0,1185.1 L1182.5,1184.8 L1183.0,1183.7 L1183.5,1182.4 L1184.0,1182.0 L1184.5,1181.6 L1185.0,1183.1 L1185.5,1182.3 L1186.0,1183.5 L1186.5,1185.8 L1187.0,1185.8 L1187.5,1186.7 L1188.0,1186.8 L1188.5,1187.6 L1189.0,1186.4 L1189.5,1184.3 L1190.0,1182.2 L1190.5,1182.4 L1191.0,1182.9 L1191.5,1185.7 L1192.0,1188.8 L1192.5,1191.1 L1193.0,1192.8 L1193.5,1193.4 L1194.0,1192.3 L1194.5,1189.5 L1195.0,1189.1 L1195.5,1188.0 L1196.0,1188.2 L1196.5,1189.4 L1197.0,1189.2 L1197.5,1190.9 L1198.0,1193.0 L1198.5,1193.8 L1199.0,1193.2 L1199.5,1193.5 L1200.0,1192.6 L1200.5,1191.6 L1201.0,1192.6 L1201.5,1191.9 L1202.0,1192.6 L1202.5,1193.5 L1203.0,1193.1 L1203.5,1191.9 L1204.0,1191.8 L1204.5,1191.6 L1205.0,1191.4 L1205.5,1191.6 L1206.0,1191.4 L1206.5,1191.2 L1207.0,1191.3 L1207.5,1192.4 L1208.0,1194.4 L1208.5,1193.5 L1209.0,1194.5 L1209.5,1193.1 L1210.0,1191.5 L1210.5,1191.6 L1211.0,1192.5 L1211.5,1192.5 L1212.0,1194.2 L1212.5,1195.2 L1213.0,1195.0 L1213.5,1195.3 L1214.0,1194.9 L1214.5,1192.6 L1215.0,1190.1 L1215.5,1188.2 L1216.0,1187.7 L1216.5,1189.9 L1217.0,1191.2 L1217.5,1193.1 L1218.0,1194.2 L1218.5,1194.5 L1219.0,1195.6 L1219.5,1194.9 L1220.0,1195.2 L1220.5,1194.3 L1221.0,1195.2 L1221.5,1194.8 L1222.0,1193.0 L1222.5,1191.9 L1223.0,1191.6 L1223.5,1193.1 L1224.0,1194.3 L1224.5,1195.8 L1225.0,1198.0 L1225.5,1198.1 L1226.0,1198.5 L1226.5,1198.1 L1227.0,1197.3 L1227.5,1197.9 L1228.0,1197.7 L1228.5,1197.3 L1229.0,1199.1 L1229.5,1200.2 L1230.0,1198.2 L1230.5,1198.6 L1231.0,1197.5 L1231.5,1196.6 L1232.0,1197.3 L1232.5,1197.3 L1233.0,1197.4 L1233.5,1198.1 L1234.0,1197.6 L1234.5,1195.8 L1235.0,1194.9 L1235.5,1193.6 L1236.0,1191.7 L1236.5,1191.9 L1237.0,1190.8 L1237.5,1191.1 L1238.0,1191.2 L1238.5,1190.6 L1239.0,1191.0 L1239.5,1190.8 L1240.0,1190.9 L1240.5,1190.6 L1241.0,1190.8 L1241.5,1189.9 L1242.0,1188.9 L1242.5,1186.6 L1243.0,1183.3 L1243.5,1181.9 L1244.0,1181.9 L1244.5,1183.4 L1245.0,1185.3 L1245.5,1188.5 L1246.0,1190.8 L1246.5,1191.3 L1247.0,1191.4 L1247.5,1189.6 L1248.0,1189.4 L1248.5,1187.9 L1249.0,1187.2 L1249.5,1185.0 L1250.0,1183.7 L1250.5,1183.4 L1251.0,1182.9 L1251.5,1184.9 L1252.0,1187.1 L1252.5,1188.7 L1253.0,1190.1 L1253.5,1191.0 L1254.0,1190.9 L1254.5,1191.8 L1255.0,1192.1 L1255.5,1192.9 L1256.0,1192.2 L1256.5,1191.7 L1257.0,1189.7 L1257.5,1188.8 L1258.0,1188.1 L1258.5,1189.4 L1259.0,1190.3 L1259.5,1191.5 L1260.0,1191.2 L1260.5,1191.9 L1261.0,1192.2 L1261.5,1193.7 L1262.0,1195.3 L1262.5,1197.7 L1263.0,1199.7 L1263.5,1200.5 L1264.0,1201.1 L1264.5,1201.1 L1264.6,1200.5 L1265.0,1199.9 L1265.5,1199.1 L1266.0,1197.8 L1266.5,1196.0 L1267.0,1193.5 L1267.5,1191.0 L1268.0,1188.8 L1268.5,1187.3 L1268.6,1188.5 L1269.0,1187.0 L1269.5,1186.8 L1270.0,1187.4 L1270.5,1187.6 L1271.0,1188.3 L1271.5,1188.4 L1272.0,1188.1 L1272.5,1187.1 L1273.0,1185.3 L1273.5,1182.6 L1274.0,1182.1 L1274.5,1181.1 L1275.0,1182.4 L1275.5,1182.0 L1276.0,1183.0 L1276.5,1183.9 L1277.0,1183.9 L1277.5,1183.8 L1278.0,1184.2 L1278.5,1184.2 L1279.0,1183.7 L1279.5,1184.4 L1280.0,1184.3 L1280.5,1184.4 L1281.0,1185.2 L1281.5,1183.8 L1282.0,1182.6 L1282.5,1181.5 L1283.0,1179.4 L1283.5,1178.9 L1284.0,1179.9 L1284.5,1181.8 L1285.0,1184.3 L1285.5,1186.0 L1286.0,1187.3 L1286.5,1187.6 L1287.0,1187.5 L1287.5,1186.3 L1288.0,1185.5 L1288.5,1182.9 L1289.0,1181.6 L1289.5,1180.4 L1290.0,1180.4 L1290.5,1180.4 L1291.0,1181.1 L1291.5,1180.5 L1292.0,1182.8 L1292.5,1184.3 L1293.0,1186.7 L1293.5,1186.6 L1294.0,1186.6 L1294.5,1185.1 L1295.0,1185.1 L1295.5,1185.2 L1296.0,1185.8 L1296.5,1187.6 L1297.0,1187.5 L1297.5,1186.0 L1298.0,1185.5 L1298.5,1183.1 L1299.0,1182.2 L1299.5,1181.7 L1300.0,1181.4 L1300.5,1182.8 L1301.0,1184.0 L1301.5,1185.9 L1302.0,1187.3 L1302.5,1189.1 L1303.0,1188.3 L1303.5,1188.4 L1304.0,1187.0 L1304.5,1187.3 L1305.0,1187.8 L1305.5,1188.4 L1306.0,1189.1 L1306.5,1189.8 L1307.0,1189.8 L1307.5,1188.4 L1308.0,1187.5 L1308.5,1187.8 L1309.0,1188.5 L1309.5,1189.2 L1310.0,1191.8 L1310.5,1191.9 L1311.0,1192.2 L1311.5,1191.9 L1312.0,1189.5 L1312.5,1189.3 L1313.0,1188.7 L1313.5,1188.2 L1314.0,1189.3 L1314.5,1189.0 L1315.0,1189.7 L1315.5,1190.0 L1316.0,1191.3 L1316.5,1191.8 L1317.0,1192.5 L1317.5,1191.7 L1318.0,1191.2 L1318.5,1192.1 L1319.0,1191.5 L1319.5,1192.7 L1320.0,1193.5 L1320.5,1193.1 L1321.0,1191.5 L1321.5,1190.8 L1322.0,1189.6 L1322.5,1189.6 L1323.0,1189.2 L1323.5,1191.4 L1324.0,1193.0 L1324.5,1194.1 L1325.0,1193.6 L1325.5,1191.7 L1326.0,1190.6 L1326.5,1188.5 L1327.0,1188.5 L1327.5,1187.8 L1328.0,1188.2 L1328.5,1190.4 L1329.0,1189.6 L1329.5,1190.3 L1330.0,1190.3 L1330.5,1190.9 L1331.0,1191.2 L1331.5,1191.0 L1332.0,1190.5 L1332.5,1190.4 L1333.0,1189.8 L1333.5,1191.5 L1334.0,1192.1 L1334.5,1194.0 L1335.0,1193.6 L1335.5,1193.5 L1336.0,1191.3 L1336.5,1189.1 L1337.0,1187.8 L1337.5,1187.2 L1338.0,1189.0 L1338.5,1188.9 L1339.0,1191.2 L1339.5,1193.2 L1340.0,1193.0 L1340.5,1192.1 L1341.0,1190.8 L1341.5,1189.0 L1342.0,1188.2 L1342.5,1187.8 L1343.0,1188.1 L1343.5,1187.7 L1344.0,1186.4 L1344.5,1185.6 L1345.0,1184.4 L1345.5,1185.3 L1346.0,1186.6 L1346.5,1188.3 L1347.0,1190.7 L1347.5,1189.9 L1348.0,1188.1 L1348.5,1184.2 L1349.0,1180.9 L1349.5,1179.9 L1350.0,1180.5 L1350.5,1181.9 L1351.0,1183.7 L1351.5,1185.1 L1352.0,1185.3 L1352.5,1185.4 L1353.0,1185.2 L1353.5,1185.5 L1354.0,1186.2 L1354.5,1186.2 L1355.0,1187.1 L1355.5,1186.2 L1356.0,1183.9 L1356.5,1183.2 L1357.0,1183.8 L1357.5,1186.2 L1358.0,1188.4 L1358.5,1189.7 L1359.0,1190.0 L1359.5,1188.7 L1360.0,1189.0 L1360.5,1189.2 L1361.0,1189.8 L1361.5,1188.8 L1362.0,1187.3 L1362.5,1185.3 L1363.0,1184.8 L1363.5,1183.6 L1364.0,1186.9 L1364.5,1188.7 L1365.0,1191.9 L1365.5,1192.2 L1366.0,1191.9 L1366.5,1190.1 L1367.0,1189.1 L1367.5,1188.7 L1367.7,1189.8 L1368.0,1188.7 L1368.5,1188.3 L1369.0,1187.9 L1369.5,1186.7 L1370.0,1185.1 L1370.5,1183.2 L1371.0,1181.2 L1371.5,1178.8 L1371.7,1177.8 L1372.0,1176.0 L1372.5,1171.6 L1373.0,1166.3 L1373.5,1161.2 L1374.0,1157.6 L1374.4,1156.4 L1374.5,1156.2 L1375.0,1155.8 L1375.5,1155.6 L1376.0,1155.5 L1376.5,1155.2 L1377.0,1155.2 L1377.5,1157.1 L1378.0,1162.1 L1378.5,1168.4 L1379.0,1174.7 L1379.5,1179.2 L1379.7,1180.4 L1380.0,1181.4 L1380.5,1183.1 L1381.0,1184.6 L1381.5,1185.9 L1382.0,1186.7 L1382.4,1187.1 L1382.5,1187.1 L1383.0,1188.0 L1383.5,1189.1 L1384.0,1189.9 L1384.5,1190.5 L1385.0,1190.9 L1385.5,1189.4 L1386.0,1188.0 L1386.5,1186.6 L1387.0,1186.6 L1387.5,1187.0 L1388.0,1188.0 L1388.5,1190.8 L1389.0,1192.1 L1389.5,1192.0 L1390.0,1189.5 L1390.5,1187.2 L1391.0,1183.7 L1391.5,1182.3 L1392.0,1182.5 L1392.5,1184.7 L1393.0,1187.2 L1393.5,1189.5 L1394.0,1189.7 L1394.5,1190.1 L1395.0,1189.9 L1395.5,1189.5 L1396.0,1189.8 L1396.5,1189.0 L1397.0,1188.2 L1397.5,1186.5 L1398.0,1188.5 L1398.5,1188.7 L1399.0,1188.8 L1399.5,1190.6 L1400.0,1190.3 L1400.5,1191.4 L1401.0,1191.8 L1401.5,1191.0 L1402.0,1192.5 L1402.5,1191.1 L1403.0,1191.2 L1403.5,1189.3 L1404.0,1187.2 L1404.5,1185.6 L1405.0,1187.1 L1405.5,1188.6 L1406.0,1191.1 L1406.5,1192.1 L1407.0,1193.4 L1407.5,1192.2 L1408.0,1191.0 L1408.5,1191.1 L1409.0,1190.3 L1409.5,1190.1 L1410.0,1191.4 L1410.5,1191.5 L1411.0,1192.6 L1411.5,1193.3 L1412.0,1193.3 L1412.5,1193.3 L1413.0,1193.9 L1413.5,1193.0 L1414.0,1192.6 L1414.5,1192.9 L1415.0,1193.2 L1415.5,1194.0 L1416.0,1193.4 L1416.5,1191.9 L1417.0,1192.3 L1417.5,1191.7 L1418.0,1191.7 L1418.5,1193.0 L1419.0,1195.1 L1419.5,1196.0 L1420.0,1196.8 L1420.5,1196.1 L1421.0,1195.9 L1421.5,1193.8 L1422.0,1193.7 L1422.5,1193.8 L1423.0,1193.4 L1423.5,1193.7 L1424.0,1194.0 L1424.5,1196.5 L1425.0,1196.7 L1425.5,1197.8 L1426.0,1197.3 L1426.5,1196.9 L1427.0,1195.9 L1427.5,1195.4 L1428.0,1194.3 L1428.5,1194.0 L1429.0,1193.4 L1429.5,1193.0 L1430.0,1191.9 L1430.5,1191.5 L1431.0,1192.5 L1431.5,1192.1 L1432.0,1193.2 L1432.5,1193.2 L1433.0,1193.1 L1433.5,1193.1 L1434.0,1191.6 L1434.5,1190.8 L1435.0,1190.5 L1435.5,1189.9 L1436.0,1190.5 L1436.5,1189.7 L1437.0,1189.6 L1437.5,1188.4 L1438.0,1188.9 L1438.5,1187.3 L1439.0,1188.6 L1439.5,1189.2 L1440.0,1188.4 L1440.5,1189.4 L1441.0,1190.0 L1441.5,1191.0 L1442.0,1190.9 L1442.5,1190.3 L1443.0,1189.4 L1443.5,1188.5 L1444.0,1185.7 L1444.5,1185.6 L1445.0,1185.5 L1445.5,1186.7 L1446.0,1186.3 L1446.5,1187.5 L1447.0,1188.1 L1447.5,1187.8 L1448.0,1187.5 L1448.5,1186.0 L1449.0,1184.3 L1449.5,1184.2 L1450.0,1183.8 L1450.5,1185.2 L1451.0,1187.5 L1451.5,1189.7 L1452.0,1192.4 L1452.5,1193.3 L1453.0,1191.0 L1453.5,1187.2 L1454.0,1185.1 L1454.5,1182.5 L1455.0,1180.0 L1455.5,1180.4 L1456.0,1182.4 L1456.5,1184.8 L1457.0,1188.3 L1457.5,1190.8 L1458.0,1191.9 L1458.5,1191.9 L1459.0,1190.1 L1459.5,1186.7 L1460.0,1184.2 L1460.5,1181.7 L1461.0,1181.5 L1461.5,1184.1 L1462.0,1187.3 L1462.5,1191.0 L1463.0,1192.8 L1463.5,1191.7 L1464.0,1189.5 L1464.5,1187.2 L1465.0,1187.0 L1465.5,1185.8 L1466.0,1185.3 L1466.5,1185.5 L1467.0,1184.6 L1467.5,1184.8 L1468.0,1183.4 L1468.5,1182.5 L1469.0,1182.3 L1469.5,1185.4 L1470.0,1186.8 L1470.5,1187.8 L1471.0,1189.3 L1471.5,1189.1 L1472.0,1187.8 L1472.5,1185.6 L1473.0,1184.9 L1473.5,1183.6 L1474.0,1183.1 L1474.5,1183.4 L1475.0,1184.0 L1475.5,1185.9 L1476.0,1187.0 L1476.5,1187.0 L1477.0,1187.3 L1477.5,1186.2 L1478.0,1183.9 L1478.5,1182.3 L1479.0,1181.4 L1479.5,1182.3 L1480.0,1183.6 L1480.5,1184.5 L1481.0,1187.3 L1481.5,1189.8 L1482.0,1188.1 L1482.5,1186.9 L1483.0,1183.5 L1483.5,1181.7 L1484.0,1180.6 L1484.5,1182.0 L1485.0,1184.2 L1485.5,1185.5 L1486.0,1185.8 L1486.5,1185.5 L1487.0,1183.5 L1487.5,1183.5 L1488.0,1182.8 L1488.5,1183.4 L1489.0,1184.1 L1489.5,1183.6 L1490.0,1183.2 L1490.5,1182.5 L1491.0,1182.5 L1491.5,1182.6 L1492.0,1182.7 L1492.5,1183.8 L1493.0,1184.7 L1493.5,1183.9 L1494.0,1183.3 L1494.5,1182.7 L1495.0,1180.9 L1495.5,1181.1 L1496.0,1181.2 L1496.5,1183.0 L1497.0,1183.0 L1497.5,1184.7 L1498.0,1186.1 L1498.5,1187.7 L1499.0,1188.4 L1499.5,1189.2 L1500.0,1186.6 L1500.5,1184.1 L1501.0,1180.9" fill="none" stroke="#000" stroke-width="2.6" stroke-linejoin="round" stroke-linecap="butt"/>
<path d="M236.9,403.2 V410.9 M236.9,811.6999999999999 V819.4 M236.9,1220.3 V1235.7 M411.0,403.2 V410.9 M411.0,811.6999999999999 V819.4 M411.0,1220.3 V1235.7 M585.2,403.2 V410.9 M585.2,811.6999999999999 V819.4 M585.2,1220.3 V1235.7 M759.3,403.2 V410.9 M759.3,811.6999999999999 V819.4 M759.3,1220.3 V1235.7 M933.5,403.2 V410.9 M933.5,811.6999999999999 V819.4 M933.5,1220.3 V1235.7 M1107.6,403.2 V410.9 M1107.6,811.6999999999999 V819.4 M1107.6,1220.3 V1235.7 M1281.8,403.2 V410.9 M1281.8,811.6999999999999 V819.4 M1281.8,1220.3 V1235.7 M1456.0,403.2 V410.9 M1456.0,811.6999999999999 V819.4 M1456.0,1220.3 V1235.7 M129.2,373.8 H144.6 M129.2,299.5 H144.6 M129.2,225.2 H144.6 M129.2,150.9 H144.6 M129.2,76.6 H144.6 M129.2,2.3 H144.6 M129.2,782.3 H144.6 M129.2,708.0 H144.6 M129.2,633.7 H144.6 M129.2,559.4 H144.6 M129.2,485.1 H144.6 M129.2,410.8 H144.6 M129.2,1190.9 H144.6 M129.2,1116.6 H144.6 M129.2,1042.3 H144.6 M129.2,968.0 H144.6 M129.2,893.7 H144.6 M129.2,819.4 H144.6" stroke="#000" stroke-width="2.9" fill="none"/>
<g fill="none" stroke="#000" stroke-width="4.8" stroke-linejoin="miter">
<rect x="137.0" y="2.3" width="1362.7" height="1225.7"/>
<path d="M137.0,410.9 H1499.7 M137.0,819.4 H1499.7"/>
</g>
<text x="210.4" y="95.6" fill="#000">CO<tspan font-size="21.2" dy="5.0" dx="0.5">2</tspan><tspan dy="-5.0" dx="0.4">&#8203;</tspan></text>
<text x="290.9" y="95.6" fill="#696969">C<tspan font-size="21.2" dy="5.0" dx="0.5">3</tspan><tspan dy="-5.0" dx="0.4">&#8203;</tspan>O+C<tspan font-size="21.2" dy="5.0" dx="0.5">3</tspan><tspan dy="-5.0" dx="0.4">&#8203;</tspan>O<tspan font-size="21.2" dy="5.0" dx="0.5">2</tspan><tspan dy="-5.0" dx="0.4">&#8203;</tspan></text>
<text x="476.4" y="58.4" fill="#000">CO</text>
<text x="602.1" y="132.4" fill="#000">C<tspan font-size="21.2" dy="5.0" dx="0.5">2</tspan><tspan dy="-5.0" dx="0.4">&#8203;</tspan>O</text>
<text x="720.2" y="132.4" fill="#000">HCO<tspan font-size="21.2" dy="-11.4">.</tspan><tspan dy="11.4">&#8203;</tspan></text>
<text x="880.5" y="132.4" fill="#000">H<tspan font-size="21.2" dy="5.0" dx="0.5">2</tspan><tspan dy="-5.0" dx="0.4">&#8203;</tspan>CO</text>
<text x="1037.6" y="132.4" fill="#000">CH<tspan font-size="21.2" dy="5.0" dx="0.5">4</tspan><tspan dy="-5.0" dx="0.4">&#8203;</tspan></text>
<text x="1163.1" y="132.4" fill="#000">HCO<tspan font-size="21.2" dy="-11.4">.</tspan><tspan dy="11.4">&#8203;</tspan></text>
<path d="M620.1,150.4 L599.2,336.6" stroke="#000" stroke-width="2.0" fill="none"/>
<path d="M597.2,354.0 L589.4,333.5 L609.3,335.7 Z" fill="#000" stroke="#000" stroke-width="0.8" stroke-linejoin="round"/>
<path d="M920.5,141.4 L846.3,220.6" stroke="#000" stroke-width="2.0" fill="none"/>
<path d="M834.3,233.4 L840.3,212.3 L854.9,226.0 Z" fill="#000" stroke="#000" stroke-width="0.8" stroke-linejoin="round"/>
<path d="M920.5,141.4 L1011.3,310.8" stroke="#000" stroke-width="2.0" fill="none"/>
<path d="M1019.6,326.2 L1001.6,313.7 L1019.2,304.3 Z" fill="#000" stroke="#000" stroke-width="0.8" stroke-linejoin="round"/>
<path d="M1098.6,145.0 L1179.8,310.0" stroke="#000" stroke-width="2.0" fill="none"/>
<path d="M1187.5,325.7 L1169.9,312.6 L1187.9,303.8 Z" fill="#000" stroke="#000" stroke-width="0.8" stroke-linejoin="round"/>
<path d="M1238.2,141.2 L1351.7,258.0" stroke="#000" stroke-width="2.0" fill="none"/>
<path d="M1363.9,270.6 L1343.1,263.6 L1357.5,249.6 Z" fill="#000" stroke="#000" stroke-width="0.8" stroke-linejoin="round"/>
<text x="1051.0" y="345.8" font-size="37.5" fill="#696969">*</text>
<text x="1114.0" y="352.9" font-size="37.5" fill="#696969">*</text>
<text x="210.4" y="504.2" fill="#000">CO<tspan font-size="21.2" dy="5.0" dx="0.5">2</tspan><tspan dy="-5.0" dx="0.4">&#8203;</tspan></text>
<text x="290.9" y="504.2" fill="#696969">C<tspan font-size="21.2" dy="5.0" dx="0.5">3</tspan><tspan dy="-5.0" dx="0.4">&#8203;</tspan>O+C<tspan font-size="21.2" dy="5.0" dx="0.5">3</tspan><tspan dy="-5.0" dx="0.4">&#8203;</tspan>O<tspan font-size="21.2" dy="5.0" dx="0.5">2</tspan><tspan dy="-5.0" dx="0.4">&#8203;</tspan></text>
<text x="476.4" y="467.0" fill="#000">CO</text>
<text x="153.9" y="615.1" fill="#000">C<tspan font-size="21.2" dy="5.0" dx="0.5">3</tspan><tspan dy="-5.0" dx="0.4">&#8203;</tspan>O<tspan font-size="21.2" dy="5.0" dx="0.5">2</tspan><tspan dy="-5.0" dx="0.4">&#8203;</tspan></text>
<text x="602.1" y="615.1" fill="#000">C<tspan font-size="21.2" dy="5.0" dx="0.5">2</tspan><tspan dy="-5.0" dx="0.4">&#8203;</tspan>O</text>
<text x="720.2" y="615.1" fill="#000">HCO<tspan font-size="21.2" dy="-11.4">.</tspan><tspan dy="11.4">&#8203;</tspan></text>
<text x="880.5" y="615.1" fill="#000">H<tspan font-size="21.2" dy="5.0" dx="0.5">2</tspan><tspan dy="-5.0" dx="0.4">&#8203;</tspan>CO</text>
<text x="1037.6" y="615.1" fill="#000">CH<tspan font-size="21.2" dy="5.0" dx="0.5">4</tspan><tspan dy="-5.0" dx="0.4">&#8203;</tspan></text>
<text x="1163.1" y="615.1" fill="#000">HCO<tspan font-size="21.2" dy="-11.4">.</tspan><tspan dy="11.4">&#8203;</tspan></text>
<path d="M210.5,624.5 L233.2,744.8" stroke="#000" stroke-width="2.0" fill="none"/>
<path d="M236.4,762.0 L223.0,744.7 L242.6,741.0 Z" fill="#000" stroke="#000" stroke-width="0.8" stroke-linejoin="round"/>
<path d="M611.3,624.0 L598.9,744.6" stroke="#000" stroke-width="2.0" fill="none"/>
<path d="M597.1,762.0 L589.1,741.6 L609.0,743.6 Z" fill="#000" stroke="#000" stroke-width="0.8" stroke-linejoin="round"/>
<path d="M920.4,624.4 L846.2,705.0" stroke="#000" stroke-width="2.0" fill="none"/>
<path d="M834.4,717.9 L840.2,696.8 L855.0,710.3 Z" fill="#000" stroke="#000" stroke-width="0.8" stroke-linejoin="round"/>
<path d="M920.4,624.4 L1008.2,730.7" stroke="#000" stroke-width="2.0" fill="none"/>
<path d="M1019.3,744.2 L999.2,735.5 L1014.6,722.8 Z" fill="#000" stroke="#000" stroke-width="0.8" stroke-linejoin="round"/>
<path d="M1098.9,623.6 L1177.1,730.1" stroke="#000" stroke-width="2.0" fill="none"/>
<path d="M1187.5,744.2 L1167.9,734.4 L1184.0,722.6 Z" fill="#000" stroke="#000" stroke-width="0.8" stroke-linejoin="round"/>
<path d="M1237.9,623.6 L1353.6,698.2" stroke="#000" stroke-width="2.0" fill="none"/>
<path d="M1368.3,707.7 L1346.5,705.5 L1357.3,688.7 Z" fill="#000" stroke="#000" stroke-width="0.8" stroke-linejoin="round"/>
<text x="1238.0" y="762.2" font-size="37.5" fill="#696969">*</text>
<text x="210.4" y="875.6" fill="#000">CO<tspan font-size="21.2" dy="5.0" dx="0.5">2</tspan><tspan dy="-5.0" dx="0.4">&#8203;</tspan></text>
<text x="476.4" y="875.6" fill="#000">CO</text>
<text x="380.8" y="882.3" fill="#696969">C<tspan font-size="21.2" dy="5.0" dx="0.5">3</tspan><tspan dy="-5.0" dx="0.4">&#8203;</tspan>O</text>
<text x="380.8" y="916.1" fill="#696969">+</text>
<text x="380.8" y="949.8" fill="#696969">C<tspan font-size="21.2" dy="5.0" dx="0.5">3</tspan><tspan dy="-5.0" dx="0.4">&#8203;</tspan>O<tspan font-size="21.2" dy="5.0" dx="0.5">2</tspan><tspan dy="-5.0" dx="0.4">&#8203;</tspan></text>
<text x="153.9" y="949.9" fill="#000">C<tspan font-size="21.2" dy="5.0" dx="0.5">3</tspan><tspan dy="-5.0" dx="0.4">&#8203;</tspan>O<tspan font-size="21.2" dy="5.0" dx="0.5">2</tspan><tspan dy="-5.0" dx="0.4">&#8203;</tspan></text>
<text x="588.8" y="949.9" fill="#000">C<tspan font-size="21.2" dy="5.0" dx="0.5">2</tspan><tspan dy="-5.0" dx="0.4">&#8203;</tspan>O</text>
<text x="697.5" y="949.9" fill="#000">NCO<tspan font-size="21.2" dy="-11.4">.</tspan><tspan dy="11.4">&#8203;</tspan></text>
<text x="717.3" y="1125.7" fill="#000">HCO<tspan font-size="21.2" dy="-11.4">.</tspan><tspan dy="11.4">&#8203;</tspan></text>
<text x="880.5" y="949.9" fill="#000">H<tspan font-size="21.2" dy="5.0" dx="0.5">2</tspan><tspan dy="-5.0" dx="0.4">&#8203;</tspan>CO</text>
<text x="1163.1" y="1125.7" fill="#000">HCO<tspan font-size="21.2" dy="-11.4">.</tspan><tspan dy="11.4">&#8203;</tspan></text>
<path d="M210.2,958.5 L234.3,1146.7" stroke="#000" stroke-width="2.0" fill="none"/>
<path d="M236.5,1164.1 L224.1,1146.0 L243.9,1143.5 Z" fill="#000" stroke="#000" stroke-width="0.8" stroke-linejoin="round"/>
<path d="M611.5,958.5 L598.4,1126.0" stroke="#000" stroke-width="2.0" fill="none"/>
<path d="M597.0,1143.4 L588.6,1123.2 L608.5,1124.7 Z" fill="#000" stroke="#000" stroke-width="0.8" stroke-linejoin="round"/>
<path d="M707.1,958.5 L688.1,1150.0" stroke="#000" stroke-width="2.0" fill="none"/>
<path d="M686.4,1167.4 L678.4,1147.0 L698.3,1149.0 Z" fill="#000" stroke="#000" stroke-width="0.8" stroke-linejoin="round"/>
<path d="M920.5,959.2 L836.7,1147.6" stroke="#000" stroke-width="2.0" fill="none"/>
<path d="M829.6,1163.6 L828.4,1141.7 L846.7,1149.8 Z" fill="#000" stroke="#000" stroke-width="0.8" stroke-linejoin="round"/>
<path d="M920.5,959.2 L964.3,978.6" stroke="#000" stroke-width="2.0" fill="none"/>
<path d="M980.3,985.7 L958.4,986.9 L966.5,968.7 Z" fill="#000" stroke="#000" stroke-width="0.8" stroke-linejoin="round"/>
<path d="M1237.8,1125.6 L1351.6,1157.5" stroke="#000" stroke-width="2.0" fill="none"/>
<path d="M1368.5,1162.2 L1347.0,1166.6 L1352.4,1147.3 Z" fill="#000" stroke="#000" stroke-width="0.8" stroke-linejoin="round"/>
<text x="1394.9" y="52.5">Exp. 1</text>
<text x="1308.3" y="89.1">T</text>
<text x="1326.4" y="94.0" font-size="21.2" font-style="italic">dos</text>
<text x="1373.6" y="89.1">= 4.<tspan dx='-1.1'>7 K</tspan></text>
<text x="1312.3" y="125.9">T</text>
<text x="1330.6" y="130.8" font-size="21.2" font-style="italic">irr</text>
<text x="1373.6" y="125.9">= 4.<tspan dx='-1.1'>7 K</tspan></text>
<text x="1394.9" y="461.1">Exp. 2</text>
<text x="1308.3" y="497.8">T</text>
<text x="1326.4" y="502.7" font-size="21.2" font-style="italic">dos</text>
<text x="1373.6" y="497.8">= 8.0 K</text>
<text x="1312.3" y="534.7">T</text>
<text x="1330.6" y="539.6" font-size="21.2" font-style="italic">irr</text>
<text x="1373.6" y="534.7">= 8.0 K</text>
<text x="1394.9" y="869.7">Exp. 3</text>
<text x="1290.3" y="906.6">T</text>
<text x="1309.0" y="911.5" font-size="21.2" font-style="italic">dos</text>
<text x="1357.0" y="906.6">= 10.0 K</text>
<text x="1294.0" y="943.9">T</text>
<text x="1312.7" y="948.8" font-size="21.2" font-style="italic">irr</text>
<text x="1356.2" y="943.9">= 10.0 K</text>
<text x="236.9" y="1265.5" text-anchor="middle">2400</text>
<text x="411.0" y="1265.5" text-anchor="middle">2200</text>
<text x="585.2" y="1265.5" text-anchor="middle">2000</text>
<text x="759.3" y="1265.5" text-anchor="middle">1800</text>
<text x="933.5" y="1265.5" text-anchor="middle">1600</text>
<text x="1107.6" y="1265.5" text-anchor="middle">1400</text>
<text x="1281.8" y="1265.5" text-anchor="middle">1200</text>
<text x="1456.0" y="1265.5" text-anchor="middle">1000</text>
<text x="122.9" y="1202.4" text-anchor="end">0.000</text>
<text x="122.9" y="1128.1" text-anchor="end">0.002</text>
<text x="122.9" y="1053.8" text-anchor="end">0.004</text>
<text x="122.9" y="979.5" text-anchor="end">0.006</text>
<text x="122.9" y="905.2" text-anchor="end">0.008</text>
<text x="122.9" y="830.9" text-anchor="end">0.010</text>
<text x="661.8" y="1304.6">Wavenumber (cm<tspan font-size="21.2" dy="-10.4" dx="1.0">−1</tspan><tspan dy="10.4" dx="1.2">)</tspan></text>
<text transform="translate(22.9,1024.4) rotate(-90)" text-anchor="middle" font-size="30.16">Difference of Absorbance</text>
<rect x="938.4" y="995.0" width="128.4" height="108.20000000000005" fill="#fff"/>
<path d="M930.8,1040.2 H946.1 M930.8,1076.2 H946.1 M1018.4,1095.6 V1111" stroke="#000" stroke-width="2.9" fill="none"/>
<path clip-path="url(#ci)" d="M938.5,1092.0 L939.0,1091.5 L939.5,1090.7 L940.0,1089.5 L940.5,1088.1 L941.0,1086.6 L941.5,1085.1 L942.0,1083.7 L942.5,1082.5 L943.0,1081.7 L943.5,1081.1 L944.0,1080.9 L944.5,1080.9 L944.9,1081.0 L945.4,1081.2 L945.9,1081.4 L946.4,1081.5 L946.9,1081.5 L947.4,1081.2 L947.9,1080.7 L948.4,1079.8 L948.9,1078.5 L949.4,1076.9 L949.9,1075.0 L950.4,1073.1 L950.9,1071.6 L951.4,1070.6 L951.9,1070.4 L952.4,1071.0 L952.9,1072.4 L953.4,1074.3 L953.9,1076.6 L954.4,1079.3 L954.9,1081.9 L955.4,1084.4 L955.9,1086.3 L956.4,1087.4 L956.9,1087.3 L957.4,1086.2 L957.8,1084.3 L958.3,1081.9 L958.8,1079.2 L959.3,1076.5 L959.8,1073.9 L960.3,1071.7 L960.8,1069.8 L961.3,1068.3 L961.8,1067.5 L962.3,1067.2 L962.8,1067.6 L963.3,1068.3 L963.8,1069.4 L964.3,1070.7 L964.8,1072.2 L965.3,1073.7 L965.8,1075.1 L966.3,1076.5 L966.8,1077.8 L967.3,1078.9 L967.8,1079.9 L968.3,1080.7 L968.8,1081.1 L969.3,1081.3 L969.8,1081.2 L970.3,1080.7 L970.7,1079.8 L971.2,1078.7 L971.7,1077.5 L972.2,1076.1 L972.7,1074.7 L973.2,1073.5 L973.7,1072.4 L974.2,1071.5 L974.7,1071.0 L975.2,1070.9 L975.7,1071.0 L976.2,1071.5 L976.7,1072.2 L977.2,1073.1 L977.7,1074.1 L978.2,1075.3 L978.7,1076.4 L979.2,1077.5 L979.7,1078.4 L980.2,1078.8 L980.7,1078.6 L981.2,1077.9 L981.7,1076.6 L982.2,1075.1 L982.7,1073.5 L983.2,1071.9 L983.6,1070.5 L984.1,1069.6 L984.6,1069.2 L985.1,1069.5 L985.6,1070.4 L986.1,1071.7 L986.6,1073.1 L987.1,1074.5 L987.6,1075.7 L988.1,1076.6 L988.6,1077.1 L989.1,1077.3 L989.6,1077.1 L990.1,1076.7 L990.6,1076.0 L991.1,1075.1 L991.6,1074.1 L992.1,1072.9 L992.6,1071.7 L993.1,1070.4 L993.6,1069.3 L994.1,1068.2 L994.6,1067.4 L995.1,1066.7 L995.6,1066.4 L996.1,1066.3 L996.5,1066.4 L997.0,1066.6 L997.5,1066.7 L998.0,1066.5 L998.5,1066.0 L999.0,1065.3 L999.5,1064.5 L1000.0,1063.9 L1000.5,1063.7 L1001.0,1064.2 L1001.5,1065.2 L1002.0,1066.7 L1002.5,1068.4 L1003.0,1070.1 L1003.5,1071.5 L1004.0,1072.6 L1004.5,1073.2 L1005.0,1073.4 L1005.5,1073.1 L1006.0,1072.4 L1006.5,1071.3 L1007.0,1069.9 L1007.5,1068.1 L1008.0,1066.0 L1008.5,1063.7 L1009.0,1061.2 L1009.4,1058.7 L1009.9,1056.2 L1010.4,1053.8 L1010.9,1051.7 L1011.4,1049.8 L1011.9,1048.4 L1012.4,1047.2 L1012.9,1046.1 L1013.4,1045.2 L1013.9,1044.3 L1014.4,1043.3 L1014.9,1042.3 L1015.4,1041.6 L1015.9,1041.2 L1016.4,1041.4 L1016.9,1042.3 L1017.4,1044.0 L1017.9,1046.4 L1018.4,1049.2 L1018.9,1052.0 L1019.4,1054.7 L1019.9,1057.0 L1020.4,1059.1 L1020.9,1061.0 L1021.4,1062.6 L1021.9,1064.2 L1022.3,1065.6 L1022.8,1067.1 L1023.3,1068.5 L1023.8,1070.0 L1024.3,1071.7 L1024.8,1073.4 L1025.3,1075.4 L1025.8,1077.5 L1026.3,1079.6 L1026.8,1081.4 L1027.3,1082.3 L1027.8,1082.3 L1028.3,1080.9 L1028.8,1078.2 L1029.3,1074.9 L1029.8,1071.4 L1030.3,1068.1 L1030.8,1065.4 L1031.3,1063.3 L1031.8,1062.2 L1032.3,1062.0 L1032.8,1063.1 L1033.3,1065.1 L1033.8,1067.7 L1034.3,1070.5 L1034.8,1073.0 L1035.2,1074.8 L1035.7,1075.8 L1036.2,1076.2 L1036.7,1076.1 L1037.2,1075.5 L1037.7,1074.8 L1038.2,1073.9 L1038.7,1073.1 L1039.2,1072.4 L1039.7,1072.0 L1040.2,1072.1 L1040.7,1072.8 L1041.2,1073.8 L1041.7,1075.2 L1042.2,1076.6 L1042.7,1077.8 L1043.2,1078.8 L1043.7,1079.5 L1044.2,1080.0 L1044.7,1080.5 L1045.2,1081.0 L1045.7,1081.7 L1046.2,1082.7 L1046.7,1084.1 L1047.2,1086.0 L1047.7,1088.0 L1048.1,1089.9 L1048.6,1091.5 L1049.1,1092.4 L1049.6,1092.4 L1050.1,1091.3 L1050.6,1089.2 L1051.1,1086.5 L1051.6,1083.4 L1052.1,1080.0 L1052.6,1076.6 L1053.1,1073.5 L1053.6,1070.9 L1054.1,1069.1 L1054.6,1068.4 L1055.1,1068.6 L1055.6,1069.7 L1056.1,1071.3 L1056.6,1073.1 L1057.1,1075.1 L1057.6,1076.9 L1058.1,1078.5 L1058.6,1079.6 L1059.1,1080.2 L1059.6,1080.1 L1060.1,1079.3 L1060.6,1078.0 L1061.0,1076.6 L1061.5,1075.4 L1062.0,1074.8 L1062.5,1075.1 L1063.0,1076.4 L1063.5,1078.5 L1064.0,1081.1 L1064.5,1084.0 L1065.0,1087.0 L1065.5,1089.8 L1066.0,1092.3 L1066.5,1094.1 L1067.0,1095.0" fill="none" stroke="#000" stroke-width="2.8" stroke-linejoin="round"/>
<path clip-path="url(#ci)" d="M938.4,1076.3 L939.8,1076.3 L941.3,1076.3 L942.7,1076.3 L944.2,1076.3 L945.6,1076.3 L947.1,1076.3 L948.5,1076.3 L949.9,1076.3 L951.4,1076.3 L952.8,1076.3 L954.3,1076.3 L955.7,1076.3 L957.2,1076.3 L958.6,1076.3 L960.0,1076.3 L961.5,1076.3 L962.9,1076.3 L964.4,1076.3 L965.8,1076.3 L967.3,1076.3 L968.7,1076.3 L970.1,1076.3 L971.6,1076.3 L973.0,1076.3 L974.5,1076.3 L975.9,1076.3 L977.4,1076.3 L978.8,1076.3 L980.2,1076.3 L981.7,1076.3 L983.1,1076.3 L984.6,1076.3 L986.0,1076.3 L987.5,1076.3 L988.9,1076.3 L990.3,1076.3 L991.8,1076.3 L993.2,1076.3 L994.7,1076.3 L996.1,1076.2 L997.6,1076.1 L999.0,1075.8 L1000.4,1075.3 L1001.9,1074.4 L1003.3,1072.9 L1004.8,1070.5 L1006.2,1067.2 L1007.6,1062.9 L1009.1,1058.0 L1010.5,1053.0 L1012.0,1048.6 L1013.4,1045.6 L1014.9,1044.6 L1016.3,1045.8 L1017.7,1048.9 L1019.2,1053.4 L1020.6,1058.5 L1022.1,1063.3 L1023.5,1067.5 L1025.0,1070.8 L1026.4,1073.0 L1027.8,1074.5 L1029.3,1075.4 L1030.7,1075.9 L1032.2,1076.1 L1033.6,1076.2 L1035.1,1076.3 L1036.5,1076.3 L1037.9,1076.3 L1039.4,1076.3 L1040.8,1076.3 L1042.3,1076.3 L1043.7,1076.3 L1045.2,1076.3 L1046.6,1076.3 L1048.0,1076.3 L1049.5,1076.3 L1050.9,1076.3 L1052.4,1076.3 L1053.8,1076.3 L1055.3,1076.3 L1056.7,1076.3 L1058.1,1076.3 L1059.6,1076.3 L1061.0,1076.3 L1062.5,1076.3 L1063.9,1076.3 L1065.4,1076.3 L1066.8,1076.3" fill="none" stroke="#f00" stroke-width="2.8" stroke-linejoin="round"/>
<rect x="938.4" y="995.0" width="128.4" height="108.2" fill="none" stroke="#000" stroke-width="4.8"/>
<text x="1018.8" y="1138.0" font-size="26.4" text-anchor="middle">1500</text>
<rect x="999.1" y="1176.4" width="34.5" height="21.9" fill="none" stroke="#000" stroke-width="2.6"/>
<path d="M936.6,1105.1 L998.8,1176.1 M1068.6,1105.1 L1034,1176.1" fill="none" stroke="#000" stroke-width="2.8" stroke-dasharray="10.4 4.8" stroke-dashoffset="-4.7"/>
</svg>
</body></html>
